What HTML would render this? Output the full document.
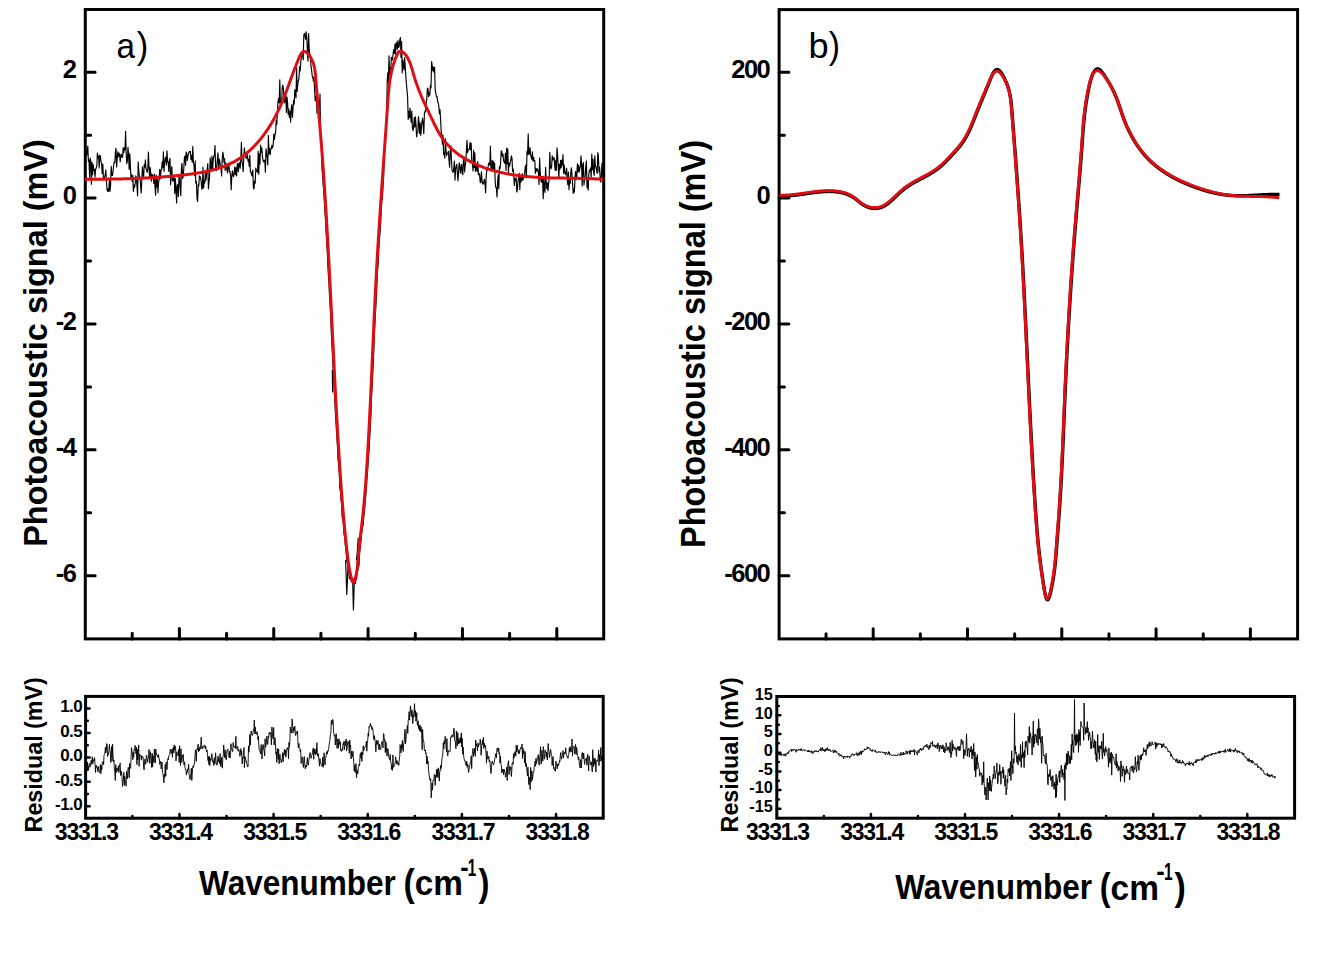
<!DOCTYPE html>
<html><head><meta charset="utf-8"><title>Photoacoustic spectra</title>
<style>html,body{margin:0;padding:0;background:#fff;width:1322px;height:953px;overflow:hidden}
svg text{font-family:"Liberation Sans", sans-serif}</style></head>
<body>
<svg width="1322" height="953" viewBox="0 0 1322 953" style="display:block">
<rect width="1322" height="953" fill="#fff"/>
<path d="M85.30 575.74L95.10 575.74M85.30 512.80L90.60 512.80M85.30 449.86L95.10 449.86M85.30 386.92L90.60 386.92M85.30 323.98L95.10 323.98M85.30 261.04L90.60 261.04M85.30 198.10L95.10 198.10M85.30 135.16L90.60 135.16M85.30 72.22L95.10 72.22M132.23 638.90L132.23 633.20M179.40 638.90L179.40 628.40M226.58 638.90L226.58 633.20M273.75 638.90L273.75 628.40M320.93 638.90L320.93 633.20M368.10 638.90L368.10 628.40M415.27 638.90L415.27 633.20M462.45 638.90L462.45 628.40M509.62 638.90L509.62 633.20M556.80 638.90L556.80 628.40" stroke="#000" stroke-width="3" fill="none" stroke-linecap="round"/><rect x="85.3" y="9.5" width="518.4000000000001" height="629.4" fill="none" stroke="#000" stroke-width="3"/><path d="M779.10 575.74L788.90 575.74M779.10 512.80L784.40 512.80M779.10 449.86L788.90 449.86M779.10 386.92L784.40 386.92M779.10 323.98L788.90 323.98M779.10 261.04L784.40 261.04M779.10 198.10L788.90 198.10M779.10 135.16L784.40 135.16M779.10 72.22L788.90 72.22M826.05 638.90L826.05 633.70M873.20 638.90L873.20 628.70M920.35 638.90L920.35 633.70M967.50 638.90L967.50 628.70M1014.65 638.90L1014.65 633.70M1061.80 638.90L1061.80 628.70M1108.95 638.90L1108.95 633.70M1156.10 638.90L1156.10 628.70M1203.25 638.90L1203.25 633.70M1250.40 638.90L1250.40 628.70" stroke="#000" stroke-width="3" fill="none" stroke-linecap="round"/><rect x="779.1" y="9.6" width="518.4999999999999" height="629.3" fill="none" stroke="#000" stroke-width="3"/><path d="M85.60 806.30L89.60 806.30M85.60 794.07L87.80 794.07M85.60 781.85L89.60 781.85M85.60 769.62L87.80 769.62M85.60 757.40L89.60 757.40M85.60 745.17L87.80 745.17M85.60 732.95L89.60 732.95M85.60 720.73L87.80 720.73M85.60 708.50L89.60 708.50M132.38 818.20L132.38 816.00M179.45 818.20L179.45 813.90M226.53 818.20L226.53 816.00M273.60 818.20L273.60 813.90M320.68 818.20L320.68 816.00M367.75 818.20L367.75 813.90M414.83 818.20L414.83 816.00M461.90 818.20L461.90 813.90M508.98 818.20L508.98 816.00M556.05 818.20L556.05 813.90" stroke="#000" stroke-width="2.5" fill="none" stroke-linecap="round"/><rect x="85.6" y="696.4" width="517.6" height="121.80000000000007" fill="none" stroke="#000" stroke-width="3"/><path d="M776.80 808.80L780.40 808.80M776.80 799.45L778.80 799.45M776.80 790.10L780.40 790.10M776.80 780.75L778.80 780.75M776.80 771.40L780.40 771.40M776.80 762.05L778.80 762.05M776.80 752.70L780.40 752.70M776.80 743.35L778.80 743.35M776.80 734.00L780.40 734.00M776.80 724.65L778.80 724.65M776.80 715.30L780.40 715.30M776.80 705.95L778.80 705.95M823.85 818.20L823.85 816.00M870.90 818.20L870.90 813.90M917.95 818.20L917.95 816.00M965.00 818.20L965.00 813.90M1012.05 818.20L1012.05 816.00M1059.10 818.20L1059.10 813.90M1106.15 818.20L1106.15 816.00M1153.20 818.20L1153.20 813.90M1200.25 818.20L1200.25 816.00M1247.30 818.20L1247.30 813.90" stroke="#000" stroke-width="2.5" fill="none" stroke-linecap="round"/><rect x="776.8" y="696.5" width="517.8" height="121.70000000000005" fill="none" stroke="#000" stroke-width="3"/><path d="M86.0 149.4L86.6 155.6L87.2 152.2L87.8 146.1L88.4 161.6L89.0 159.9L89.6 177.2L90.2 158.1L90.8 161.1L91.4 184.2L92.0 162.3L92.6 174.7L93.2 164.5L93.8 170.5L94.4 169.3L95.0 176.9L95.6 169.4L96.2 167.7L96.8 166.3L97.4 153.1L98.0 157.9L98.6 156.0L99.2 168.0L99.8 155.2L100.4 156.0L101.0 161.7L101.6 163.9L102.2 173.5L102.8 164.1L103.4 177.6L104.0 178.3L104.6 176.9L105.2 175.0L105.8 169.9L106.4 181.1L107.0 189.3L107.6 191.3L108.2 188.5L108.8 191.5L109.4 179.0L110.0 191.1L110.6 185.1L111.2 166.4L111.8 175.2L112.4 175.6L113.0 171.9L113.6 165.6L114.2 162.0L114.8 162.7L115.4 152.4L116.0 148.2L116.6 167.0L117.2 158.5L117.8 151.7L118.4 156.7L119.0 153.0L119.6 155.2L120.2 161.9L120.8 155.5L121.4 154.1L122.0 157.5L122.6 157.1L123.2 147.5L123.8 152.7L124.4 148.3L125.0 149.7L125.6 131.3L126.2 154.7L126.8 163.7L127.4 160.3L128.0 147.3L128.6 155.4L129.2 169.4L129.8 153.7L130.4 166.5L131.0 179.5L131.6 174.6L132.2 181.4L132.8 175.6L133.4 191.4L134.0 185.0L134.6 187.4L135.2 183.3L135.8 175.9L136.4 177.5L137.0 186.5L137.6 195.6L138.2 162.1L138.8 171.3L139.4 176.5L140.0 177.5L140.6 185.9L141.2 192.9L141.8 181.4L142.4 166.8L143.0 173.4L143.6 178.7L144.2 164.5L144.8 167.1L145.4 159.9L146.0 168.7L146.6 169.8L147.2 172.4L147.8 169.0L148.4 152.0L149.0 166.3L149.6 177.6L150.2 167.6L150.8 173.5L151.4 181.2L152.0 174.3L152.6 175.0L153.2 176.7L153.8 183.4L154.4 174.0L155.0 186.6L155.6 195.2L156.2 175.1L156.8 186.9L157.4 178.8L158.0 192.6L158.6 182.1L159.2 179.5L159.8 169.3L160.4 178.8L161.0 170.4L161.6 169.5L162.2 161.8L162.8 167.8L163.4 151.8L164.0 171.5L164.6 162.8L165.2 158.3L165.8 157.2L166.4 165.1L167.0 150.9L167.6 162.2L168.2 162.0L168.8 171.5L169.4 160.2L170.0 158.4L170.6 184.8L171.2 172.6L171.8 166.6L172.4 180.6L173.0 181.2L173.6 179.2L174.2 176.7L174.8 193.6L175.4 178.7L176.0 189.6L176.6 203.0L177.2 185.7L177.8 184.4L178.4 196.5L179.0 175.5L179.6 176.5L180.2 188.0L180.8 195.7L181.4 168.1L182.0 163.4L182.6 178.7L183.2 176.2L183.8 168.6L184.4 158.0L185.0 156.0L185.6 165.1L186.2 152.0L186.8 153.5L187.4 160.4L188.0 155.7L188.6 153.7L189.2 151.6L189.8 152.1L190.4 151.3L191.0 159.7L191.6 155.5L192.2 161.9L192.8 146.4L193.4 162.8L194.0 165.1L194.6 175.6L195.2 160.8L195.8 183.3L196.4 181.6L197.0 198.1L197.6 201.6L198.2 184.9L198.8 185.9L199.4 175.9L200.0 176.5L200.6 178.2L201.2 182.0L201.8 189.2L202.4 188.3L203.0 167.2L203.6 188.0L204.2 180.9L204.8 183.0L205.4 172.4L206.0 180.1L206.6 173.7L207.2 169.2L207.8 163.6L208.4 188.8L209.0 182.2L209.6 176.7L210.2 157.9L210.8 167.5L211.4 169.1L212.0 156.1L212.6 170.8L213.2 159.8L213.8 156.4L214.4 155.2L215.0 145.5L215.6 167.4L216.2 170.9L216.8 165.8L217.4 159.1L218.0 152.9L218.6 169.2L219.2 159.1L219.8 161.0L220.4 166.3L221.0 167.1L221.6 176.0L222.2 159.2L222.8 152.2L223.4 155.8L224.0 162.6L224.6 158.6L225.2 170.5L225.8 163.0L226.4 164.2L227.0 170.5L227.6 172.9L228.2 165.7L228.8 163.0L229.4 171.7L230.0 171.4L230.6 176.0L231.2 189.7L231.8 175.9L232.4 170.8L233.0 175.3L233.6 176.7L234.2 172.7L234.8 166.9L235.4 174.6L236.0 167.9L236.6 175.8L237.2 165.1L237.8 163.4L238.4 171.6L239.0 164.5L239.6 162.7L240.2 168.3L240.8 159.0L241.4 142.2L242.0 161.3L242.6 165.2L243.2 171.6L243.8 157.6L244.4 148.1L245.0 154.6L245.6 155.7L246.2 158.6L246.8 156.4L247.4 154.7L248.0 161.3L248.6 159.4L249.2 166.1L249.8 155.2L250.4 172.1L251.0 171.9L251.6 174.9L252.2 175.9L252.8 170.0L253.4 187.5L254.0 189.0L254.6 181.0L255.2 183.3L255.8 168.1L256.4 170.7L257.0 171.5L257.6 172.3L258.2 151.2L258.8 174.2L259.4 153.9L260.0 164.0L260.6 145.0L261.2 152.4L261.8 147.9L262.4 155.8L263.0 160.4L263.6 161.9L264.2 160.2L264.8 160.2L265.4 172.3L266.0 148.8L266.6 153.6L267.2 157.3L267.8 164.9L268.4 135.4L269.0 153.8L269.6 148.1L270.2 154.8L270.8 148.7L271.4 148.7L272.0 145.2L272.6 148.0L273.2 144.9L273.8 134.0L274.4 139.5L275.0 134.8L275.6 132.5L276.2 120.3L276.8 124.6L277.4 112.5L278.0 101.4L278.6 98.3L279.2 102.8L279.8 79.8L280.4 104.2L281.0 101.9L281.6 104.8L282.2 87.7L282.8 85.1L283.4 88.9L284.0 98.3L284.6 102.9L285.2 98.4L285.8 94.2L286.4 112.4L287.0 97.1L287.6 103.1L288.2 114.5L288.8 109.1L289.4 117.3L290.0 111.6L290.6 122.2L291.2 109.2L291.8 104.7L292.4 117.3L293.0 109.8L293.6 100.4L294.2 104.1L294.8 89.6L295.4 92.2L296.0 97.9L296.6 67.8L297.2 91.4L297.8 84.2L298.4 80.6L299.0 78.3L299.6 66.5L300.2 70.9L300.8 61.7L301.4 56.8L302.0 54.3L302.6 54.3L303.2 59.8L303.8 35.5L304.4 33.3L305.0 35.5L305.6 39.3L306.2 31.7L306.8 38.3L307.4 50.8L308.0 61.2L308.6 33.5L309.2 49.9L309.8 54.6L310.4 57.0L311.0 66.3L311.6 70.0L312.2 76.0L312.8 77.1L313.4 81.2L314.0 77.1L314.6 91.0L315.2 100.8L315.8 96.3L316.4 99.5L317.0 113.1L317.6 104.4L318.2 104.3L318.8 101.0L319.4 114.6L320.0 93.9L320.6 133.8L321.2 140.0L321.8 150.3L322.4 170.9L323.0 182.3L323.6 190.2L324.2 198.5L324.8 210.2L325.4 218.1L326.0 231.0L326.6 239.9L327.2 250.4L327.8 264.2L328.4 274.9L329.0 283.6L329.6 297.9L330.2 306.4L330.8 317.3L331.4 334.5L332.0 346.6L332.6 357.4L333.2 371.1L333.8 380.0L334.4 394.6L335.0 405.3L335.6 416.7L336.2 425.6L336.8 436.7L337.4 445.2L338.0 459.1L338.6 464.3L339.2 472.3L339.8 487.7L340.4 491.3L341.0 499.1L341.6 504.3L342.2 517.8L342.8 519.1L343.4 525.3L344.0 534.8L344.6 533.9L345.2 544.1L345.8 548.8L346.4 555.1L347.0 562.7L347.6 563.7L348.2 566.2L348.8 571.4L349.4 578.6L350.0 577.4L350.6 579.0L351.2 580.8L351.8 582.0L352.4 577.8L353.0 578.8L353.6 582.0L354.2 580.5L354.8 582.0L355.4 583.6L356.0 578.5L356.6 579.2L357.2 570.3L357.8 570.4L358.4 567.5L359.0 565.3L359.6 553.4L360.2 547.3L360.8 542.9L361.4 535.9L362.0 530.6L362.6 526.9L363.2 524.2L363.8 516.8L364.4 511.7L365.0 504.1L365.6 497.0L366.2 491.3L366.8 480.6L367.4 473.9L368.0 465.3L368.6 455.7L369.2 448.5L369.8 436.1L370.4 424.1L371.0 413.1L371.6 394.1L372.2 386.5L372.8 371.2L373.4 362.4L374.0 344.4L374.6 330.7L375.2 317.8L375.8 307.7L376.4 296.4L377.0 281.7L377.6 269.9L378.2 264.0L378.8 249.0L379.4 239.8L380.0 232.9L380.6 223.8L381.2 211.5L381.8 201.2L382.4 197.9L383.0 186.4L383.6 177.4L384.2 151.6L384.8 144.7L385.4 135.6L386.0 127.8L386.6 121.2L387.2 81.9L387.8 72.8L388.4 82.2L389.0 55.8L389.6 74.9L390.2 68.1L390.8 68.8L391.4 57.3L392.0 58.8L392.6 59.9L393.2 52.8L393.8 49.4L394.4 53.5L395.0 44.0L395.6 54.2L396.2 43.0L396.8 42.3L397.4 49.1L398.0 40.6L398.6 47.5L399.2 46.2L399.8 39.8L400.4 37.6L401.0 57.5L401.6 41.5L402.2 73.0L402.8 59.9L403.4 64.4L404.0 70.0L404.6 57.6L405.2 66.1L405.8 75.6L406.4 83.9L407.0 90.1L407.6 96.9L408.2 119.5L408.8 111.2L409.4 117.7L410.0 108.0L410.6 116.3L411.2 122.2L411.8 111.0L412.4 127.5L413.0 130.7L413.6 127.3L414.2 117.7L414.8 127.0L415.4 116.9L416.0 124.5L416.6 136.8L417.2 132.9L417.8 132.4L418.4 116.6L419.0 121.6L419.6 133.5L420.2 123.0L420.8 135.3L421.4 128.4L422.0 121.3L422.6 118.2L423.2 125.0L423.8 133.7L424.4 113.7L425.0 111.1L425.6 111.8L426.2 103.0L426.8 99.4L427.4 88.0L428.0 88.8L428.6 96.6L429.2 93.2L429.8 95.2L430.4 85.4L431.0 87.9L431.6 61.5L432.2 65.4L432.8 71.0L433.4 67.0L434.0 72.2L434.6 67.2L435.2 89.7L435.8 93.2L436.4 96.6L437.0 96.4L437.6 101.8L438.2 102.9L438.8 105.9L439.4 113.8L440.0 109.5L440.6 119.7L441.2 132.0L441.8 134.4L442.4 144.2L443.0 135.3L443.6 154.4L444.2 152.5L444.8 158.1L445.4 138.8L446.0 151.2L446.6 155.7L447.2 153.3L447.8 153.1L448.4 151.4L449.0 160.2L449.6 167.2L450.2 152.0L450.8 145.5L451.4 158.4L452.0 169.9L452.6 171.7L453.2 172.2L453.8 168.1L454.4 161.0L455.0 180.1L455.6 169.1L456.2 166.2L456.8 164.4L457.4 173.5L458.0 180.7L458.6 170.9L459.2 162.9L459.8 165.0L460.4 173.1L461.0 168.8L461.6 164.3L462.2 173.2L462.8 174.7L463.4 160.4L464.0 157.1L464.6 171.9L465.2 165.8L465.8 162.2L466.4 149.9L467.0 140.4L467.6 152.7L468.2 149.8L468.8 149.3L469.4 149.2L470.0 142.4L470.6 149.9L471.2 143.4L471.8 162.5L472.4 163.0L473.0 170.9L473.6 150.4L474.2 167.4L474.8 152.8L475.4 171.3L476.0 164.4L476.6 169.1L477.2 171.5L477.8 161.5L478.4 174.9L479.0 173.4L479.6 174.6L480.2 182.5L480.8 182.7L481.4 171.9L482.0 180.1L482.6 183.9L483.2 184.1L483.8 181.9L484.4 179.2L485.0 183.6L485.6 192.6L486.2 176.1L486.8 170.0L487.4 170.1L488.0 167.8L488.6 163.2L489.2 163.0L489.8 165.2L490.4 146.2L491.0 169.7L491.6 170.6L492.2 160.3L492.8 170.8L493.4 161.4L494.0 170.4L494.6 163.0L495.2 181.9L495.8 187.8L496.4 187.9L497.0 196.9L497.6 181.2L498.2 175.1L498.8 188.7L499.4 166.7L500.0 168.6L500.6 163.1L501.2 150.9L501.8 151.5L502.4 156.2L503.0 154.1L503.6 160.6L504.2 162.2L504.8 163.3L505.4 153.2L506.0 170.4L506.6 148.2L507.2 163.7L507.8 148.9L508.4 173.2L509.0 163.2L509.6 166.0L510.2 162.4L510.8 160.0L511.4 155.9L512.0 158.2L512.6 171.5L513.2 168.8L513.8 176.7L514.4 185.5L515.0 178.3L515.6 180.3L516.2 177.7L516.8 192.0L517.4 189.8L518.0 181.0L518.6 178.3L519.2 173.2L519.8 189.8L520.4 175.4L521.0 182.0L521.6 179.1L522.2 173.5L522.8 180.2L523.4 179.1L524.0 176.2L524.6 174.0L525.2 167.2L525.8 165.2L526.4 178.0L527.0 151.3L527.6 154.7L528.2 133.9L528.8 154.5L529.4 153.2L530.0 147.6L530.6 155.5L531.2 156.8L531.8 159.3L532.4 151.8L533.0 161.1L533.6 157.3L534.2 160.9L534.8 160.5L535.4 173.4L536.0 168.4L536.6 171.0L537.2 168.9L537.8 169.6L538.4 173.0L539.0 184.5L539.6 158.1L540.2 171.8L540.8 179.8L541.4 182.3L542.0 179.0L542.6 177.8L543.2 198.8L543.8 179.2L544.4 189.4L545.0 192.4L545.6 167.4L546.2 181.4L546.8 188.8L547.4 182.7L548.0 190.7L548.6 183.3L549.2 178.1L549.8 152.3L550.4 166.6L551.0 168.9L551.6 167.1L552.2 155.8L552.8 159.9L553.4 159.6L554.0 157.4L554.6 164.1L555.2 170.4L555.8 160.2L556.4 170.2L557.0 147.9L557.6 155.4L558.2 164.9L558.8 178.6L559.4 164.3L560.0 169.2L560.6 160.4L561.2 167.6L561.8 160.1L562.4 165.0L563.0 154.5L563.6 173.4L564.2 165.0L564.8 171.5L565.4 174.9L566.0 173.4L566.6 168.2L567.2 178.2L567.8 184.7L568.4 172.0L569.0 189.8L569.6 179.2L570.2 183.7L570.8 172.4L571.4 167.9L572.0 175.4L572.6 183.6L573.2 193.5L573.8 188.9L574.4 192.1L575.0 178.2L575.6 171.6L576.2 179.8L576.8 176.3L577.4 163.8L578.0 171.9L578.6 165.4L579.2 172.0L579.8 168.3L580.4 166.4L581.0 155.8L581.6 165.3L582.2 185.9L582.8 164.7L583.4 162.6L584.0 185.0L584.6 178.6L585.2 176.6L585.8 165.9L586.4 161.1L587.0 187.7L587.6 177.8L588.2 190.2L588.8 174.4L589.4 170.0L590.0 171.0L590.6 167.8L591.2 177.2L591.8 154.0L592.4 169.8L593.0 159.1L593.6 171.6L594.2 175.4L594.8 155.9L595.4 166.1L596.0 167.1L596.6 170.5L597.2 173.6L597.8 152.5L598.4 156.2L599.0 171.9L599.6 167.1L600.2 179.0L600.8 182.1L601.4 174.6L602.0 163.1L602.6 174.4L603.2 180.8" fill="none" stroke="#000" stroke-width="1.15" stroke-linejoin="round"/><path d="M345.6 560L346.8 594.5L348 566M352.6 578L353.4 610L354.4 580M356.3 560L357.2 553L358.2 538L357.4 556L356.6 575M332.3 370L332.6 392L333 378M322.2 148L321.6 160L322.6 175" fill="none" stroke="#000" stroke-width="1.15" stroke-linejoin="round"/><path d="M85.0 179.3L85.5 179.3L86.0 179.3L86.5 179.3L87.0 179.3L87.5 179.3L88.0 179.3L88.5 179.3L89.0 179.3L89.5 179.3L90.0 179.3L90.5 179.3L91.0 179.3L91.5 179.3L92.0 179.3L92.5 179.3L93.0 179.3L93.5 179.3L94.0 179.3L94.5 179.3L95.0 179.3L95.5 179.3L96.0 179.3L96.5 179.3L97.0 179.3L97.5 179.3L98.0 179.2L98.5 179.2L99.0 179.2L99.5 179.2L100.0 179.2L100.5 179.2L101.0 179.2L101.5 179.2L102.0 179.2L102.5 179.2L103.0 179.2L103.5 179.2L104.0 179.2L104.5 179.2L105.0 179.2L105.5 179.2L106.0 179.2L106.5 179.2L107.0 179.2L107.5 179.2L108.0 179.1L108.5 179.1L109.0 179.1L109.5 179.1L110.0 179.1L110.5 179.1L111.0 179.1L111.5 179.1L112.0 179.1L112.5 179.1L113.0 179.1L113.5 179.1L114.0 179.1L114.5 179.0L115.0 179.0L115.5 179.0L116.0 179.0L116.5 179.0L117.0 179.0L117.5 179.0L118.0 179.0L118.5 179.0L119.0 179.0L119.5 178.9L120.0 178.9L120.5 178.9L121.0 178.9L121.5 178.9L122.0 178.9L122.5 178.9L123.0 178.9L123.5 178.8L124.0 178.8L124.5 178.8L125.0 178.8L125.5 178.8L126.0 178.8L126.5 178.8L127.0 178.7L127.5 178.7L128.0 178.7L128.5 178.7L129.0 178.7L129.5 178.7L130.0 178.7L130.5 178.6L131.0 178.6L131.5 178.6L132.0 178.6L132.5 178.6L133.0 178.6L133.5 178.5L134.0 178.5L134.5 178.5L135.0 178.5L135.5 178.5L136.0 178.4L136.5 178.4L137.0 178.4L137.5 178.4L138.0 178.4L138.5 178.3L139.0 178.3L139.5 178.3L140.0 178.3L140.5 178.2L141.0 178.2L141.5 178.2L142.0 178.2L142.5 178.1L143.0 178.1L143.5 178.1L144.0 178.1L144.5 178.0L145.0 178.0L145.5 178.0L146.0 178.0L146.5 177.9L147.0 177.9L147.5 177.9L148.0 177.9L148.5 177.8L149.0 177.8L149.5 177.8L150.0 177.7L150.5 177.7L151.0 177.7L151.5 177.7L152.0 177.6L152.5 177.6L153.0 177.6L153.5 177.5L154.0 177.5L154.5 177.5L155.0 177.4L155.5 177.4L156.0 177.4L156.5 177.3L157.0 177.3L157.5 177.3L158.0 177.2L158.5 177.2L159.0 177.2L159.5 177.1L160.0 177.1L160.5 177.1L161.0 177.0L161.5 177.0L162.0 176.9L162.5 176.9L162.9 176.9L163.4 176.8L163.9 176.8L164.4 176.7L164.9 176.7L165.4 176.7L165.9 176.6L166.4 176.6L166.9 176.5L167.4 176.5L167.9 176.5L168.4 176.4L168.9 176.4L169.4 176.3L169.9 176.3L170.4 176.2L170.9 176.2L171.4 176.2L171.9 176.1L172.4 176.1L172.9 176.0L173.4 176.0L173.9 175.9L174.4 175.9L174.9 175.8L175.4 175.8L175.9 175.7L176.4 175.7L176.9 175.6L177.4 175.6L177.9 175.5L178.4 175.5L178.9 175.4L179.4 175.4L179.9 175.3L180.4 175.3L180.9 175.2L181.4 175.2L181.9 175.1L182.4 175.1L182.9 175.0L183.4 175.0L183.9 174.9L184.4 174.8L184.9 174.8L185.3 174.7L185.8 174.7L186.3 174.6L186.8 174.5L187.3 174.5L187.8 174.4L188.3 174.4L188.8 174.3L189.3 174.2L189.8 174.2L190.3 174.1L190.8 174.0L191.3 174.0L191.8 173.9L192.3 173.8L192.8 173.8L193.3 173.7L193.8 173.6L194.3 173.6L194.8 173.5L195.3 173.4L195.8 173.3L196.3 173.3L196.7 173.2L197.2 173.1L197.7 173.0L198.2 173.0L198.7 172.9L199.2 172.8L199.7 172.7L200.2 172.6L200.7 172.5L201.2 172.4L201.7 172.4L202.2 172.3L202.7 172.2L203.1 172.1L203.6 172.0L204.1 171.9L204.6 171.8L205.1 171.7L205.6 171.6L206.1 171.5L206.6 171.4L207.1 171.3L207.6 171.2L208.0 171.1L208.5 170.9L209.0 170.8L209.5 170.7L210.0 170.6L210.5 170.5L211.0 170.4L211.5 170.2L211.9 170.1L212.4 170.0L212.9 169.9L213.4 169.7L213.9 169.6L214.4 169.5L214.8 169.3L215.3 169.2L215.8 169.1L216.3 168.9L216.8 168.8L217.2 168.6L217.7 168.5L218.2 168.4L218.7 168.2L219.1 168.0L219.6 167.9L220.1 167.7L220.6 167.6L221.0 167.4L221.5 167.2L222.0 167.1L222.5 166.9L222.9 166.7L223.4 166.6L223.9 166.4L224.3 166.2L224.8 166.0L225.3 165.8L225.7 165.7L226.2 165.5L226.6 165.3L227.1 165.1L227.6 164.9L228.0 164.7L228.5 164.5L228.9 164.3L229.4 164.1L229.8 163.9L230.3 163.6L230.7 163.4L231.2 163.2L231.6 163.0L232.1 162.8L232.5 162.5L233.0 162.3L233.4 162.1L233.9 161.8L234.3 161.6L234.7 161.4L235.2 161.1L235.6 160.9L236.0 160.6L236.5 160.4L236.9 160.1L237.3 159.8L237.8 159.6L238.2 159.3L238.6 159.0L239.0 158.8L239.4 158.5L239.9 158.2L240.3 157.9L240.7 157.7L241.1 157.4L241.5 157.1L241.9 156.8L242.3 156.5L242.7 156.2L243.1 155.9L243.5 155.6L243.9 155.3L244.3 155.0L244.7 154.7L245.1 154.4L245.5 154.1L245.9 153.8L246.3 153.5L246.7 153.1L247.1 152.8L247.4 152.5L247.8 152.2L248.2 151.8L248.6 151.5L248.9 151.2L249.3 150.9L249.7 150.5L250.1 150.2L250.4 149.8L250.8 149.5L251.2 149.2L251.5 148.8L251.9 148.5L252.2 148.1L252.6 147.8L253.0 147.4L253.3 147.1L253.7 146.7L254.0 146.4L254.4 146.0L254.7 145.6L255.0 145.3L255.4 144.9L255.7 144.5L256.1 144.2L256.4 143.8L256.7 143.4L257.1 143.1L257.4 142.7L257.7 142.3L258.1 141.9L258.4 141.6L258.7 141.2L259.1 140.8L259.4 140.4L259.7 140.0L260.0 139.7L260.3 139.3L260.6 138.9L261.0 138.5L261.3 138.1L261.6 137.7L261.9 137.3L262.2 136.9L262.5 136.5L262.8 136.1L263.1 135.7L263.4 135.3L263.7 134.9L264.0 134.5L264.3 134.1L264.6 133.7L264.9 133.3L265.2 132.9L265.5 132.5L265.8 132.1L266.1 131.7L266.3 131.3L266.6 130.9L266.9 130.5L267.2 130.0L267.5 129.6L267.7 129.2L268.0 128.8L268.3 128.4L268.6 128.0L268.8 127.5L269.1 127.1L269.4 126.7L269.6 126.3L269.9 125.8L270.2 125.4L270.4 125.0L270.7 124.6L271.0 124.1L271.2 123.7L271.5 123.3L271.7 122.9L272.0 122.4L272.2 122.0L272.5 121.6L272.7 121.1L273.0 120.7L273.2 120.3L273.5 119.8L273.7 119.4L274.0 118.9L274.2 118.5L274.4 118.1L274.7 117.6L274.9 117.2L275.2 116.7L275.4 116.3L275.6 115.9L275.8 115.4L276.1 115.0L276.3 114.5L276.5 114.1L276.8 113.6L277.0 113.2L277.2 112.7L277.4 112.3L277.6 111.8L277.9 111.4L278.1 110.9L278.3 110.5L278.5 110.0L278.7 109.6L278.9 109.1L279.2 108.7L279.4 108.2L279.6 107.8L279.8 107.3L280.0 106.9L280.2 106.4L280.4 106.0L280.6 105.5L280.8 105.0L281.0 104.6L281.2 104.1L281.4 103.7L281.6 103.2L281.8 102.7L282.0 102.3L282.2 101.8L282.4 101.4L282.6 100.9L282.7 100.4L282.9 100.0L283.1 99.5L283.3 99.0L283.5 98.6L283.7 98.1L283.9 97.7L284.1 97.2L284.2 96.7L284.4 96.3L284.6 95.8L284.8 95.3L285.0 94.9L285.1 94.4L285.3 93.9L285.5 93.5L285.7 93.0L285.9 92.5L286.0 92.1L286.2 91.6L286.4 91.1L286.6 90.7L286.7 90.2L286.9 89.7L287.1 89.2L287.3 88.8L287.4 88.3L287.6 87.8L287.8 87.4L288.0 86.9L288.1 86.4L288.3 86.0L288.5 85.5L288.6 85.0L288.8 84.6L289.0 84.1L289.2 83.6L289.3 83.1L289.5 82.7L289.7 82.2L289.8 81.7L290.0 81.3L290.2 80.8L290.4 80.3L290.5 79.9L290.7 79.4L290.9 78.9L291.0 78.4L291.2 78.0L291.4 77.5L291.6 77.0L291.7 76.6L291.9 76.1L292.1 75.6L292.3 75.2L292.4 74.7L292.6 74.2L292.8 73.8L292.9 73.3L293.1 72.8L293.3 72.3L293.5 71.9L293.6 71.4L293.8 70.9L294.0 70.5L294.2 70.0L294.4 69.5L294.5 69.1L294.7 68.6L294.9 68.1L295.1 67.7L295.3 67.2L295.4 66.7L295.6 66.3L295.8 65.8L296.0 65.3L296.2 64.9L296.4 64.4L296.5 63.9L296.7 63.5L296.9 63.0L297.1 62.6L297.3 62.1L297.5 61.6L297.7 61.2L297.8 60.7L298.0 60.2L298.2 59.8L298.4 59.3L298.6 58.9L298.8 58.4L299.0 57.9L299.2 57.5L299.4 57.0L299.6 56.6L299.8 56.1L300.0 55.7L300.2 55.2L300.5 54.8L300.7 54.3L301.0 53.9L301.2 53.5L301.5 53.1L301.8 52.7L302.2 52.3L302.6 52.0L303.0 51.7L303.4 51.5L303.9 51.4L304.4 51.4L304.9 51.5L305.4 51.7L305.8 51.9L306.2 52.2L306.6 52.5L307.0 52.8L307.4 53.1L307.7 53.5L308.1 53.9L308.4 54.2L308.7 54.6L309.0 55.0L309.3 55.4L309.6 55.8L309.9 56.2L310.2 56.6L310.4 57.1L310.7 57.5L311.0 57.9L311.2 58.4L311.4 58.8L311.7 59.2L311.9 59.7L312.1 60.2L312.3 60.6L312.5 61.1L312.7 61.5L312.9 62.0L313.0 62.5L313.2 62.9L313.4 63.4L313.5 63.9L313.7 64.4L313.8 64.9L313.9 65.3L314.0 65.8L314.2 66.3L314.3 66.8L314.4 67.3L314.5 67.8L314.6 68.3L314.7 68.8L314.8 69.2L314.8 69.7L314.9 70.2L315.0 70.7L315.1 71.2L315.1 71.7L315.2 72.2L315.2 72.7L315.3 73.2L315.4 73.7L315.4 74.2L315.5 74.7L315.5 75.2L315.5 75.7L315.6 76.2L315.6 76.7L315.7 77.2L315.7 77.7L315.7 78.2L315.8 78.7L315.8 79.2L315.9 79.7L315.9 80.2L315.9 80.7L316.0 81.2L316.0 81.7L316.0 82.2L316.1 82.7L316.1 83.2L316.2 83.7L316.2 84.2L316.2 84.7L316.3 85.2L316.3 85.7L316.4 86.2L316.4 86.7L316.4 87.2L316.5 87.7L316.5 88.2L316.6 88.7L316.6 89.2L316.6 89.7L316.7 90.2L316.7 90.6L316.8 91.1L316.8 91.6L316.9 92.1L316.9 92.6L316.9 93.1L317.0 93.6L317.0 94.1L317.1 94.6L317.1 95.1L317.2 95.6L317.2 96.1L317.3 96.6L317.3 97.1L317.3 97.6L317.4 98.1L317.4 98.6L317.5 99.1L317.5 99.6L317.6 100.1L317.6 100.6L317.7 101.1L317.7 101.6L317.7 102.1L317.8 102.6L317.8 103.1L317.9 103.6L317.9 104.1L318.0 104.6L318.0 105.1L318.1 105.6L318.1 106.1L318.1 106.6L318.2 107.1L318.2 107.6L318.3 108.1L318.3 108.6L318.4 109.1L318.4 109.6L318.5 110.1L318.5 110.6L318.6 111.1L318.6 111.6L318.6 112.1L318.7 112.6L318.7 113.1L318.8 113.6L318.8 114.1L318.9 114.6L318.9 115.1L319.0 115.6L319.0 116.1L319.0 116.5L319.1 117.0L319.1 117.5L319.2 118.0L319.2 118.5L319.3 119.0L319.3 119.5L319.4 120.0L319.4 120.5L319.4 121.0L319.5 121.5L319.5 122.0L319.6 122.5L319.6 123.0L319.7 123.5L319.7 124.0L319.7 124.5L319.8 125.0L319.8 125.5L319.9 126.0L319.9 126.5L320.0 127.0L320.0 127.5L320.0 128.0L320.1 128.5L320.1 129.0L320.2 129.5L320.2 130.0L320.2 130.5L320.3 131.0L320.3 131.5L320.4 132.0L320.4 132.5L320.5 133.0L320.5 133.5L320.5 134.0L320.6 134.5L320.6 135.0L320.7 135.5L320.7 136.0L320.7 136.5L320.8 137.0L320.8 137.5L320.9 138.0L320.9 138.5L320.9 139.0L321.0 139.5L321.0 140.0L321.1 140.5L321.1 141.0L321.1 141.5L321.2 142.0L321.2 142.5L321.3 143.0L321.3 143.5L321.3 144.0L321.4 144.5L321.4 145.0L321.5 145.5L321.5 146.0L321.5 146.4L321.6 146.9L321.6 147.4L321.7 147.9L321.7 148.4L321.7 148.9L321.8 149.4L321.8 149.9L321.8 150.4L321.9 150.9L321.9 151.4L322.0 151.9L322.0 152.4L322.0 152.9L322.1 153.4L322.1 153.9L322.2 154.4L322.2 154.9L322.2 155.4L322.3 155.9L322.3 156.4L322.3 156.9L322.4 157.4L322.4 157.9L322.5 158.4L322.5 158.9L322.5 159.4L322.6 159.9L322.6 160.4L322.6 160.9L322.7 161.4L322.7 161.9L322.7 162.4L322.8 162.9L322.8 163.4L322.9 163.9L322.9 164.4L322.9 164.9L323.0 165.4L323.0 165.9L323.0 166.4L323.1 166.9L323.1 167.4L323.1 167.9L323.2 168.4L323.2 168.9L323.3 169.4L323.3 169.9L323.3 170.4L323.4 170.9L323.4 171.4L323.4 171.9L323.5 172.4L323.5 172.9L323.5 173.4L323.6 173.9L323.6 174.4L323.6 174.9L323.7 175.4L323.7 175.9L323.7 176.4L323.8 176.9L323.8 177.4L323.8 177.9L323.9 178.4L323.9 178.9L323.9 179.4L324.0 179.9L324.0 180.4L324.1 180.9L324.1 181.4L324.1 181.9L324.2 182.4L324.2 182.9L324.2 183.4L324.3 183.9L324.3 184.4L324.3 184.9L324.4 185.4L324.4 185.9L324.4 186.3L324.5 186.8L324.5 187.3L324.5 187.8L324.6 188.3L324.6 188.8L324.6 189.3L324.7 189.8L324.7 190.3L324.7 190.8L324.8 191.3L324.8 191.8L324.8 192.3L324.9 192.8L324.9 193.3L324.9 193.8L324.9 194.3L325.0 194.8L325.0 195.3L325.0 195.8L325.1 196.3L325.1 196.8L325.1 197.3L325.2 197.8L325.2 198.3L325.2 198.8L325.3 199.3L325.3 199.8L325.3 200.3L325.4 200.8L325.4 201.3L325.4 201.8L325.5 202.3L325.5 202.8L325.5 203.3L325.6 203.8L325.6 204.3L325.6 204.8L325.6 205.3L325.7 205.8L325.7 206.3L325.7 206.8L325.8 207.3L325.8 207.8L325.8 208.3L325.9 208.8L325.9 209.3L325.9 209.8L326.0 210.3L326.0 210.8L326.0 211.3L326.0 211.8L326.1 212.3L326.1 212.8L326.1 213.3L326.2 213.8L326.2 214.3L326.2 214.8L326.3 215.3L326.3 215.8L326.3 216.3L326.4 216.8L326.4 217.3L326.4 217.8L326.4 218.3L326.5 218.8L326.5 219.3L326.5 219.8L326.6 220.3L326.6 220.8L326.6 221.3L326.6 221.8L326.7 222.3L326.7 222.8L326.7 223.3L326.8 223.8L326.8 224.3L326.8 224.8L326.9 225.3L326.9 225.8L326.9 226.3L326.9 226.8L327.0 227.3L327.0 227.8L327.0 228.3L327.1 228.8L327.1 229.3L327.1 229.8L327.1 230.3L327.2 230.8L327.2 231.3L327.2 231.8L327.3 232.3L327.3 232.8L327.3 233.3L327.3 233.8L327.4 234.3L327.4 234.8L327.4 235.3L327.5 235.8L327.5 236.3L327.5 236.8L327.5 237.3L327.6 237.8L327.6 238.3L327.6 238.8L327.7 239.3L327.7 239.8L327.7 240.3L327.7 240.8L327.8 241.3L327.8 241.8L327.8 242.3L327.8 242.8L327.9 243.3L327.9 243.7L327.9 244.2L328.0 244.7L328.0 245.2L328.0 245.7L328.0 246.2L328.1 246.7L328.1 247.2L328.1 247.7L328.2 248.2L328.2 248.7L328.2 249.2L328.2 249.7L328.3 250.2L328.3 250.7L328.3 251.2L328.3 251.7L328.4 252.2L328.4 252.7L328.4 253.2L328.4 253.7L328.5 254.2L328.5 254.7L328.5 255.2L328.6 255.7L328.6 256.2L328.6 256.7L328.6 257.2L328.7 257.7L328.7 258.2L328.7 258.7L328.7 259.2L328.8 259.7L328.8 260.2L328.8 260.7L328.9 261.2L328.9 261.7L328.9 262.2L328.9 262.7L329.0 263.2L329.0 263.7L329.0 264.2L329.0 264.7L329.1 265.2L329.1 265.7L329.1 266.2L329.1 266.7L329.2 267.2L329.2 267.7L329.2 268.2L329.2 268.7L329.3 269.2L329.3 269.7L329.3 270.2L329.3 270.7L329.4 271.2L329.4 271.7L329.4 272.2L329.5 272.7L329.5 273.2L329.5 273.7L329.5 274.2L329.6 274.7L329.6 275.2L329.6 275.7L329.6 276.2L329.7 276.7L329.7 277.2L329.7 277.7L329.7 278.2L329.8 278.7L329.8 279.2L329.8 279.7L329.8 280.2L329.9 280.7L329.9 281.2L329.9 281.7L329.9 282.2L330.0 282.7L330.0 283.2L330.0 283.7L330.0 284.2L330.1 284.7L330.1 285.2L330.1 285.7L330.1 286.2L330.2 286.7L330.2 287.2L330.2 287.7L330.2 288.2L330.3 288.7L330.3 289.2L330.3 289.7L330.3 290.2L330.4 290.7L330.4 291.2L330.4 291.7L330.4 292.2L330.5 292.7L330.5 293.2L330.5 293.7L330.5 294.2L330.6 294.7L330.6 295.2L330.6 295.7L330.6 296.2L330.7 296.7L330.7 297.2L330.7 297.7L330.7 298.2L330.8 298.7L330.8 299.2L330.8 299.7L330.8 300.2L330.9 300.7L330.9 301.2L330.9 301.7L330.9 302.2L331.0 302.7L331.0 303.2L331.0 303.7L331.0 304.2L331.1 304.7L331.1 305.2L331.1 305.7L331.1 306.2L331.2 306.7L331.2 307.2L331.2 307.7L331.2 308.2L331.3 308.7L331.3 309.2L331.3 309.7L331.3 310.2L331.4 310.7L331.4 311.2L331.4 311.7L331.4 312.2L331.5 312.7L331.5 313.2L331.5 313.7L331.5 314.2L331.6 314.7L331.6 315.2L331.6 315.7L331.6 316.2L331.7 316.7L331.7 317.2L331.7 317.7L331.7 318.2L331.8 318.7L331.8 319.2L331.8 319.7L331.8 320.2L331.9 320.7L331.9 321.2L331.9 321.7L331.9 322.2L332.0 322.7L332.0 323.2L332.0 323.7L332.0 324.2L332.1 324.7L332.1 325.2L332.1 325.7L332.1 326.2L332.2 326.7L332.2 327.1L332.2 327.6L332.2 328.1L332.3 328.6L332.3 329.1L332.3 329.6L332.3 330.1L332.3 330.6L332.4 331.1L332.4 331.6L332.4 332.1L332.4 332.6L332.5 333.1L332.5 333.6L332.5 334.1L332.5 334.6L332.6 335.1L332.6 335.6L332.6 336.1L332.6 336.6L332.7 337.1L332.7 337.6L332.7 338.1L332.7 338.6L332.8 339.1L332.8 339.6L332.8 340.1L332.8 340.6L332.9 341.1L332.9 341.6L332.9 342.1L332.9 342.6L333.0 343.1L333.0 343.6L333.0 344.1L333.0 344.6L333.1 345.1L333.1 345.6L333.1 346.1L333.1 346.6L333.2 347.1L333.2 347.6L333.2 348.1L333.2 348.6L333.3 349.1L333.3 349.6L333.3 350.1L333.3 350.6L333.4 351.1L333.4 351.6L333.4 352.1L333.4 352.6L333.5 353.1L333.5 353.6L333.5 354.1L333.5 354.6L333.6 355.1L333.6 355.6L333.6 356.1L333.6 356.6L333.7 357.1L333.7 357.6L333.7 358.1L333.7 358.6L333.8 359.1L333.8 359.6L333.8 360.1L333.8 360.6L333.9 361.1L333.9 361.6L333.9 362.1L333.9 362.6L334.0 363.1L334.0 363.6L334.0 364.1L334.0 364.6L334.1 365.1L334.1 365.6L334.1 366.1L334.1 366.6L334.2 367.1L334.2 367.6L334.2 368.1L334.2 368.6L334.3 369.1L334.3 369.6L334.3 370.1L334.3 370.6L334.4 371.1L334.4 371.6L334.4 372.1L334.4 372.6L334.5 373.1L334.5 373.6L334.5 374.1L334.5 374.6L334.6 375.1L334.6 375.6L334.6 376.1L334.6 376.6L334.7 377.1L334.7 377.6L334.7 378.1L334.7 378.6L334.8 379.1L334.8 379.6L334.8 380.1L334.8 380.6L334.9 381.1L334.9 381.6L334.9 382.1L334.9 382.6L335.0 383.1L335.0 383.6L335.0 384.1L335.0 384.6L335.1 385.1L335.1 385.6L335.1 386.1L335.1 386.6L335.2 387.1L335.2 387.6L335.2 388.1L335.2 388.6L335.3 389.1L335.3 389.6L335.3 390.1L335.4 390.6L335.4 391.1L335.4 391.6L335.4 392.1L335.5 392.6L335.5 393.1L335.5 393.6L335.5 394.1L335.6 394.6L335.6 395.1L335.6 395.6L335.6 396.1L335.7 396.6L335.7 397.1L335.7 397.6L335.7 398.1L335.8 398.6L335.8 399.1L335.8 399.6L335.9 400.1L335.9 400.6L335.9 401.1L335.9 401.6L336.0 402.1L336.0 402.6L336.0 403.1L336.0 403.6L336.1 404.1L336.1 404.6L336.1 405.1L336.1 405.6L336.2 406.1L336.2 406.6L336.2 407.1L336.3 407.6L336.3 408.1L336.3 408.6L336.3 409.1L336.4 409.6L336.4 410.1L336.4 410.6L336.4 411.1L336.5 411.5L336.5 412.0L336.5 412.5L336.6 413.0L336.6 413.5L336.6 414.0L336.6 414.5L336.7 415.0L336.7 415.5L336.7 416.0L336.8 416.5L336.8 417.0L336.8 417.5L336.8 418.0L336.9 418.5L336.9 419.0L336.9 419.5L336.9 420.0L337.0 420.5L337.0 421.0L337.0 421.5L337.1 422.0L337.1 422.5L337.1 423.0L337.1 423.5L337.2 424.0L337.2 424.5L337.2 425.0L337.3 425.5L337.3 426.0L337.3 426.5L337.3 427.0L337.4 427.5L337.4 428.0L337.4 428.5L337.5 429.0L337.5 429.5L337.5 430.0L337.5 430.5L337.6 431.0L337.6 431.5L337.6 432.0L337.7 432.5L337.7 433.0L337.7 433.5L337.7 434.0L337.8 434.5L337.8 435.0L337.8 435.5L337.9 436.0L337.9 436.5L337.9 437.0L338.0 437.5L338.0 438.0L338.0 438.5L338.0 439.0L338.1 439.5L338.1 440.0L338.1 440.5L338.2 441.0L338.2 441.5L338.2 442.0L338.3 442.5L338.3 443.0L338.3 443.5L338.3 444.0L338.4 444.5L338.4 445.0L338.4 445.5L338.5 446.0L338.5 446.5L338.5 447.0L338.6 447.5L338.6 448.0L338.6 448.5L338.6 449.0L338.7 449.5L338.7 450.0L338.7 450.5L338.8 451.0L338.8 451.5L338.8 452.0L338.9 452.5L338.9 453.0L338.9 453.5L339.0 454.0L339.0 454.5L339.0 455.0L339.1 455.5L339.1 456.0L339.1 456.5L339.1 457.0L339.2 457.5L339.2 458.0L339.2 458.5L339.3 459.0L339.3 459.5L339.3 460.0L339.4 460.5L339.4 461.0L339.4 461.5L339.5 462.0L339.5 462.5L339.5 463.0L339.6 463.5L339.6 464.0L339.6 464.5L339.7 465.0L339.7 465.5L339.7 466.0L339.8 466.5L339.8 467.0L339.8 467.5L339.9 468.0L339.9 468.5L339.9 469.0L340.0 469.5L340.0 470.0L340.0 470.4L340.1 470.9L340.1 471.4L340.1 471.9L340.2 472.4L340.2 472.9L340.2 473.4L340.3 473.9L340.3 474.4L340.3 474.9L340.4 475.4L340.4 475.9L340.4 476.4L340.5 476.9L340.5 477.4L340.5 477.9L340.6 478.4L340.6 478.9L340.6 479.4L340.7 479.9L340.7 480.4L340.7 480.9L340.8 481.4L340.8 481.9L340.8 482.4L340.9 482.9L340.9 483.4L340.9 483.9L341.0 484.4L341.0 484.9L341.1 485.4L341.1 485.9L341.1 486.4L341.2 486.9L341.2 487.4L341.2 487.9L341.3 488.4L341.3 488.9L341.3 489.4L341.4 489.9L341.4 490.4L341.5 490.9L341.5 491.4L341.5 491.9L341.6 492.4L341.6 492.9L341.6 493.4L341.7 493.9L341.7 494.4L341.8 494.9L341.8 495.4L341.8 495.9L341.9 496.4L341.9 496.9L342.0 497.4L342.0 497.9L342.0 498.4L342.1 498.9L342.1 499.4L342.1 499.9L342.2 500.4L342.2 500.9L342.3 501.4L342.3 501.9L342.3 502.4L342.4 502.9L342.4 503.4L342.5 503.9L342.5 504.4L342.5 504.9L342.6 505.4L342.6 505.9L342.7 506.4L342.7 506.9L342.8 507.4L342.8 507.9L342.8 508.3L342.9 508.8L342.9 509.3L343.0 509.8L343.0 510.3L343.0 510.8L343.1 511.3L343.1 511.8L343.2 512.3L343.2 512.8L343.3 513.3L343.3 513.8L343.3 514.3L343.4 514.8L343.4 515.3L343.5 515.8L343.5 516.3L343.6 516.8L343.6 517.3L343.7 517.8L343.7 518.3L343.7 518.8L343.8 519.3L343.8 519.8L343.9 520.3L343.9 520.8L344.0 521.3L344.0 521.8L344.1 522.3L344.1 522.8L344.2 523.3L344.2 523.8L344.2 524.3L344.3 524.8L344.3 525.3L344.4 525.8L344.4 526.3L344.5 526.8L344.5 527.3L344.6 527.8L344.6 528.3L344.7 528.8L344.7 529.3L344.8 529.8L344.8 530.3L344.9 530.8L344.9 531.3L345.0 531.8L345.0 532.3L345.1 532.8L345.1 533.2L345.2 533.7L345.2 534.2L345.3 534.7L345.3 535.2L345.4 535.7L345.4 536.2L345.5 536.7L345.5 537.2L345.6 537.7L345.6 538.2L345.7 538.7L345.7 539.2L345.8 539.7L345.8 540.2L345.9 540.7L345.9 541.2L346.0 541.7L346.0 542.2L346.1 542.7L346.1 543.2L346.2 543.7L346.2 544.2L346.3 544.7L346.4 545.2L346.4 545.7L346.5 546.2L346.5 546.7L346.6 547.2L346.6 547.7L346.7 548.2L346.7 548.7L346.8 549.2L346.8 549.7L346.9 550.2L347.0 550.7L347.0 551.1L347.1 551.6L347.1 552.1L347.2 552.6L347.2 553.1L347.3 553.6L347.4 554.1L347.4 554.6L347.5 555.1L347.5 555.6L347.6 556.1L347.7 556.6L347.7 557.1L347.8 557.6L347.8 558.1L347.9 558.6L348.0 559.1L348.0 559.6L348.1 560.1L348.2 560.6L348.2 561.1L348.3 561.6L348.4 562.1L348.4 562.6L348.5 563.1L348.6 563.6L348.6 564.0L348.7 564.5L348.8 565.0L348.9 565.5L348.9 566.0L349.0 566.5L349.1 567.0L349.2 567.5L349.3 568.0L349.4 568.5L349.4 569.0L349.5 569.5L349.6 570.0L349.7 570.5L349.8 570.9L349.9 571.4L350.0 571.9L350.1 572.4L350.2 572.9L350.3 573.4L350.4 573.9L350.5 574.4L350.6 574.9L350.7 575.4L350.8 575.8L350.9 576.3L351.0 576.8L351.2 577.3L351.3 577.8L351.4 578.3L351.5 578.8L351.7 579.2L351.8 579.7L352.0 580.2L352.2 580.7L352.3 581.1L352.6 581.6L352.9 582.0L353.3 582.2L353.7 582.0L354.0 581.6L354.3 581.2L354.5 580.7L354.7 580.2L354.8 579.8L355.0 579.3L355.1 578.8L355.3 578.3L355.4 577.9L355.5 577.4L355.6 576.9L355.7 576.4L355.9 575.9L356.0 575.4L356.1 574.9L356.2 574.4L356.3 574.0L356.4 573.5L356.5 573.0L356.6 572.5L356.7 572.0L356.7 571.5L356.8 571.0L356.9 570.5L357.0 570.0L357.1 569.5L357.1 569.0L357.2 568.5L357.3 568.0L357.3 567.5L357.4 567.1L357.5 566.6L357.5 566.1L357.6 565.6L357.6 565.1L357.7 564.6L357.7 564.1L357.8 563.6L357.8 563.1L357.9 562.6L357.9 562.1L357.9 561.6L358.0 561.1L358.0 560.6L358.1 560.1L358.1 559.6L358.1 559.1L358.2 558.6L358.2 558.1L358.2 557.6L358.3 557.1L358.3 556.6L358.3 556.1L358.4 555.6L358.4 555.1L358.4 554.6L358.5 554.1L358.5 553.6L358.6 553.1L358.6 552.6L358.7 552.1L358.7 551.6L358.8 551.1L358.8 550.6L358.8 550.1L358.9 549.6L358.9 549.1L359.0 548.6L359.0 548.1L359.1 547.6L359.1 547.1L359.2 546.6L359.3 546.1L359.3 545.6L359.4 545.1L359.4 544.6L359.5 544.1L359.5 543.6L359.6 543.2L359.6 542.7L359.7 542.2L359.8 541.7L359.8 541.2L359.9 540.7L359.9 540.2L360.0 539.7L360.0 539.2L360.1 538.7L360.2 538.2L360.2 537.7L360.3 537.2L360.3 536.7L360.4 536.2L360.5 535.7L360.5 535.2L360.6 534.7L360.6 534.2L360.7 533.7L360.8 533.2L360.8 532.7L360.9 532.2L361.0 531.7L361.0 531.2L361.1 530.7L361.1 530.2L361.2 529.7L361.3 529.2L361.3 528.8L361.4 528.3L361.4 527.8L361.5 527.3L361.6 526.8L361.6 526.3L361.7 525.8L361.7 525.3L361.8 524.8L361.8 524.3L361.9 523.8L362.0 523.3L362.0 522.8L362.1 522.3L362.1 521.8L362.2 521.3L362.2 520.8L362.3 520.3L362.4 519.8L362.4 519.3L362.5 518.8L362.5 518.3L362.6 517.8L362.6 517.3L362.7 516.8L362.7 516.3L362.8 515.8L362.8 515.3L362.9 514.8L362.9 514.3L363.0 513.8L363.0 513.3L363.1 512.9L363.2 512.4L363.2 511.9L363.3 511.4L363.3 510.9L363.4 510.4L363.4 509.9L363.5 509.4L363.5 508.9L363.5 508.4L363.6 507.9L363.6 507.4L363.7 506.9L363.7 506.4L363.8 505.9L363.8 505.4L363.9 504.9L363.9 504.4L364.0 503.9L364.0 503.4L364.1 502.9L364.1 502.4L364.2 501.9L364.2 501.4L364.2 500.9L364.3 500.4L364.3 499.9L364.4 499.4L364.4 498.9L364.5 498.4L364.5 497.9L364.6 497.4L364.6 496.9L364.6 496.4L364.7 495.9L364.7 495.4L364.8 494.9L364.8 494.4L364.8 493.9L364.9 493.4L364.9 492.9L365.0 492.4L365.0 491.9L365.1 491.4L365.1 490.9L365.1 490.4L365.2 489.9L365.2 489.4L365.2 488.9L365.3 488.4L365.3 487.9L365.4 487.4L365.4 487.0L365.4 486.5L365.5 486.0L365.5 485.5L365.6 485.0L365.6 484.5L365.6 484.0L365.7 483.5L365.7 483.0L365.7 482.5L365.8 482.0L365.8 481.5L365.9 481.0L365.9 480.5L365.9 480.0L366.0 479.5L366.0 479.0L366.0 478.5L366.1 478.0L366.1 477.5L366.1 477.0L366.2 476.5L366.2 476.0L366.2 475.5L366.3 475.0L366.3 474.5L366.3 474.0L366.4 473.5L366.4 473.0L366.4 472.5L366.5 472.0L366.5 471.5L366.5 471.0L366.6 470.5L366.6 470.0L366.6 469.5L366.7 469.0L366.7 468.5L366.7 468.0L366.8 467.5L366.8 467.0L366.8 466.5L366.9 466.0L366.9 465.5L366.9 465.0L367.0 464.5L367.0 464.0L367.0 463.5L367.1 463.0L367.1 462.5L367.1 462.0L367.2 461.5L367.2 461.0L367.2 460.5L367.2 460.0L367.3 459.5L367.3 459.0L367.3 458.5L367.4 458.0L367.4 457.5L367.4 457.0L367.5 456.5L367.5 456.0L367.5 455.5L367.5 455.0L367.6 454.5L367.6 454.0L367.6 453.5L367.7 453.0L367.7 452.5L367.7 452.0L367.8 451.5L367.8 451.0L367.8 450.5L367.8 450.0L367.9 449.5L367.9 449.0L367.9 448.5L368.0 448.0L368.0 447.5L368.0 447.0L368.0 446.5L368.1 446.0L368.1 445.5L368.1 445.0L368.2 444.5L368.2 444.0L368.2 443.5L368.2 443.0L368.3 442.5L368.3 442.0L368.3 441.5L368.4 441.0L368.4 440.5L368.4 440.0L368.4 439.5L368.5 439.0L368.5 438.5L368.5 438.0L368.6 437.5L368.6 437.0L368.6 436.5L368.6 436.0L368.7 435.5L368.7 435.0L368.7 434.6L368.7 434.1L368.8 433.6L368.8 433.1L368.8 432.6L368.8 432.1L368.9 431.6L368.9 431.1L368.9 430.6L369.0 430.1L369.0 429.6L369.0 429.1L369.0 428.6L369.1 428.1L369.1 427.6L369.1 427.1L369.1 426.6L369.2 426.1L369.2 425.6L369.2 425.1L369.2 424.6L369.3 424.1L369.3 423.6L369.3 423.1L369.3 422.6L369.4 422.1L369.4 421.6L369.4 421.1L369.4 420.6L369.5 420.1L369.5 419.6L369.5 419.1L369.5 418.6L369.6 418.1L369.6 417.6L369.6 417.1L369.6 416.6L369.7 416.1L369.7 415.6L369.7 415.1L369.7 414.6L369.8 414.1L369.8 413.6L369.8 413.1L369.8 412.6L369.9 412.1L369.9 411.6L369.9 411.1L369.9 410.6L370.0 410.1L370.0 409.6L370.0 409.1L370.0 408.6L370.1 408.1L370.1 407.6L370.1 407.1L370.1 406.6L370.2 406.1L370.2 405.6L370.2 405.1L370.2 404.6L370.3 404.1L370.3 403.6L370.3 403.1L370.3 402.6L370.4 402.1L370.4 401.6L370.4 401.1L370.4 400.6L370.5 400.1L370.5 399.6L370.5 399.1L370.5 398.6L370.5 398.1L370.6 397.6L370.6 397.1L370.6 396.6L370.6 396.1L370.7 395.6L370.7 395.1L370.7 394.6L370.7 394.1L370.8 393.6L370.8 393.1L370.8 392.6L370.8 392.1L370.8 391.6L370.9 391.1L370.9 390.6L370.9 390.1L370.9 389.6L371.0 389.1L371.0 388.6L371.0 388.1L371.0 387.6L371.1 387.1L371.1 386.6L371.1 386.1L371.1 385.6L371.1 385.1L371.2 384.6L371.2 384.1L371.2 383.6L371.2 383.1L371.3 382.6L371.3 382.1L371.3 381.6L371.3 381.1L371.3 380.6L371.4 380.1L371.4 379.6L371.4 379.1L371.4 378.6L371.5 378.1L371.5 377.6L371.5 377.1L371.5 376.6L371.5 376.1L371.6 375.6L371.6 375.1L371.6 374.6L371.6 374.1L371.7 373.6L371.7 373.1L371.7 372.6L371.7 372.1L371.8 371.6L371.8 371.1L371.8 370.6L371.8 370.1L371.8 369.6L371.9 369.1L371.9 368.6L371.9 368.1L371.9 367.6L371.9 367.1L372.0 366.6L372.0 366.1L372.0 365.6L372.0 365.1L372.1 364.6L372.1 364.1L372.1 363.6L372.1 363.1L372.1 362.6L372.2 362.1L372.2 361.6L372.2 361.1L372.2 360.6L372.3 360.1L372.3 359.6L372.3 359.1L372.3 358.6L372.3 358.1L372.4 357.6L372.4 357.1L372.4 356.6L372.4 356.1L372.5 355.6L372.5 355.1L372.5 354.6L372.5 354.1L372.5 353.6L372.6 353.1L372.6 352.6L372.6 352.1L372.6 351.6L372.7 351.1L372.7 350.6L372.7 350.1L372.7 349.6L372.7 349.1L372.8 348.6L372.8 348.1L372.8 347.6L372.8 347.1L372.9 346.6L372.9 346.1L372.9 345.6L372.9 345.1L372.9 344.6L373.0 344.1L373.0 343.6L373.0 343.1L373.0 342.6L373.1 342.1L373.1 341.6L373.1 341.1L373.1 340.6L373.1 340.1L373.2 339.6L373.2 339.1L373.2 338.6L373.2 338.1L373.2 337.6L373.3 337.1L373.3 336.6L373.3 336.1L373.3 335.6L373.4 335.1L373.4 334.6L373.4 334.1L373.4 333.6L373.5 333.1L373.5 332.6L373.5 332.2L373.5 331.7L373.5 331.2L373.6 330.7L373.6 330.2L373.6 329.7L373.6 329.2L373.7 328.7L373.7 328.2L373.7 327.7L373.7 327.2L373.7 326.7L373.8 326.2L373.8 325.7L373.8 325.2L373.8 324.7L373.9 324.2L373.9 323.7L373.9 323.2L373.9 322.7L373.9 322.2L374.0 321.7L374.0 321.2L374.0 320.7L374.0 320.2L374.1 319.7L374.1 319.2L374.1 318.7L374.1 318.2L374.2 317.7L374.2 317.2L374.2 316.7L374.2 316.2L374.2 315.7L374.3 315.2L374.3 314.7L374.3 314.2L374.3 313.7L374.4 313.2L374.4 312.7L374.4 312.2L374.4 311.7L374.5 311.2L374.5 310.7L374.5 310.2L374.5 309.7L374.5 309.2L374.6 308.7L374.6 308.2L374.6 307.7L374.6 307.2L374.7 306.7L374.7 306.2L374.7 305.7L374.7 305.2L374.8 304.7L374.8 304.2L374.8 303.7L374.8 303.2L374.9 302.7L374.9 302.2L374.9 301.7L374.9 301.2L375.0 300.7L375.0 300.2L375.0 299.7L375.0 299.2L375.1 298.7L375.1 298.2L375.1 297.7L375.1 297.2L375.1 296.7L375.2 296.2L375.2 295.7L375.2 295.2L375.2 294.7L375.3 294.2L375.3 293.7L375.3 293.2L375.3 292.7L375.4 292.2L375.4 291.7L375.4 291.2L375.4 290.7L375.5 290.2L375.5 289.7L375.5 289.2L375.5 288.7L375.6 288.2L375.6 287.7L375.6 287.2L375.6 286.7L375.7 286.2L375.7 285.7L375.7 285.2L375.8 284.7L375.8 284.2L375.8 283.7L375.8 283.2L375.9 282.7L375.9 282.2L375.9 281.7L375.9 281.2L376.0 280.7L376.0 280.2L376.0 279.7L376.0 279.2L376.1 278.7L376.1 278.2L376.1 277.7L376.1 277.2L376.2 276.7L376.2 276.2L376.2 275.7L376.3 275.2L376.3 274.7L376.3 274.2L376.3 273.7L376.4 273.2L376.4 272.7L376.4 272.2L376.4 271.7L376.5 271.2L376.5 270.7L376.5 270.2L376.5 269.7L376.6 269.2L376.6 268.7L376.6 268.2L376.7 267.7L376.7 267.2L376.7 266.7L376.7 266.2L376.8 265.7L376.8 265.2L376.8 264.7L376.9 264.2L376.9 263.7L376.9 263.2L376.9 262.7L377.0 262.2L377.0 261.7L377.0 261.2L377.1 260.7L377.1 260.2L377.1 259.7L377.1 259.2L377.2 258.7L377.2 258.2L377.2 257.7L377.3 257.2L377.3 256.7L377.3 256.2L377.3 255.7L377.4 255.2L377.4 254.7L377.4 254.2L377.5 253.7L377.5 253.2L377.5 252.7L377.6 252.2L377.6 251.7L377.6 251.2L377.6 250.7L377.7 250.2L377.7 249.7L377.7 249.2L377.8 248.8L377.8 248.3L377.8 247.8L377.9 247.3L377.9 246.8L377.9 246.3L377.9 245.8L378.0 245.3L378.0 244.8L378.0 244.3L378.1 243.8L378.1 243.3L378.1 242.8L378.2 242.3L378.2 241.8L378.2 241.3L378.3 240.8L378.3 240.3L378.3 239.8L378.3 239.3L378.4 238.8L378.4 238.3L378.4 237.8L378.5 237.3L378.5 236.8L378.5 236.3L378.6 235.8L378.6 235.3L378.6 234.8L378.7 234.3L378.7 233.8L378.7 233.3L378.8 232.8L378.8 232.3L378.8 231.8L378.9 231.3L378.9 230.8L378.9 230.3L378.9 229.8L379.0 229.3L379.0 228.8L379.0 228.3L379.1 227.8L379.1 227.3L379.1 226.8L379.2 226.3L379.2 225.8L379.2 225.3L379.3 224.8L379.3 224.3L379.3 223.8L379.4 223.3L379.4 222.8L379.4 222.3L379.5 221.8L379.5 221.3L379.5 220.8L379.6 220.3L379.6 219.8L379.6 219.3L379.7 218.8L379.7 218.3L379.7 217.8L379.8 217.3L379.8 216.8L379.8 216.3L379.9 215.8L379.9 215.3L379.9 214.8L380.0 214.3L380.0 213.8L380.0 213.3L380.1 212.8L380.1 212.3L380.1 211.8L380.2 211.3L380.2 210.8L380.2 210.3L380.3 209.8L380.3 209.3L380.3 208.8L380.4 208.3L380.4 207.8L380.4 207.3L380.5 206.8L380.5 206.3L380.5 205.8L380.6 205.3L380.6 204.8L380.6 204.3L380.7 203.8L380.7 203.3L380.7 202.8L380.8 202.3L380.8 201.8L380.8 201.3L380.9 200.8L380.9 200.3L380.9 199.8L381.0 199.3L381.0 198.9L381.0 198.4L381.1 197.9L381.1 197.4L381.1 196.9L381.2 196.4L381.2 195.9L381.3 195.4L381.3 194.9L381.3 194.4L381.4 193.9L381.4 193.4L381.4 192.9L381.5 192.4L381.5 191.9L381.5 191.4L381.6 190.9L381.6 190.4L381.6 189.9L381.7 189.4L381.7 188.9L381.7 188.4L381.8 187.9L381.8 187.4L381.8 186.9L381.9 186.4L381.9 185.9L381.9 185.4L382.0 184.9L382.0 184.4L382.0 183.9L382.1 183.4L382.1 182.9L382.2 182.4L382.2 181.9L382.2 181.4L382.3 180.9L382.3 180.4L382.3 179.9L382.4 179.4L382.4 178.9L382.4 178.4L382.5 177.9L382.5 177.4L382.5 176.9L382.6 176.4L382.6 175.9L382.6 175.4L382.7 174.9L382.7 174.4L382.8 173.9L382.8 173.4L382.8 172.9L382.9 172.4L382.9 171.9L382.9 171.4L383.0 170.9L383.0 170.4L383.0 169.9L383.1 169.4L383.1 168.9L383.1 168.4L383.2 167.9L383.2 167.4L383.2 166.9L383.3 166.4L383.3 165.9L383.4 165.4L383.4 164.9L383.4 164.4L383.5 163.9L383.5 163.4L383.5 162.9L383.6 162.4L383.6 161.9L383.6 161.4L383.7 160.9L383.7 160.4L383.7 159.9L383.8 159.4L383.8 158.9L383.8 158.4L383.9 157.9L383.9 157.4L384.0 156.9L384.0 156.5L384.0 156.0L384.1 155.5L384.1 155.0L384.1 154.5L384.2 154.0L384.2 153.5L384.2 153.0L384.3 152.5L384.3 152.0L384.3 151.5L384.4 151.0L384.4 150.5L384.5 150.0L384.5 149.5L384.5 149.0L384.6 148.5L384.6 148.0L384.6 147.5L384.7 147.0L384.7 146.5L384.7 146.0L384.8 145.5L384.8 145.0L384.8 144.5L384.9 144.0L384.9 143.5L384.9 143.0L385.0 142.5L385.0 142.0L385.1 141.5L385.1 141.0L385.1 140.5L385.2 140.0L385.2 139.5L385.2 139.0L385.3 138.5L385.3 138.0L385.3 137.5L385.4 137.0L385.4 136.5L385.4 136.0L385.5 135.5L385.5 135.0L385.5 134.5L385.6 134.0L385.6 133.5L385.7 133.0L385.7 132.5L385.7 132.0L385.8 131.5L385.8 131.0L385.8 130.5L385.9 130.0L385.9 129.5L385.9 129.0L386.0 128.5L386.0 128.0L386.0 127.5L386.1 127.0L386.1 126.5L386.1 126.0L386.2 125.5L386.2 125.0L386.2 124.5L386.3 124.0L386.3 123.5L386.4 123.0L386.4 122.5L386.4 122.0L386.5 121.5L386.5 121.0L386.5 120.5L386.6 120.0L386.6 119.5L386.6 119.0L386.7 118.5L386.7 118.0L386.7 117.5L386.8 117.0L386.8 116.5L386.8 116.0L386.9 115.5L386.9 115.0L386.9 114.5L387.0 114.1L387.0 113.6L387.0 113.1L387.1 112.6L387.1 112.1L387.1 111.6L387.2 111.1L387.2 110.6L387.3 110.1L387.3 109.6L387.3 109.1L387.4 108.6L387.4 108.1L387.4 107.6L387.5 107.1L387.5 106.6L387.5 106.1L387.6 105.6L387.6 105.1L387.6 104.6L387.7 104.1L387.7 103.6L387.7 103.1L387.8 102.6L387.8 102.1L387.8 101.6L387.9 101.1L387.9 100.6L387.9 100.1L388.0 99.6L388.0 99.1L388.0 98.6L388.1 98.1L388.1 97.6L388.2 97.1L388.2 96.6L388.2 96.1L388.3 95.6L388.3 95.1L388.4 94.6L388.4 94.1L388.4 93.6L388.5 93.1L388.5 92.6L388.6 92.1L388.6 91.6L388.7 91.1L388.7 90.6L388.7 90.1L388.8 89.6L388.8 89.1L388.9 88.6L388.9 88.1L389.0 87.6L389.1 87.1L389.1 86.6L389.2 86.1L389.2 85.6L389.3 85.1L389.3 84.6L389.4 84.1L389.5 83.7L389.5 83.2L389.6 82.7L389.7 82.2L389.7 81.7L389.8 81.2L389.9 80.7L389.9 80.2L390.0 79.7L390.1 79.2L390.2 78.7L390.3 78.2L390.3 77.7L390.4 77.2L390.5 76.7L390.6 76.2L390.7 75.7L390.8 75.3L390.9 74.8L391.0 74.3L391.1 73.8L391.2 73.3L391.3 72.8L391.4 72.3L391.5 71.8L391.6 71.3L391.7 70.9L391.8 70.4L391.9 69.9L392.0 69.4L392.2 68.9L392.3 68.4L392.4 67.9L392.5 67.5L392.7 67.0L392.8 66.5L392.9 66.0L393.1 65.5L393.2 65.1L393.4 64.6L393.5 64.1L393.7 63.6L393.8 63.1L394.0 62.7L394.1 62.2L394.3 61.7L394.5 61.2L394.6 60.8L394.8 60.3L395.0 59.8L395.2 59.4L395.3 58.9L395.5 58.4L395.7 58.0L395.9 57.5L396.1 57.0L396.3 56.6L396.5 56.1L396.7 55.7L396.9 55.2L397.1 54.8L397.3 54.3L397.5 53.9L397.8 53.4L398.0 53.0L398.3 52.5L398.6 52.1L398.9 51.8L399.3 51.5L399.7 51.2L400.2 51.2L400.7 51.2L401.2 51.3L401.7 51.5L402.1 51.7L402.5 52.0L403.0 52.2L403.4 52.5L403.7 52.9L404.1 53.2L404.5 53.5L404.8 53.9L405.2 54.3L405.5 54.6L405.8 55.0L406.1 55.4L406.4 55.8L406.7 56.2L407.0 56.7L407.2 57.1L407.5 57.5L407.7 58.0L408.0 58.4L408.2 58.8L408.4 59.3L408.6 59.7L408.8 60.2L409.1 60.6L409.3 61.1L409.5 61.6L409.7 62.0L409.8 62.5L410.0 63.0L410.2 63.4L410.4 63.9L410.6 64.4L410.7 64.8L410.9 65.3L411.1 65.8L411.2 66.2L411.4 66.7L411.5 67.2L411.7 67.7L411.8 68.1L412.0 68.6L412.1 69.1L412.3 69.6L412.4 70.1L412.5 70.5L412.7 71.0L412.8 71.5L412.9 72.0L413.1 72.5L413.2 73.0L413.3 73.4L413.5 73.9L413.6 74.4L413.7 74.9L413.9 75.4L414.0 75.8L414.2 76.3L414.3 76.8L414.4 77.3L414.6 77.8L414.7 78.2L414.9 78.7L415.0 79.2L415.2 79.7L415.3 80.1L415.5 80.6L415.6 81.1L415.8 81.6L416.0 82.0L416.1 82.5L416.3 83.0L416.4 83.5L416.6 83.9L416.8 84.4L416.9 84.9L417.1 85.4L417.3 85.8L417.5 86.3L417.6 86.8L417.8 87.2L418.0 87.7L418.2 88.2L418.3 88.6L418.5 89.1L418.7 89.6L418.9 90.0L419.1 90.5L419.2 91.0L419.4 91.4L419.6 91.9L419.8 92.4L420.0 92.8L420.2 93.3L420.4 93.7L420.6 94.2L420.7 94.7L420.9 95.1L421.1 95.6L421.3 96.0L421.5 96.5L421.7 97.0L421.9 97.4L422.1 97.9L422.3 98.3L422.5 98.8L422.7 99.3L422.9 99.7L423.1 100.2L423.3 100.6L423.5 101.1L423.7 101.5L423.9 102.0L424.1 102.5L424.4 102.9L424.6 103.4L424.8 103.8L425.0 104.3L425.2 104.7L425.4 105.2L425.6 105.6L425.8 106.1L426.0 106.5L426.2 107.0L426.4 107.5L426.7 107.9L426.9 108.4L427.1 108.8L427.3 109.3L427.5 109.7L427.7 110.2L427.9 110.6L428.1 111.1L428.4 111.5L428.6 112.0L428.8 112.4L429.0 112.9L429.2 113.3L429.4 113.8L429.7 114.2L429.9 114.7L430.1 115.1L430.3 115.6L430.5 116.0L430.7 116.5L430.9 116.9L431.2 117.4L431.4 117.8L431.6 118.3L431.8 118.7L432.0 119.2L432.2 119.6L432.5 120.1L432.7 120.5L432.9 121.0L433.1 121.4L433.3 121.9L433.5 122.4L433.8 122.8L434.0 123.3L434.2 123.7L434.4 124.2L434.6 124.6L434.9 125.0L435.1 125.5L435.3 125.9L435.5 126.4L435.7 126.8L436.0 127.3L436.2 127.7L436.4 128.2L436.7 128.6L436.9 129.1L437.1 129.5L437.4 129.9L437.6 130.4L437.8 130.8L438.1 131.3L438.3 131.7L438.6 132.1L438.8 132.6L439.1 133.0L439.3 133.4L439.6 133.9L439.8 134.3L440.1 134.7L440.3 135.2L440.6 135.6L440.9 136.0L441.1 136.4L441.4 136.8L441.7 137.3L442.0 137.7L442.3 138.1L442.6 138.5L442.8 138.9L443.1 139.3L443.4 139.7L443.7 140.1L444.0 140.5L444.4 140.9L444.7 141.3L445.0 141.7L445.3 142.1L445.6 142.4L445.9 142.8L446.3 143.2L446.6 143.6L446.9 144.0L447.3 144.3L447.6 144.7L447.9 145.1L448.3 145.4L448.6 145.8L449.0 146.1L449.3 146.5L449.7 146.9L450.0 147.2L450.4 147.6L450.7 147.9L451.1 148.3L451.5 148.6L451.8 148.9L452.2 149.3L452.6 149.6L453.0 149.9L453.3 150.3L453.7 150.6L454.1 150.9L454.5 151.2L454.9 151.5L455.3 151.9L455.6 152.2L456.0 152.5L456.4 152.8L456.8 153.1L457.2 153.4L457.6 153.7L458.0 154.0L458.4 154.3L458.8 154.6L459.2 154.9L459.6 155.2L460.1 155.5L460.5 155.7L460.9 156.0L461.3 156.3L461.7 156.6L462.1 156.9L462.5 157.1L463.0 157.4L463.4 157.7L463.8 157.9L464.2 158.2L464.7 158.5L465.1 158.7L465.5 159.0L466.0 159.2L466.4 159.5L466.8 159.7L467.3 160.0L467.7 160.2L468.1 160.4L468.6 160.7L469.0 160.9L469.5 161.2L469.9 161.4L470.3 161.6L470.8 161.9L471.2 162.1L471.7 162.3L472.1 162.5L472.6 162.7L473.0 163.0L473.5 163.2L473.9 163.4L474.4 163.6L474.8 163.8L475.3 164.0L475.7 164.2L476.2 164.4L476.7 164.6L477.1 164.8L477.6 165.0L478.0 165.2L478.5 165.4L479.0 165.6L479.4 165.8L479.9 166.0L480.4 166.2L480.8 166.4L481.3 166.5L481.8 166.7L482.2 166.9L482.7 167.1L483.2 167.2L483.6 167.4L484.1 167.6L484.6 167.8L485.0 167.9L485.5 168.1L486.0 168.3L486.5 168.4L486.9 168.6L487.4 168.7L487.9 168.9L488.4 169.0L488.8 169.2L489.3 169.4L489.8 169.5L490.3 169.6L490.7 169.8L491.2 169.9L491.7 170.1L492.2 170.2L492.7 170.4L493.1 170.5L493.6 170.6L494.1 170.8L494.6 170.9L495.1 171.0L495.5 171.2L496.0 171.3L496.5 171.4L497.0 171.5L497.5 171.7L498.0 171.8L498.5 171.9L498.9 172.0L499.4 172.1L499.9 172.3L500.4 172.4L500.9 172.5L501.4 172.6L501.9 172.7L502.3 172.8L502.8 172.9L503.3 173.0L503.8 173.1L504.3 173.2L504.8 173.3L505.3 173.4L505.8 173.5L506.3 173.6L506.8 173.7L507.2 173.8L507.7 173.9L508.2 174.0L508.7 174.1L509.2 174.2L509.7 174.3L510.2 174.4L510.7 174.4L511.2 174.5L511.7 174.6L512.2 174.7L512.7 174.8L513.2 174.8L513.7 174.9L514.1 175.0L514.6 175.1L515.1 175.1L515.6 175.2L516.1 175.3L516.6 175.3L517.1 175.4L517.6 175.5L518.1 175.5L518.6 175.6L519.1 175.7L519.6 175.7L520.1 175.8L520.6 175.9L521.1 175.9L521.6 176.0L522.1 176.0L522.6 176.1L523.1 176.1L523.6 176.2L524.1 176.2L524.6 176.3L525.1 176.3L525.6 176.4L526.1 176.4L526.6 176.5L527.1 176.5L527.6 176.6L528.1 176.6L528.6 176.7L529.0 176.7L529.5 176.8L530.0 176.8L530.5 176.8L531.0 176.9L531.5 176.9L532.0 177.0L532.5 177.0L533.0 177.0L533.5 177.1L534.0 177.1L534.5 177.1L535.0 177.2L535.5 177.2L536.0 177.2L536.5 177.3L537.0 177.3L537.5 177.3L538.0 177.3L538.5 177.4L539.0 177.4L539.5 177.4L540.0 177.4L540.5 177.5L541.0 177.5L541.5 177.5L542.0 177.5L542.5 177.6L543.0 177.6L543.5 177.6L544.0 177.6L544.5 177.7L545.0 177.7L545.5 177.7L546.0 177.7L546.5 177.7L547.0 177.7L547.5 177.8L548.0 177.8L548.5 177.8L549.0 177.8L549.5 177.8L550.0 177.8L550.5 177.9L551.0 177.9L551.5 177.9L552.0 177.9L552.5 177.9L553.0 177.9L553.5 177.9L554.0 177.9L554.5 178.0L555.0 178.0L555.5 178.0L556.0 178.0L556.5 178.0L557.0 178.0L557.5 178.0L558.0 178.0L558.5 178.0L559.0 178.0L559.5 178.1L560.0 178.1L560.5 178.1L561.0 178.1L561.5 178.1L562.0 178.1L562.5 178.1L563.0 178.1L563.5 178.1L564.0 178.1L564.5 178.1L565.0 178.1L565.5 178.1L566.0 178.2L566.5 178.2L567.0 178.2L567.5 178.2L568.0 178.2L568.5 178.2L569.0 178.2L569.5 178.2L570.0 178.2L570.5 178.2L571.0 178.2L571.5 178.2L572.0 178.2L572.5 178.2L573.0 178.3L573.5 178.3L574.0 178.3L574.5 178.3L575.0 178.3L575.5 178.3L576.0 178.3L576.5 178.3L577.0 178.3L577.5 178.3L578.0 178.3L578.5 178.3L579.0 178.4L579.5 178.4L580.0 178.4L580.5 178.4L581.0 178.4L581.5 178.4L582.0 178.4L582.5 178.4L583.0 178.4L583.5 178.5L584.0 178.5L584.5 178.5L585.0 178.5L585.5 178.5L586.0 178.5L586.5 178.5L587.0 178.5L587.5 178.6L588.0 178.6L588.5 178.6L589.0 178.6L589.5 178.6L590.0 178.6L590.5 178.7L591.0 178.7L591.5 178.7L592.0 178.7L592.5 178.7L593.0 178.8L593.5 178.8L594.0 178.8L594.5 178.8L595.0 178.8L595.5 178.9L596.0 178.9L596.5 178.9L597.0 178.9L597.5 179.0L598.0 179.0L598.5 179.0L599.0 179.1L599.5 179.1L600.0 179.1L600.5 179.1L601.0 179.2L601.5 179.2L602.0 179.2L602.5 179.3L603.0 179.3L603.5 179.3" fill="none" stroke="#de0f14" stroke-width="3" stroke-linejoin="round"/><path d="M779.8 196.0L780.3 196.0L780.8 196.0L781.3 196.0L781.8 196.0L782.3 196.0L782.8 196.0L783.3 196.0L783.8 196.0L784.3 196.0L784.8 196.0L785.3 196.0L785.8 196.0L786.3 195.9L786.8 195.9L787.3 195.9L787.8 195.9L788.3 195.8L788.8 195.8L789.3 195.8L789.8 195.7L790.3 195.7L790.8 195.6L791.3 195.6L791.8 195.5L792.3 195.5L792.8 195.4L793.3 195.4L793.8 195.3L794.3 195.3L794.8 195.2L795.3 195.2L795.8 195.1L796.3 195.0L796.8 195.0L797.3 194.9L797.8 194.9L798.3 194.8L798.8 194.7L799.3 194.7L799.7 194.6L800.2 194.5L800.7 194.4L801.2 194.4L801.7 194.3L802.2 194.2L802.7 194.2L803.2 194.1L803.7 194.0L804.2 194.0L804.7 193.9L805.2 193.8L805.7 193.7L806.2 193.7L806.7 193.6L807.2 193.5L807.7 193.4L808.2 193.4L808.7 193.3L809.2 193.2L809.6 193.2L810.1 193.1L810.6 193.0L811.1 193.0L811.6 192.9L812.1 192.8L812.6 192.7L813.1 192.7L813.6 192.6L814.1 192.6L814.6 192.5L815.1 192.4L815.6 192.4L816.1 192.3L816.6 192.3L817.1 192.2L817.6 192.1L818.1 192.1L818.6 192.0L819.1 192.0L819.6 191.9L820.1 191.9L820.6 191.8L821.1 191.8L821.6 191.8L822.1 191.7L822.6 191.7L823.1 191.7L823.6 191.6L824.1 191.6L824.6 191.6L825.1 191.5L825.6 191.5L826.1 191.5L826.6 191.5L827.1 191.5L827.6 191.5L828.1 191.4L828.6 191.4L829.1 191.4L829.6 191.4L830.1 191.4L830.6 191.5L831.1 191.5L831.6 191.5L832.1 191.5L832.6 191.5L833.1 191.5L833.6 191.6L834.1 191.6L834.6 191.6L835.1 191.7L835.6 191.7L836.0 191.8L836.5 191.8L837.0 191.9L837.5 192.0L838.0 192.0L838.5 192.1L839.0 192.2L839.5 192.3L840.0 192.3L840.5 192.4L841.0 192.5L841.5 192.6L842.0 192.7L842.5 192.9L842.9 193.0L843.4 193.1L843.9 193.2L844.4 193.4L844.9 193.5L845.3 193.7L845.8 193.8L846.3 194.0L846.8 194.2L847.2 194.3L847.7 194.5L848.2 194.7L848.6 194.9L849.1 195.1L849.5 195.3L850.0 195.5L850.4 195.8L850.9 196.0L851.3 196.2L851.7 196.5L852.2 196.7L852.6 197.0L853.0 197.2L853.5 197.5L853.9 197.8L854.3 198.1L854.7 198.3L855.1 198.6L855.5 198.9L855.9 199.2L856.3 199.5L856.7 199.9L857.1 200.2L857.5 200.5L857.9 200.8L858.3 201.1L858.6 201.4L859.0 201.7L859.4 202.0L859.8 202.4L860.2 202.7L860.6 203.0L861.0 203.3L861.4 203.6L861.8 203.9L862.2 204.2L862.6 204.4L863.0 204.7L863.5 205.0L863.9 205.2L864.3 205.5L864.8 205.7L865.2 206.0L865.7 206.2L866.1 206.4L866.6 206.6L867.0 206.8L867.5 207.0L868.0 207.2L868.4 207.3L868.9 207.5L869.4 207.6L869.9 207.8L870.3 207.9L870.8 208.0L871.3 208.1L871.8 208.2L872.3 208.2L872.8 208.3L873.3 208.3L873.8 208.4L874.3 208.4L874.8 208.4L875.3 208.4L875.8 208.4L876.3 208.4L876.8 208.3L877.3 208.3L877.8 208.2L878.3 208.1L878.8 208.0L879.3 207.9L879.8 207.8L880.2 207.7L880.7 207.5L881.2 207.4L881.7 207.2L882.1 207.0L882.6 206.9L883.1 206.6L883.5 206.4L883.9 206.2L884.4 206.0L884.8 205.7L885.3 205.5L885.7 205.2L886.1 204.9L886.5 204.6L886.9 204.4L887.3 204.1L887.7 203.8L888.1 203.5L888.5 203.2L888.9 202.8L889.3 202.5L889.7 202.2L890.1 201.9L890.4 201.5L890.8 201.2L891.2 200.9L891.6 200.5L891.9 200.2L892.3 199.9L892.7 199.5L893.0 199.2L893.4 198.8L893.7 198.5L894.1 198.2L894.5 197.8L894.8 197.5L895.2 197.1L895.6 196.8L895.9 196.4L896.3 196.1L896.6 195.8L897.0 195.4L897.4 195.1L897.7 194.7L898.1 194.4L898.5 194.0L898.8 193.7L899.2 193.4L899.6 193.0L899.9 192.7L900.3 192.4L900.7 192.0L901.1 191.7L901.4 191.4L901.8 191.0L902.2 190.7L902.6 190.4L903.0 190.1L903.4 189.8L903.7 189.4L904.1 189.1L904.5 188.8L904.9 188.5L905.3 188.2L905.7 187.9L906.1 187.6L906.5 187.3L906.9 187.0L907.4 186.7L907.8 186.5L908.2 186.2L908.6 185.9L909.0 185.6L909.4 185.4L909.9 185.1L910.3 184.8L910.7 184.6L911.1 184.3L911.6 184.0L912.0 183.8L912.4 183.5L912.8 183.3L913.3 183.0L913.7 182.8L914.1 182.5L914.6 182.3L915.0 182.0L915.5 181.8L915.9 181.6L916.3 181.3L916.8 181.1L917.2 180.8L917.7 180.6L918.1 180.4L918.5 180.1L919.0 179.9L919.4 179.7L919.9 179.4L920.3 179.2L920.7 179.0L921.2 178.7L921.6 178.5L922.1 178.3L922.5 178.0L923.0 177.8L923.4 177.5L923.8 177.3L924.3 177.1L924.7 176.8L925.2 176.6L925.6 176.4L926.0 176.1L926.5 175.9L926.9 175.6L927.4 175.4L927.8 175.2L928.2 174.9L928.7 174.7L929.1 174.4L929.5 174.2L930.0 173.9L930.4 173.7L930.8 173.4L931.3 173.2L931.7 172.9L932.1 172.6L932.5 172.4L933.0 172.1L933.4 171.8L933.8 171.6L934.2 171.3L934.6 171.0L935.0 170.7L935.5 170.5L935.9 170.2L936.3 169.9L936.7 169.6L937.1 169.3L937.5 169.0L937.9 168.7L938.3 168.4L938.7 168.1L939.1 167.8L939.5 167.5L939.8 167.1L940.2 166.8L940.6 166.5L941.0 166.2L941.4 165.8L941.7 165.5L942.1 165.2L942.5 164.8L942.9 164.5L943.2 164.2L943.6 163.8L943.9 163.5L944.3 163.1L944.7 162.8L945.0 162.4L945.4 162.1L945.7 161.7L946.1 161.4L946.4 161.0L946.8 160.7L947.1 160.3L947.5 159.9L947.8 159.6L948.2 159.2L948.5 158.9L948.9 158.5L949.2 158.1L949.5 157.8L949.9 157.4L950.2 157.0L950.6 156.7L950.9 156.3L951.3 155.9L951.6 155.6L951.9 155.2L952.3 154.8L952.6 154.5L953.0 154.1L953.3 153.7L953.6 153.4L954.0 153.0L954.3 152.6L954.7 152.3L955.0 151.9L955.3 151.5L955.7 151.2L956.0 150.8L956.3 150.4L956.6 150.0L957.0 149.7L957.3 149.3L957.6 148.9L958.0 148.5L958.3 148.1L958.6 147.8L958.9 147.4L959.2 147.0L959.5 146.6L959.9 146.2L960.2 145.8L960.5 145.4L960.8 145.0L961.1 144.6L961.4 144.2L961.7 143.8L962.0 143.4L962.3 143.0L962.6 142.6L962.8 142.2L963.1 141.8L963.4 141.4L963.7 140.9L963.9 140.5L964.2 140.1L964.5 139.7L964.7 139.3L965.0 138.8L965.3 138.4L965.5 138.0L965.8 137.5L966.0 137.1L966.3 136.7L966.5 136.2L966.7 135.8L967.0 135.3L967.2 134.9L967.4 134.5L967.7 134.0L967.9 133.6L968.1 133.1L968.4 132.7L968.6 132.2L968.8 131.8L969.0 131.3L969.2 130.9L969.4 130.4L969.6 130.0L969.9 129.5L970.1 129.1L970.3 128.6L970.5 128.1L970.7 127.7L970.9 127.2L971.1 126.8L971.3 126.3L971.5 125.8L971.7 125.4L971.8 124.9L972.0 124.5L972.2 124.0L972.4 123.5L972.6 123.1L972.8 122.6L973.0 122.1L973.2 121.7L973.4 121.2L973.5 120.8L973.7 120.3L973.9 119.8L974.1 119.4L974.3 118.9L974.5 118.4L974.6 118.0L974.8 117.5L975.0 117.0L975.2 116.6L975.4 116.1L975.5 115.6L975.7 115.2L975.9 114.7L976.1 114.2L976.3 113.8L976.5 113.3L976.6 112.8L976.8 112.4L977.0 111.9L977.2 111.5L977.4 111.0L977.6 110.5L977.8 110.1L977.9 109.6L978.1 109.1L978.3 108.7L978.5 108.2L978.7 107.7L978.9 107.3L979.1 106.8L979.3 106.3L979.5 105.9L979.6 105.4L979.8 105.0L980.0 104.5L980.2 104.0L980.4 103.6L980.6 103.1L980.8 102.6L981.0 102.2L981.2 101.7L981.4 101.3L981.6 100.8L981.8 100.3L982.0 99.9L982.1 99.4L982.3 98.9L982.5 98.5L982.7 98.0L982.9 97.5L983.1 97.1L983.3 96.6L983.5 96.1L983.7 95.7L983.9 95.2L984.1 94.7L984.3 94.3L984.5 93.8L984.7 93.3L984.9 92.8L985.1 92.4L985.3 91.9L985.5 91.4L985.7 90.9L985.8 90.5L986.0 90.0L986.2 89.5L986.4 89.0L986.6 88.5L986.8 88.0L987.0 87.6L987.2 87.1L987.4 86.6L987.6 86.1L987.8 85.6L988.0 85.1L988.2 84.6L988.4 84.1L988.6 83.6L988.8 83.1L989.0 82.6L989.2 82.1L989.4 81.6L989.6 81.1L989.8 80.6L990.0 80.1L990.2 79.6L990.4 79.0L990.6 78.5L990.8 78.0L991.0 77.5L991.3 77.0L991.5 76.5L991.7 76.0L992.0 75.4L992.2 74.9L992.5 74.4L992.7 73.9L993.0 73.4L993.3 72.9L993.6 72.4L993.9 72.0L994.2 71.5L994.5 71.1L994.9 70.7L995.3 70.3L995.7 70.0L996.2 69.7L996.7 69.6L997.2 69.5L997.7 69.6L998.1 69.8L998.6 70.0L999.0 70.3L999.5 70.7L999.8 71.1L1000.2 71.5L1000.6 72.0L1000.9 72.4L1001.3 72.9L1001.6 73.4L1001.9 73.9L1002.2 74.4L1002.5 74.9L1002.8 75.3L1003.1 75.8L1003.3 76.3L1003.6 76.8L1003.9 77.3L1004.1 77.8L1004.4 78.3L1004.6 78.8L1004.8 79.3L1005.1 79.8L1005.3 80.3L1005.5 80.8L1005.8 81.3L1006.0 81.8L1006.2 82.3L1006.4 82.7L1006.6 83.2L1006.8 83.7L1007.0 84.2L1007.2 84.7L1007.3 85.2L1007.5 85.7L1007.7 86.2L1007.9 86.7L1008.0 87.1L1008.2 87.6L1008.3 88.1L1008.5 88.6L1008.6 89.1L1008.8 89.6L1008.9 90.1L1009.0 90.6L1009.2 91.1L1009.3 91.6L1009.4 92.0L1009.5 92.5L1009.6 93.0L1009.7 93.5L1009.8 94.0L1009.9 94.5L1010.0 95.0L1010.1 95.5L1010.2 96.0L1010.3 96.5L1010.4 97.0L1010.5 97.5L1010.6 98.0L1010.6 98.5L1010.7 99.0L1010.8 99.5L1010.8 100.0L1010.9 100.5L1011.0 101.0L1011.0 101.5L1011.1 102.0L1011.1 102.5L1011.2 103.0L1011.2 103.5L1011.3 104.0L1011.3 104.5L1011.4 105.0L1011.4 105.5L1011.5 106.0L1011.5 106.5L1011.6 107.0L1011.6 107.5L1011.6 108.0L1011.7 108.5L1011.7 109.0L1011.8 109.5L1011.8 109.9L1011.8 110.4L1011.9 110.9L1011.9 111.4L1012.0 111.9L1012.0 112.4L1012.0 112.9L1012.1 113.4L1012.1 113.9L1012.2 114.4L1012.2 114.9L1012.2 115.4L1012.3 115.9L1012.3 116.4L1012.4 116.9L1012.4 117.4L1012.4 117.9L1012.5 118.4L1012.5 118.9L1012.6 119.4L1012.6 119.9L1012.6 120.4L1012.7 120.9L1012.7 121.4L1012.8 121.9L1012.8 122.4L1012.8 122.9L1012.9 123.4L1012.9 123.9L1012.9 124.4L1013.0 124.9L1013.0 125.4L1013.1 125.9L1013.1 126.4L1013.1 126.9L1013.2 127.4L1013.2 127.9L1013.3 128.4L1013.3 128.9L1013.3 129.4L1013.4 129.9L1013.4 130.4L1013.5 130.9L1013.5 131.4L1013.5 131.9L1013.6 132.4L1013.6 132.9L1013.7 133.4L1013.7 133.9L1013.7 134.4L1013.8 134.9L1013.8 135.4L1013.8 135.9L1013.9 136.4L1013.9 136.9L1014.0 137.4L1014.0 137.9L1014.0 138.4L1014.1 138.9L1014.1 139.4L1014.2 139.9L1014.2 140.4L1014.2 140.9L1014.3 141.4L1014.3 141.9L1014.4 142.4L1014.4 142.9L1014.4 143.4L1014.5 143.9L1014.5 144.4L1014.5 144.9L1014.6 145.4L1014.6 145.9L1014.7 146.4L1014.7 146.9L1014.7 147.4L1014.8 147.9L1014.8 148.4L1014.9 148.9L1014.9 149.4L1014.9 149.9L1015.0 150.4L1015.0 150.9L1015.0 151.4L1015.1 151.9L1015.1 152.4L1015.2 152.9L1015.2 153.3L1015.2 153.8L1015.3 154.3L1015.3 154.8L1015.3 155.3L1015.4 155.8L1015.4 156.3L1015.5 156.8L1015.5 157.3L1015.5 157.8L1015.6 158.3L1015.6 158.8L1015.6 159.3L1015.7 159.8L1015.7 160.3L1015.8 160.8L1015.8 161.3L1015.8 161.8L1015.9 162.3L1015.9 162.8L1015.9 163.3L1016.0 163.8L1016.0 164.3L1016.1 164.8L1016.1 165.3L1016.1 165.8L1016.2 166.3L1016.2 166.8L1016.2 167.3L1016.3 167.8L1016.3 168.3L1016.4 168.8L1016.4 169.3L1016.4 169.8L1016.5 170.3L1016.5 170.8L1016.5 171.3L1016.6 171.8L1016.6 172.3L1016.6 172.8L1016.7 173.3L1016.7 173.8L1016.8 174.3L1016.8 174.8L1016.8 175.3L1016.9 175.8L1016.9 176.3L1016.9 176.8L1017.0 177.3L1017.0 177.8L1017.0 178.3L1017.1 178.8L1017.1 179.3L1017.2 179.8L1017.2 180.3L1017.2 180.8L1017.3 181.3L1017.3 181.8L1017.3 182.3L1017.4 182.8L1017.4 183.3L1017.4 183.8L1017.5 184.3L1017.5 184.8L1017.6 185.3L1017.6 185.8L1017.6 186.3L1017.7 186.8L1017.7 187.3L1017.7 187.8L1017.8 188.3L1017.8 188.8L1017.8 189.3L1017.9 189.8L1017.9 190.3L1017.9 190.8L1018.0 191.3L1018.0 191.8L1018.0 192.3L1018.1 192.8L1018.1 193.3L1018.2 193.7L1018.2 194.2L1018.2 194.7L1018.3 195.2L1018.3 195.7L1018.3 196.2L1018.4 196.7L1018.4 197.2L1018.4 197.7L1018.5 198.2L1018.5 198.7L1018.5 199.2L1018.6 199.7L1018.6 200.2L1018.6 200.7L1018.7 201.2L1018.7 201.7L1018.7 202.2L1018.8 202.7L1018.8 203.2L1018.8 203.7L1018.9 204.2L1018.9 204.7L1018.9 205.2L1019.0 205.7L1019.0 206.2L1019.0 206.7L1019.1 207.2L1019.1 207.7L1019.2 208.2L1019.2 208.7L1019.2 209.2L1019.3 209.7L1019.3 210.2L1019.3 210.7L1019.4 211.2L1019.4 211.7L1019.4 212.2L1019.5 212.7L1019.5 213.2L1019.5 213.7L1019.6 214.2L1019.6 214.7L1019.6 215.2L1019.7 215.7L1019.7 216.2L1019.7 216.7L1019.8 217.2L1019.8 217.7L1019.8 218.2L1019.8 218.7L1019.9 219.2L1019.9 219.7L1019.9 220.2L1020.0 220.7L1020.0 221.2L1020.0 221.7L1020.1 222.2L1020.1 222.7L1020.1 223.2L1020.2 223.7L1020.2 224.2L1020.2 224.7L1020.3 225.2L1020.3 225.7L1020.3 226.2L1020.4 226.7L1020.4 227.2L1020.4 227.7L1020.5 228.2L1020.5 228.7L1020.5 229.2L1020.6 229.7L1020.6 230.2L1020.6 230.7L1020.7 231.2L1020.7 231.7L1020.7 232.2L1020.7 232.7L1020.8 233.2L1020.8 233.7L1020.8 234.2L1020.9 234.7L1020.9 235.2L1020.9 235.7L1021.0 236.2L1021.0 236.7L1021.0 237.2L1021.1 237.7L1021.1 238.2L1021.1 238.7L1021.1 239.2L1021.2 239.7L1021.2 240.2L1021.2 240.7L1021.3 241.2L1021.3 241.7L1021.3 242.2L1021.4 242.7L1021.4 243.2L1021.4 243.6L1021.4 244.1L1021.5 244.6L1021.5 245.1L1021.5 245.6L1021.6 246.1L1021.6 246.6L1021.6 247.1L1021.7 247.6L1021.7 248.1L1021.7 248.6L1021.7 249.1L1021.8 249.6L1021.8 250.1L1021.8 250.6L1021.9 251.1L1021.9 251.6L1021.9 252.1L1022.0 252.6L1022.0 253.1L1022.0 253.6L1022.0 254.1L1022.1 254.6L1022.1 255.1L1022.1 255.6L1022.2 256.1L1022.2 256.6L1022.2 257.1L1022.2 257.6L1022.3 258.1L1022.3 258.6L1022.3 259.1L1022.4 259.6L1022.4 260.1L1022.4 260.6L1022.4 261.1L1022.5 261.6L1022.5 262.1L1022.5 262.6L1022.6 263.1L1022.6 263.6L1022.6 264.1L1022.6 264.6L1022.7 265.1L1022.7 265.6L1022.7 266.1L1022.7 266.6L1022.8 267.1L1022.8 267.6L1022.8 268.1L1022.9 268.6L1022.9 269.1L1022.9 269.6L1022.9 270.1L1023.0 270.6L1023.0 271.1L1023.0 271.6L1023.1 272.1L1023.1 272.6L1023.1 273.1L1023.1 273.6L1023.2 274.1L1023.2 274.6L1023.2 275.1L1023.2 275.6L1023.3 276.1L1023.3 276.6L1023.3 277.1L1023.3 277.6L1023.4 278.1L1023.4 278.6L1023.4 279.1L1023.5 279.6L1023.5 280.1L1023.5 280.6L1023.5 281.1L1023.6 281.6L1023.6 282.1L1023.6 282.6L1023.6 283.1L1023.7 283.6L1023.7 284.1L1023.7 284.6L1023.7 285.1L1023.8 285.6L1023.8 286.1L1023.8 286.6L1023.9 287.1L1023.9 287.6L1023.9 288.1L1023.9 288.6L1024.0 289.1L1024.0 289.6L1024.0 290.1L1024.0 290.6L1024.1 291.1L1024.1 291.6L1024.1 292.1L1024.1 292.6L1024.2 293.1L1024.2 293.6L1024.2 294.1L1024.2 294.6L1024.3 295.1L1024.3 295.6L1024.3 296.1L1024.3 296.6L1024.4 297.1L1024.4 297.6L1024.4 298.1L1024.4 298.6L1024.5 299.1L1024.5 299.6L1024.5 300.1L1024.5 300.6L1024.6 301.1L1024.6 301.6L1024.6 302.1L1024.6 302.6L1024.7 303.1L1024.7 303.6L1024.7 304.1L1024.7 304.6L1024.8 305.1L1024.8 305.6L1024.8 306.1L1024.8 306.6L1024.9 307.1L1024.9 307.6L1024.9 308.1L1024.9 308.6L1025.0 309.1L1025.0 309.6L1025.0 310.1L1025.0 310.6L1025.1 311.1L1025.1 311.6L1025.1 312.1L1025.1 312.6L1025.2 313.1L1025.2 313.6L1025.2 314.1L1025.2 314.6L1025.3 315.1L1025.3 315.6L1025.3 316.1L1025.3 316.6L1025.4 317.1L1025.4 317.6L1025.4 318.1L1025.4 318.6L1025.5 319.1L1025.5 319.6L1025.5 320.1L1025.5 320.5L1025.6 321.0L1025.6 321.5L1025.6 322.0L1025.6 322.5L1025.7 323.0L1025.7 323.5L1025.7 324.0L1025.7 324.5L1025.8 325.0L1025.8 325.5L1025.8 326.0L1025.8 326.5L1025.9 327.0L1025.9 327.5L1025.9 328.0L1025.9 328.5L1025.9 329.0L1026.0 329.5L1026.0 330.0L1026.0 330.5L1026.0 331.0L1026.1 331.5L1026.1 332.0L1026.1 332.5L1026.1 333.0L1026.2 333.5L1026.2 334.0L1026.2 334.5L1026.2 335.0L1026.3 335.5L1026.3 336.0L1026.3 336.5L1026.3 337.0L1026.4 337.5L1026.4 338.0L1026.4 338.5L1026.4 339.0L1026.4 339.5L1026.5 340.0L1026.5 340.5L1026.5 341.0L1026.5 341.5L1026.6 342.0L1026.6 342.5L1026.6 343.0L1026.6 343.5L1026.7 344.0L1026.7 344.5L1026.7 345.0L1026.7 345.5L1026.8 346.0L1026.8 346.5L1026.8 347.0L1026.8 347.5L1026.9 348.0L1026.9 348.5L1026.9 349.0L1026.9 349.5L1026.9 350.0L1027.0 350.5L1027.0 351.0L1027.0 351.5L1027.0 352.0L1027.1 352.5L1027.1 353.0L1027.1 353.5L1027.1 354.0L1027.2 354.5L1027.2 355.0L1027.2 355.5L1027.2 356.0L1027.3 356.5L1027.3 357.0L1027.3 357.5L1027.3 358.0L1027.3 358.5L1027.4 359.0L1027.4 359.5L1027.4 360.0L1027.4 360.5L1027.5 361.0L1027.5 361.5L1027.5 362.0L1027.5 362.5L1027.6 363.0L1027.6 363.5L1027.6 364.0L1027.6 364.5L1027.7 365.0L1027.7 365.5L1027.7 366.0L1027.7 366.5L1027.7 367.0L1027.8 367.5L1027.8 368.0L1027.8 368.5L1027.8 369.0L1027.9 369.5L1027.9 370.0L1027.9 370.5L1027.9 371.0L1028.0 371.5L1028.0 372.0L1028.0 372.5L1028.0 373.0L1028.1 373.5L1028.1 374.0L1028.1 374.5L1028.1 375.0L1028.1 375.5L1028.2 376.0L1028.2 376.5L1028.2 377.0L1028.2 377.5L1028.3 378.0L1028.3 378.5L1028.3 379.0L1028.3 379.5L1028.4 380.0L1028.4 380.5L1028.4 381.0L1028.4 381.5L1028.5 382.0L1028.5 382.5L1028.5 383.0L1028.5 383.5L1028.6 384.0L1028.6 384.5L1028.6 385.0L1028.6 385.5L1028.6 386.0L1028.7 386.5L1028.7 387.0L1028.7 387.5L1028.7 388.0L1028.8 388.5L1028.8 389.0L1028.8 389.5L1028.8 390.0L1028.9 390.5L1028.9 391.0L1028.9 391.5L1028.9 392.0L1029.0 392.5L1029.0 393.0L1029.0 393.5L1029.0 394.0L1029.1 394.5L1029.1 395.0L1029.1 395.5L1029.1 396.0L1029.1 396.5L1029.2 397.0L1029.2 397.5L1029.2 398.0L1029.2 398.5L1029.3 399.0L1029.3 399.5L1029.3 400.0L1029.3 400.5L1029.4 401.0L1029.4 401.5L1029.4 402.0L1029.4 402.5L1029.5 403.0L1029.5 403.5L1029.5 404.0L1029.5 404.5L1029.6 405.0L1029.6 405.5L1029.6 406.0L1029.6 406.5L1029.7 407.0L1029.7 407.5L1029.7 408.0L1029.7 408.5L1029.8 409.0L1029.8 409.5L1029.8 410.0L1029.8 410.5L1029.9 411.0L1029.9 411.5L1029.9 412.0L1029.9 412.5L1030.0 413.0L1030.0 413.5L1030.0 414.0L1030.0 414.5L1030.1 415.0L1030.1 415.5L1030.1 416.0L1030.1 416.5L1030.2 417.0L1030.2 417.5L1030.2 418.0L1030.2 418.5L1030.3 419.0L1030.3 419.4L1030.3 419.9L1030.3 420.4L1030.4 420.9L1030.4 421.4L1030.4 421.9L1030.4 422.4L1030.5 422.9L1030.5 423.4L1030.5 423.9L1030.5 424.4L1030.6 424.9L1030.6 425.4L1030.6 425.9L1030.6 426.4L1030.7 426.9L1030.7 427.4L1030.7 427.9L1030.7 428.4L1030.8 428.9L1030.8 429.4L1030.8 429.9L1030.8 430.4L1030.9 430.9L1030.9 431.4L1030.9 431.9L1030.9 432.4L1031.0 432.9L1031.0 433.4L1031.0 433.9L1031.1 434.4L1031.1 434.9L1031.1 435.4L1031.1 435.9L1031.2 436.4L1031.2 436.9L1031.2 437.4L1031.2 437.9L1031.3 438.4L1031.3 438.9L1031.3 439.4L1031.3 439.9L1031.4 440.4L1031.4 440.9L1031.4 441.4L1031.4 441.9L1031.5 442.4L1031.5 442.9L1031.5 443.4L1031.6 443.9L1031.6 444.4L1031.6 444.9L1031.6 445.4L1031.7 445.9L1031.7 446.4L1031.7 446.9L1031.7 447.4L1031.8 447.9L1031.8 448.4L1031.8 448.9L1031.9 449.4L1031.9 449.9L1031.9 450.4L1031.9 450.9L1032.0 451.4L1032.0 451.9L1032.0 452.4L1032.0 452.9L1032.1 453.4L1032.1 453.9L1032.1 454.4L1032.2 454.9L1032.2 455.4L1032.2 455.9L1032.2 456.4L1032.3 456.9L1032.3 457.4L1032.3 457.9L1032.3 458.4L1032.4 458.9L1032.4 459.4L1032.4 459.9L1032.5 460.4L1032.5 460.9L1032.5 461.4L1032.5 461.9L1032.6 462.4L1032.6 462.9L1032.6 463.4L1032.7 463.9L1032.7 464.4L1032.7 464.9L1032.7 465.4L1032.8 465.9L1032.8 466.4L1032.8 466.9L1032.9 467.4L1032.9 467.9L1032.9 468.4L1032.9 468.9L1033.0 469.4L1033.0 469.9L1033.0 470.4L1033.1 470.9L1033.1 471.4L1033.1 471.9L1033.1 472.4L1033.2 472.9L1033.2 473.4L1033.2 473.9L1033.3 474.4L1033.3 474.9L1033.3 475.4L1033.4 475.9L1033.4 476.4L1033.4 476.9L1033.4 477.4L1033.5 477.9L1033.5 478.4L1033.5 478.9L1033.6 479.4L1033.6 479.9L1033.6 480.4L1033.7 480.9L1033.7 481.4L1033.7 481.9L1033.7 482.4L1033.8 482.9L1033.8 483.4L1033.8 483.9L1033.9 484.4L1033.9 484.9L1033.9 485.4L1034.0 485.9L1034.0 486.4L1034.0 486.9L1034.1 487.4L1034.1 487.9L1034.1 488.4L1034.1 488.9L1034.2 489.4L1034.2 489.8L1034.2 490.3L1034.3 490.8L1034.3 491.3L1034.3 491.8L1034.4 492.3L1034.4 492.8L1034.4 493.3L1034.5 493.8L1034.5 494.3L1034.5 494.8L1034.6 495.3L1034.6 495.8L1034.6 496.3L1034.7 496.8L1034.7 497.3L1034.7 497.8L1034.8 498.3L1034.8 498.8L1034.8 499.3L1034.8 499.8L1034.9 500.3L1034.9 500.8L1034.9 501.3L1035.0 501.8L1035.0 502.3L1035.0 502.8L1035.1 503.3L1035.1 503.8L1035.1 504.3L1035.2 504.8L1035.2 505.3L1035.2 505.8L1035.3 506.3L1035.3 506.8L1035.3 507.3L1035.4 507.8L1035.4 508.3L1035.4 508.8L1035.5 509.3L1035.5 509.8L1035.5 510.3L1035.6 510.8L1035.6 511.3L1035.6 511.8L1035.7 512.3L1035.7 512.8L1035.8 513.3L1035.8 513.8L1035.8 514.3L1035.9 514.8L1035.9 515.3L1035.9 515.8L1036.0 516.3L1036.0 516.8L1036.0 517.3L1036.1 517.8L1036.1 518.3L1036.1 518.8L1036.2 519.3L1036.2 519.8L1036.3 520.3L1036.3 520.8L1036.3 521.3L1036.4 521.8L1036.4 522.3L1036.4 522.8L1036.5 523.3L1036.5 523.8L1036.6 524.3L1036.6 524.8L1036.6 525.3L1036.7 525.8L1036.7 526.3L1036.8 526.8L1036.8 527.3L1036.8 527.8L1036.9 528.3L1036.9 528.8L1037.0 529.3L1037.0 529.8L1037.0 530.3L1037.1 530.8L1037.1 531.3L1037.2 531.8L1037.2 532.2L1037.2 532.7L1037.3 533.2L1037.3 533.7L1037.4 534.2L1037.4 534.7L1037.5 535.2L1037.5 535.7L1037.5 536.2L1037.6 536.7L1037.6 537.2L1037.7 537.7L1037.7 538.2L1037.8 538.7L1037.8 539.2L1037.9 539.7L1037.9 540.2L1038.0 540.7L1038.0 541.2L1038.0 541.7L1038.1 542.2L1038.1 542.7L1038.2 543.2L1038.2 543.7L1038.3 544.2L1038.3 544.7L1038.4 545.2L1038.4 545.7L1038.5 546.2L1038.5 546.7L1038.6 547.2L1038.6 547.7L1038.7 548.2L1038.7 548.7L1038.8 549.2L1038.8 549.7L1038.9 550.2L1039.0 550.7L1039.0 551.2L1039.1 551.7L1039.1 552.2L1039.2 552.7L1039.2 553.2L1039.3 553.6L1039.3 554.1L1039.4 554.6L1039.5 555.1L1039.5 555.6L1039.6 556.1L1039.6 556.6L1039.7 557.1L1039.8 557.6L1039.8 558.1L1039.9 558.6L1039.9 559.1L1040.0 559.6L1040.1 560.1L1040.1 560.6L1040.2 561.1L1040.3 561.6L1040.3 562.1L1040.4 562.6L1040.4 563.1L1040.5 563.6L1040.6 564.1L1040.6 564.6L1040.7 565.1L1040.8 565.6L1040.8 566.1L1040.9 566.5L1041.0 567.0L1041.0 567.5L1041.1 568.0L1041.2 568.5L1041.2 569.0L1041.3 569.5L1041.4 570.0L1041.5 570.5L1041.5 571.0L1041.6 571.5L1041.7 572.0L1041.7 572.5L1041.8 573.0L1041.9 573.5L1042.0 574.0L1042.0 574.5L1042.1 575.0L1042.2 575.5L1042.2 576.0L1042.3 576.5L1042.4 576.9L1042.5 577.4L1042.5 577.9L1042.6 578.4L1042.7 578.9L1042.7 579.4L1042.8 579.9L1042.9 580.4L1043.0 580.9L1043.0 581.4L1043.1 581.9L1043.2 582.4L1043.3 582.9L1043.3 583.4L1043.4 583.9L1043.5 584.4L1043.6 584.9L1043.6 585.4L1043.7 585.8L1043.8 586.3L1043.9 586.8L1044.0 587.3L1044.0 587.8L1044.1 588.3L1044.2 588.8L1044.3 589.3L1044.4 589.8L1044.4 590.3L1044.5 590.8L1044.6 591.3L1044.7 591.8L1044.8 592.3L1044.9 592.7L1045.0 593.2L1045.1 593.7L1045.2 594.2L1045.3 594.7L1045.4 595.2L1045.5 595.7L1045.7 596.2L1045.8 596.6L1045.9 597.1L1046.1 597.6L1046.3 598.1L1046.4 598.5L1046.7 599.0L1046.9 599.4L1047.3 599.7L1047.8 599.7L1048.1 599.4L1048.4 599.0L1048.7 598.5L1048.9 598.1L1049.1 597.6L1049.2 597.2L1049.4 596.7L1049.6 596.2L1049.7 595.7L1049.8 595.2L1050.0 594.8L1050.1 594.3L1050.2 593.8L1050.4 593.3L1050.5 592.8L1050.6 592.3L1050.7 591.9L1050.8 591.4L1050.9 590.9L1051.0 590.4L1051.1 589.9L1051.3 589.4L1051.4 588.9L1051.5 588.4L1051.6 587.9L1051.7 587.5L1051.7 587.0L1051.8 586.5L1051.9 586.0L1052.0 585.5L1052.1 585.0L1052.2 584.5L1052.3 584.0L1052.4 583.5L1052.5 583.0L1052.6 582.5L1052.7 582.0L1052.7 581.6L1052.8 581.1L1052.9 580.6L1053.0 580.1L1053.1 579.6L1053.2 579.1L1053.2 578.6L1053.3 578.1L1053.4 577.6L1053.5 577.1L1053.6 576.6L1053.6 576.1L1053.7 575.6L1053.8 575.1L1053.9 574.6L1053.9 574.1L1054.0 573.7L1054.1 573.2L1054.1 572.7L1054.2 572.2L1054.3 571.7L1054.3 571.2L1054.4 570.7L1054.5 570.2L1054.5 569.7L1054.6 569.2L1054.7 568.7L1054.7 568.2L1054.8 567.7L1054.8 567.2L1054.9 566.7L1054.9 566.2L1055.0 565.7L1055.1 565.2L1055.1 564.7L1055.2 564.2L1055.2 563.7L1055.3 563.2L1055.3 562.7L1055.4 562.2L1055.4 561.7L1055.5 561.2L1055.5 560.7L1055.6 560.2L1055.6 559.7L1055.6 559.2L1055.7 558.7L1055.7 558.2L1055.8 557.8L1055.8 557.3L1055.9 556.8L1055.9 556.3L1055.9 555.8L1056.0 555.3L1056.0 554.8L1056.1 554.3L1056.1 553.8L1056.1 553.3L1056.2 552.8L1056.2 552.3L1056.3 551.8L1056.3 551.3L1056.3 550.8L1056.4 550.3L1056.4 549.8L1056.4 549.3L1056.5 548.8L1056.5 548.3L1056.6 547.8L1056.6 547.3L1056.6 546.8L1056.7 546.3L1056.7 545.8L1056.8 545.3L1056.8 544.8L1056.8 544.3L1056.9 543.8L1056.9 543.3L1057.0 542.8L1057.0 542.3L1057.0 541.8L1057.1 541.3L1057.1 540.8L1057.1 540.3L1057.2 539.8L1057.2 539.3L1057.3 538.8L1057.3 538.3L1057.3 537.8L1057.4 537.3L1057.4 536.8L1057.5 536.3L1057.5 535.8L1057.5 535.3L1057.6 534.8L1057.6 534.3L1057.6 533.8L1057.7 533.3L1057.7 532.8L1057.8 532.3L1057.8 531.8L1057.8 531.3L1057.9 530.8L1057.9 530.3L1057.9 529.8L1058.0 529.3L1058.0 528.8L1058.1 528.3L1058.1 527.8L1058.1 527.3L1058.2 526.8L1058.2 526.3L1058.2 525.8L1058.3 525.3L1058.3 524.8L1058.4 524.3L1058.4 523.8L1058.4 523.3L1058.5 522.8L1058.5 522.4L1058.5 521.9L1058.6 521.4L1058.6 520.9L1058.6 520.4L1058.7 519.9L1058.7 519.4L1058.8 518.9L1058.8 518.4L1058.8 517.9L1058.9 517.4L1058.9 516.9L1058.9 516.4L1059.0 515.9L1059.0 515.4L1059.0 514.9L1059.1 514.4L1059.1 513.9L1059.1 513.4L1059.2 512.9L1059.2 512.4L1059.3 511.9L1059.3 511.4L1059.3 510.9L1059.4 510.4L1059.4 509.9L1059.4 509.4L1059.5 508.9L1059.5 508.4L1059.5 507.9L1059.6 507.4L1059.6 506.9L1059.6 506.4L1059.7 505.9L1059.7 505.4L1059.7 504.9L1059.8 504.4L1059.8 503.9L1059.8 503.4L1059.9 502.9L1059.9 502.4L1059.9 501.9L1060.0 501.4L1060.0 500.9L1060.0 500.4L1060.1 499.9L1060.1 499.4L1060.1 498.9L1060.2 498.4L1060.2 497.9L1060.2 497.4L1060.2 496.9L1060.3 496.4L1060.3 495.9L1060.3 495.4L1060.4 494.9L1060.4 494.4L1060.4 493.9L1060.5 493.4L1060.5 492.9L1060.5 492.4L1060.6 491.9L1060.6 491.4L1060.6 490.9L1060.6 490.4L1060.7 489.9L1060.7 489.4L1060.7 488.9L1060.8 488.4L1060.8 487.9L1060.8 487.4L1060.8 486.9L1060.9 486.4L1060.9 485.9L1060.9 485.4L1061.0 484.9L1061.0 484.4L1061.0 483.9L1061.0 483.4L1061.1 482.9L1061.1 482.4L1061.1 481.9L1061.2 481.4L1061.2 480.9L1061.2 480.4L1061.2 479.9L1061.3 479.4L1061.3 478.9L1061.3 478.4L1061.3 477.9L1061.4 477.4L1061.4 476.9L1061.4 476.4L1061.5 475.9L1061.5 475.4L1061.5 474.9L1061.5 474.4L1061.6 473.9L1061.6 473.4L1061.6 472.9L1061.6 472.4L1061.7 471.9L1061.7 471.4L1061.7 470.9L1061.7 470.4L1061.8 469.9L1061.8 469.4L1061.8 468.9L1061.8 468.4L1061.9 467.9L1061.9 467.4L1061.9 467.0L1061.9 466.5L1062.0 466.0L1062.0 465.5L1062.0 465.0L1062.0 464.5L1062.1 464.0L1062.1 463.5L1062.1 463.0L1062.1 462.5L1062.2 462.0L1062.2 461.5L1062.2 461.0L1062.2 460.5L1062.3 460.0L1062.3 459.5L1062.3 459.0L1062.3 458.5L1062.4 458.0L1062.4 457.5L1062.4 457.0L1062.4 456.5L1062.4 456.0L1062.5 455.5L1062.5 455.0L1062.5 454.5L1062.5 454.0L1062.6 453.5L1062.6 453.0L1062.6 452.5L1062.6 452.0L1062.7 451.5L1062.7 451.0L1062.7 450.5L1062.7 450.0L1062.7 449.5L1062.8 449.0L1062.8 448.5L1062.8 448.0L1062.8 447.5L1062.9 447.0L1062.9 446.5L1062.9 446.0L1062.9 445.5L1062.9 445.0L1063.0 444.5L1063.0 444.0L1063.0 443.5L1063.0 443.0L1063.1 442.5L1063.1 442.0L1063.1 441.5L1063.1 441.0L1063.1 440.5L1063.2 440.0L1063.2 439.5L1063.2 439.0L1063.2 438.5L1063.2 438.0L1063.3 437.5L1063.3 437.0L1063.3 436.5L1063.3 436.0L1063.3 435.5L1063.4 435.0L1063.4 434.5L1063.4 434.0L1063.4 433.5L1063.5 433.0L1063.5 432.5L1063.5 432.0L1063.5 431.5L1063.5 431.0L1063.6 430.5L1063.6 430.0L1063.6 429.5L1063.6 429.0L1063.6 428.5L1063.7 428.0L1063.7 427.5L1063.7 427.0L1063.7 426.5L1063.7 426.0L1063.8 425.5L1063.8 425.0L1063.8 424.5L1063.8 424.0L1063.8 423.5L1063.9 423.0L1063.9 422.5L1063.9 422.0L1063.9 421.5L1064.0 421.0L1064.0 420.5L1064.0 420.0L1064.0 419.5L1064.0 419.0L1064.1 418.5L1064.1 418.0L1064.1 417.5L1064.1 417.0L1064.1 416.5L1064.2 416.0L1064.2 415.5L1064.2 415.0L1064.2 414.5L1064.2 414.0L1064.3 413.5L1064.3 413.0L1064.3 412.5L1064.3 412.0L1064.3 411.5L1064.4 411.0L1064.4 410.5L1064.4 410.0L1064.4 409.5L1064.4 409.0L1064.5 408.5L1064.5 408.0L1064.5 407.5L1064.5 407.0L1064.5 406.5L1064.6 406.0L1064.6 405.5L1064.6 405.0L1064.6 404.5L1064.7 404.0L1064.7 403.5L1064.7 403.0L1064.7 402.5L1064.7 402.0L1064.8 401.5L1064.8 401.0L1064.8 400.5L1064.8 400.0L1064.8 399.5L1064.9 399.0L1064.9 398.5L1064.9 398.0L1064.9 397.5L1064.9 397.0L1065.0 396.5L1065.0 396.0L1065.0 395.5L1065.0 395.0L1065.0 394.5L1065.1 394.0L1065.1 393.5L1065.1 393.0L1065.1 392.5L1065.2 392.0L1065.2 391.5L1065.2 391.0L1065.2 390.5L1065.2 390.0L1065.3 389.5L1065.3 389.0L1065.3 388.5L1065.3 388.0L1065.4 387.5L1065.4 387.0L1065.4 386.5L1065.4 386.0L1065.4 385.5L1065.5 385.0L1065.5 384.5L1065.5 384.0L1065.5 383.5L1065.6 383.0L1065.6 382.5L1065.6 382.0L1065.6 381.5L1065.6 381.0L1065.7 380.5L1065.7 380.0L1065.7 379.5L1065.7 379.0L1065.8 378.5L1065.8 378.0L1065.8 377.5L1065.8 377.0L1065.8 376.5L1065.9 376.0L1065.9 375.5L1065.9 375.0L1065.9 374.5L1066.0 374.0L1066.0 373.5L1066.0 373.0L1066.0 372.5L1066.1 372.0L1066.1 371.5L1066.1 371.0L1066.1 370.5L1066.2 370.0L1066.2 369.5L1066.2 369.0L1066.2 368.5L1066.2 368.0L1066.3 367.5L1066.3 367.0L1066.3 366.5L1066.3 366.0L1066.4 365.5L1066.4 365.0L1066.4 364.5L1066.4 364.0L1066.5 363.5L1066.5 363.0L1066.5 362.5L1066.5 362.0L1066.6 361.5L1066.6 361.0L1066.6 360.5L1066.6 360.0L1066.7 359.5L1066.7 359.0L1066.7 358.5L1066.7 358.0L1066.8 357.5L1066.8 357.0L1066.8 356.5L1066.8 356.0L1066.9 355.5L1066.9 355.0L1066.9 354.5L1066.9 354.0L1067.0 353.5L1067.0 353.0L1067.0 352.5L1067.0 352.0L1067.1 351.5L1067.1 351.1L1067.1 350.6L1067.1 350.1L1067.2 349.6L1067.2 349.1L1067.2 348.6L1067.2 348.1L1067.3 347.6L1067.3 347.1L1067.3 346.6L1067.4 346.1L1067.4 345.6L1067.4 345.1L1067.4 344.6L1067.5 344.1L1067.5 343.6L1067.5 343.1L1067.5 342.6L1067.6 342.1L1067.6 341.6L1067.6 341.1L1067.6 340.6L1067.7 340.1L1067.7 339.6L1067.7 339.1L1067.8 338.6L1067.8 338.1L1067.8 337.6L1067.8 337.1L1067.9 336.6L1067.9 336.1L1067.9 335.6L1067.9 335.1L1068.0 334.6L1068.0 334.1L1068.0 333.6L1068.1 333.1L1068.1 332.6L1068.1 332.1L1068.1 331.6L1068.2 331.1L1068.2 330.6L1068.2 330.1L1068.3 329.6L1068.3 329.1L1068.3 328.6L1068.3 328.1L1068.4 327.6L1068.4 327.1L1068.4 326.6L1068.4 326.1L1068.5 325.6L1068.5 325.1L1068.5 324.6L1068.6 324.1L1068.6 323.6L1068.6 323.1L1068.7 322.6L1068.7 322.1L1068.7 321.6L1068.7 321.1L1068.8 320.6L1068.8 320.1L1068.8 319.6L1068.9 319.1L1068.9 318.6L1068.9 318.1L1068.9 317.6L1069.0 317.1L1069.0 316.6L1069.0 316.1L1069.1 315.6L1069.1 315.1L1069.1 314.6L1069.2 314.1L1069.2 313.6L1069.2 313.1L1069.2 312.6L1069.3 312.1L1069.3 311.6L1069.3 311.1L1069.4 310.6L1069.4 310.1L1069.4 309.6L1069.5 309.1L1069.5 308.6L1069.5 308.1L1069.5 307.6L1069.6 307.1L1069.6 306.6L1069.6 306.1L1069.7 305.6L1069.7 305.1L1069.7 304.6L1069.8 304.1L1069.8 303.6L1069.8 303.1L1069.9 302.6L1069.9 302.1L1069.9 301.6L1070.0 301.1L1070.0 300.6L1070.0 300.1L1070.0 299.6L1070.1 299.1L1070.1 298.6L1070.1 298.1L1070.2 297.6L1070.2 297.1L1070.2 296.6L1070.3 296.1L1070.3 295.6L1070.3 295.1L1070.4 294.6L1070.4 294.1L1070.4 293.6L1070.5 293.1L1070.5 292.6L1070.5 292.1L1070.6 291.6L1070.6 291.1L1070.6 290.6L1070.7 290.1L1070.7 289.6L1070.7 289.1L1070.8 288.6L1070.8 288.2L1070.8 287.7L1070.9 287.2L1070.9 286.7L1070.9 286.2L1071.0 285.7L1071.0 285.2L1071.0 284.7L1071.1 284.2L1071.1 283.7L1071.1 283.2L1071.2 282.7L1071.2 282.2L1071.2 281.7L1071.3 281.2L1071.3 280.7L1071.3 280.2L1071.4 279.7L1071.4 279.2L1071.4 278.7L1071.5 278.2L1071.5 277.7L1071.5 277.2L1071.6 276.7L1071.6 276.2L1071.6 275.7L1071.7 275.2L1071.7 274.7L1071.7 274.2L1071.8 273.7L1071.8 273.2L1071.8 272.7L1071.9 272.2L1071.9 271.7L1071.9 271.2L1072.0 270.7L1072.0 270.2L1072.1 269.7L1072.1 269.2L1072.1 268.7L1072.2 268.2L1072.2 267.7L1072.2 267.2L1072.3 266.7L1072.3 266.2L1072.3 265.7L1072.4 265.2L1072.4 264.7L1072.4 264.2L1072.5 263.7L1072.5 263.2L1072.6 262.7L1072.6 262.2L1072.6 261.7L1072.7 261.2L1072.7 260.7L1072.7 260.2L1072.8 259.7L1072.8 259.2L1072.8 258.7L1072.9 258.2L1072.9 257.7L1073.0 257.2L1073.0 256.7L1073.0 256.2L1073.1 255.7L1073.1 255.2L1073.1 254.7L1073.2 254.2L1073.2 253.7L1073.2 253.2L1073.3 252.7L1073.3 252.2L1073.4 251.7L1073.4 251.2L1073.4 250.7L1073.5 250.2L1073.5 249.7L1073.5 249.2L1073.6 248.7L1073.6 248.2L1073.7 247.7L1073.7 247.2L1073.7 246.8L1073.8 246.3L1073.8 245.8L1073.9 245.3L1073.9 244.8L1073.9 244.3L1074.0 243.8L1074.0 243.3L1074.0 242.8L1074.1 242.3L1074.1 241.8L1074.2 241.3L1074.2 240.8L1074.2 240.3L1074.3 239.8L1074.3 239.3L1074.4 238.8L1074.4 238.3L1074.4 237.8L1074.5 237.3L1074.5 236.8L1074.5 236.3L1074.6 235.8L1074.6 235.3L1074.7 234.8L1074.7 234.3L1074.7 233.8L1074.8 233.3L1074.8 232.8L1074.9 232.3L1074.9 231.8L1074.9 231.3L1075.0 230.8L1075.0 230.3L1075.1 229.8L1075.1 229.3L1075.1 228.8L1075.2 228.3L1075.2 227.8L1075.3 227.3L1075.3 226.8L1075.3 226.3L1075.4 225.8L1075.4 225.3L1075.5 224.8L1075.5 224.3L1075.6 223.8L1075.6 223.3L1075.6 222.8L1075.7 222.3L1075.7 221.8L1075.8 221.3L1075.8 220.8L1075.8 220.3L1075.9 219.8L1075.9 219.3L1076.0 218.8L1076.0 218.3L1076.0 217.8L1076.1 217.3L1076.1 216.8L1076.2 216.3L1076.2 215.8L1076.3 215.3L1076.3 214.8L1076.3 214.3L1076.4 213.9L1076.4 213.4L1076.5 212.9L1076.5 212.4L1076.5 211.9L1076.6 211.4L1076.6 210.9L1076.7 210.4L1076.7 209.9L1076.8 209.4L1076.8 208.9L1076.8 208.4L1076.9 207.9L1076.9 207.4L1077.0 206.9L1077.0 206.4L1077.1 205.9L1077.1 205.4L1077.1 204.9L1077.2 204.4L1077.2 203.9L1077.3 203.4L1077.3 202.9L1077.4 202.4L1077.4 201.9L1077.4 201.4L1077.5 200.9L1077.5 200.4L1077.6 199.9L1077.6 199.4L1077.7 198.9L1077.7 198.4L1077.7 197.9L1077.8 197.4L1077.8 196.9L1077.9 196.4L1077.9 195.9L1078.0 195.4L1078.0 194.9L1078.0 194.4L1078.1 193.9L1078.1 193.4L1078.2 192.9L1078.2 192.4L1078.3 191.9L1078.3 191.4L1078.3 190.9L1078.4 190.4L1078.4 189.9L1078.5 189.4L1078.5 188.9L1078.5 188.4L1078.6 187.9L1078.6 187.4L1078.7 186.9L1078.7 186.4L1078.8 185.9L1078.8 185.4L1078.8 185.0L1078.9 184.5L1078.9 184.0L1079.0 183.5L1079.0 183.0L1079.1 182.5L1079.1 182.0L1079.1 181.5L1079.2 181.0L1079.2 180.5L1079.3 180.0L1079.3 179.5L1079.4 179.0L1079.4 178.5L1079.4 178.0L1079.5 177.5L1079.5 177.0L1079.6 176.5L1079.6 176.0L1079.7 175.5L1079.7 175.0L1079.7 174.5L1079.8 174.0L1079.8 173.5L1079.9 173.0L1079.9 172.5L1079.9 172.0L1080.0 171.5L1080.0 171.0L1080.1 170.5L1080.1 170.0L1080.1 169.5L1080.2 169.0L1080.2 168.5L1080.3 168.0L1080.3 167.5L1080.4 167.0L1080.4 166.5L1080.4 166.0L1080.5 165.5L1080.5 165.0L1080.6 164.5L1080.6 164.0L1080.6 163.5L1080.7 163.0L1080.7 162.5L1080.8 162.0L1080.8 161.5L1080.8 161.0L1080.9 160.5L1080.9 160.0L1081.0 159.5L1081.0 159.0L1081.0 158.5L1081.1 158.0L1081.1 157.5L1081.2 157.0L1081.2 156.5L1081.2 156.0L1081.3 155.5L1081.3 155.0L1081.3 154.5L1081.4 154.0L1081.4 153.5L1081.5 153.0L1081.5 152.5L1081.5 152.0L1081.6 151.5L1081.6 151.0L1081.7 150.6L1081.7 150.1L1081.7 149.6L1081.8 149.1L1081.8 148.6L1081.8 148.1L1081.9 147.6L1081.9 147.1L1081.9 146.6L1082.0 146.1L1082.0 145.6L1082.1 145.1L1082.1 144.6L1082.1 144.1L1082.2 143.6L1082.2 143.1L1082.2 142.6L1082.3 142.1L1082.3 141.6L1082.3 141.1L1082.4 140.6L1082.4 140.1L1082.4 139.6L1082.5 139.1L1082.5 138.6L1082.5 138.1L1082.6 137.6L1082.6 137.1L1082.6 136.6L1082.7 136.1L1082.7 135.6L1082.7 135.1L1082.8 134.6L1082.8 134.1L1082.8 133.6L1082.9 133.1L1082.9 132.6L1083.0 132.1L1083.0 131.6L1083.0 131.1L1083.1 130.6L1083.1 130.1L1083.1 129.6L1083.2 129.1L1083.2 128.6L1083.2 128.1L1083.3 127.6L1083.3 127.1L1083.4 126.6L1083.4 126.1L1083.5 125.6L1083.5 125.1L1083.5 124.6L1083.6 124.1L1083.6 123.6L1083.7 123.1L1083.7 122.6L1083.8 122.1L1083.8 121.6L1083.9 121.1L1083.9 120.6L1084.0 120.1L1084.0 119.6L1084.1 119.1L1084.1 118.6L1084.2 118.1L1084.2 117.6L1084.3 117.1L1084.3 116.6L1084.4 116.1L1084.4 115.6L1084.5 115.1L1084.6 114.6L1084.6 114.1L1084.7 113.6L1084.7 113.1L1084.8 112.6L1084.9 112.1L1084.9 111.6L1085.0 111.1L1085.1 110.6L1085.1 110.1L1085.2 109.6L1085.3 109.1L1085.3 108.6L1085.4 108.1L1085.5 107.6L1085.5 107.1L1085.6 106.6L1085.7 106.1L1085.7 105.6L1085.8 105.1L1085.9 104.6L1086.0 104.1L1086.0 103.6L1086.1 103.1L1086.2 102.6L1086.3 102.1L1086.4 101.6L1086.4 101.1L1086.5 100.6L1086.6 100.1L1086.7 99.6L1086.8 99.1L1086.9 98.6L1086.9 98.1L1087.0 97.6L1087.1 97.1L1087.2 96.6L1087.3 96.1L1087.4 95.6L1087.5 95.1L1087.5 94.6L1087.6 94.1L1087.7 93.6L1087.8 93.1L1087.9 92.6L1088.0 92.1L1088.1 91.6L1088.2 91.1L1088.3 90.6L1088.4 90.1L1088.5 89.6L1088.6 89.1L1088.7 88.6L1088.8 88.1L1088.9 87.6L1089.0 87.1L1089.1 86.5L1089.2 86.0L1089.3 85.5L1089.5 85.0L1089.6 84.5L1089.7 84.0L1089.8 83.5L1089.9 83.0L1090.1 82.5L1090.2 82.0L1090.3 81.4L1090.5 80.9L1090.6 80.4L1090.8 79.9L1090.9 79.4L1091.1 78.9L1091.2 78.3L1091.4 77.8L1091.6 77.3L1091.8 76.8L1091.9 76.3L1092.1 75.8L1092.3 75.2L1092.5 74.7L1092.8 74.2L1093.0 73.7L1093.2 73.2L1093.5 72.7L1093.8 72.2L1094.1 71.7L1094.4 71.2L1094.7 70.7L1095.1 70.3L1095.5 69.9L1095.9 69.5L1096.3 69.3L1096.8 69.0L1097.3 68.9L1097.8 68.9L1098.3 69.0L1098.8 69.2L1099.2 69.4L1099.7 69.7L1100.1 70.0L1100.5 70.4L1100.9 70.8L1101.3 71.2L1101.7 71.7L1102.0 72.1L1102.4 72.6L1102.8 73.0L1103.1 73.5L1103.4 74.0L1103.8 74.4L1104.1 74.9L1104.4 75.4L1104.7 75.9L1105.0 76.3L1105.3 76.8L1105.6 77.3L1105.9 77.7L1106.2 78.2L1106.5 78.7L1106.8 79.1L1107.1 79.6L1107.4 80.1L1107.7 80.5L1107.9 81.0L1108.2 81.4L1108.5 81.9L1108.8 82.3L1109.0 82.8L1109.3 83.2L1109.6 83.7L1109.8 84.1L1110.1 84.6L1110.3 85.0L1110.6 85.5L1110.8 85.9L1111.1 86.4L1111.3 86.8L1111.5 87.3L1111.8 87.7L1112.0 88.2L1112.3 88.6L1112.5 89.1L1112.7 89.5L1112.9 90.0L1113.2 90.4L1113.4 90.9L1113.6 91.3L1113.8 91.8L1114.0 92.2L1114.2 92.7L1114.4 93.1L1114.6 93.6L1114.8 94.1L1115.0 94.5L1115.2 95.0L1115.4 95.4L1115.6 95.9L1115.8 96.4L1116.0 96.8L1116.2 97.3L1116.4 97.8L1116.6 98.2L1116.7 98.7L1116.9 99.2L1117.1 99.6L1117.3 100.1L1117.5 100.6L1117.6 101.0L1117.8 101.5L1118.0 102.0L1118.1 102.4L1118.3 102.9L1118.5 103.4L1118.6 103.9L1118.8 104.3L1119.0 104.8L1119.1 105.3L1119.3 105.7L1119.4 106.2L1119.6 106.7L1119.8 107.2L1119.9 107.6L1120.1 108.1L1120.2 108.6L1120.4 109.1L1120.6 109.5L1120.7 110.0L1120.9 110.5L1121.0 111.0L1121.2 111.4L1121.4 111.9L1121.5 112.4L1121.7 112.9L1121.8 113.3L1122.0 113.8L1122.2 114.3L1122.3 114.7L1122.5 115.2L1122.7 115.7L1122.8 116.2L1123.0 116.6L1123.2 117.1L1123.3 117.6L1123.5 118.0L1123.7 118.5L1123.8 119.0L1124.0 119.5L1124.2 119.9L1124.4 120.4L1124.5 120.9L1124.7 121.3L1124.9 121.8L1125.1 122.2L1125.3 122.7L1125.5 123.2L1125.7 123.6L1125.9 124.1L1126.1 124.6L1126.2 125.0L1126.4 125.5L1126.6 125.9L1126.8 126.4L1127.0 126.9L1127.2 127.3L1127.5 127.8L1127.7 128.2L1127.9 128.7L1128.1 129.1L1128.3 129.6L1128.5 130.0L1128.7 130.5L1128.9 130.9L1129.2 131.4L1129.4 131.8L1129.6 132.3L1129.8 132.7L1130.1 133.2L1130.3 133.6L1130.5 134.1L1130.8 134.5L1131.0 134.9L1131.2 135.4L1131.5 135.8L1131.7 136.3L1131.9 136.7L1132.2 137.1L1132.4 137.6L1132.7 138.0L1132.9 138.4L1133.2 138.9L1133.4 139.3L1133.7 139.7L1133.9 140.2L1134.2 140.6L1134.4 141.0L1134.7 141.5L1135.0 141.9L1135.2 142.3L1135.5 142.7L1135.8 143.2L1136.0 143.6L1136.3 144.0L1136.6 144.4L1136.9 144.8L1137.1 145.2L1137.4 145.7L1137.7 146.1L1138.0 146.5L1138.3 146.9L1138.6 147.3L1138.8 147.7L1139.1 148.1L1139.4 148.5L1139.7 148.9L1140.0 149.3L1140.3 149.7L1140.6 150.1L1140.9 150.5L1141.2 150.9L1141.5 151.3L1141.8 151.7L1142.2 152.1L1142.5 152.5L1142.8 152.9L1143.1 153.3L1143.4 153.7L1143.7 154.0L1144.1 154.4L1144.4 154.8L1144.7 155.2L1145.0 155.6L1145.4 155.9L1145.7 156.3L1146.1 156.7L1146.4 157.0L1146.7 157.4L1147.1 157.8L1147.4 158.1L1147.8 158.5L1148.1 158.8L1148.5 159.2L1148.8 159.6L1149.2 159.9L1149.5 160.3L1149.9 160.6L1150.2 161.0L1150.6 161.3L1151.0 161.6L1151.3 162.0L1151.7 162.3L1152.1 162.7L1152.4 163.0L1152.8 163.3L1153.2 163.7L1153.6 164.0L1153.9 164.3L1154.3 164.6L1154.7 165.0L1155.1 165.3L1155.5 165.6L1155.9 165.9L1156.3 166.2L1156.6 166.6L1157.0 166.9L1157.4 167.2L1157.8 167.5L1158.2 167.8L1158.6 168.1L1159.0 168.4L1159.4 168.7L1159.8 169.0L1160.2 169.3L1160.6 169.6L1161.0 169.9L1161.4 170.2L1161.8 170.4L1162.3 170.7L1162.7 171.0L1163.1 171.3L1163.5 171.6L1163.9 171.9L1164.3 172.1L1164.7 172.4L1165.2 172.7L1165.6 173.0L1166.0 173.2L1166.4 173.5L1166.8 173.8L1167.3 174.0L1167.7 174.3L1168.1 174.5L1168.6 174.8L1169.0 175.1L1169.4 175.3L1169.8 175.6L1170.3 175.8L1170.7 176.1L1171.1 176.3L1171.6 176.6L1172.0 176.8L1172.4 177.1L1172.9 177.3L1173.3 177.5L1173.8 177.8L1174.2 178.0L1174.6 178.2L1175.1 178.5L1175.5 178.7L1176.0 178.9L1176.4 179.2L1176.9 179.4L1177.3 179.6L1177.8 179.8L1178.2 180.1L1178.7 180.3L1179.1 180.5L1179.6 180.7L1180.0 180.9L1180.5 181.2L1180.9 181.4L1181.4 181.6L1181.8 181.8L1182.3 182.0L1182.7 182.2L1183.2 182.4L1183.6 182.6L1184.1 182.8L1184.6 183.0L1185.0 183.2L1185.5 183.4L1185.9 183.6L1186.4 183.8L1186.9 184.0L1187.3 184.2L1187.8 184.4L1188.2 184.6L1188.7 184.8L1189.2 185.0L1189.6 185.1L1190.1 185.3L1190.6 185.5L1191.0 185.7L1191.5 185.9L1192.0 186.1L1192.4 186.2L1192.9 186.4L1193.4 186.6L1193.8 186.8L1194.3 186.9L1194.8 187.1L1195.2 187.3L1195.7 187.4L1196.2 187.6L1196.7 187.8L1197.1 188.0L1197.6 188.1L1198.1 188.3L1198.5 188.4L1199.0 188.6L1199.5 188.8L1200.0 188.9L1200.4 189.1L1200.9 189.2L1201.4 189.4L1201.9 189.6L1202.3 189.7L1202.8 189.9L1203.3 190.0L1203.8 190.2L1204.2 190.3L1204.7 190.5L1205.2 190.6L1205.7 190.7L1206.2 190.9L1206.6 191.0L1207.1 191.2L1207.6 191.3L1208.1 191.4L1208.6 191.6L1209.0 191.7L1209.5 191.8L1210.0 191.9L1210.5 192.1L1211.0 192.2L1211.4 192.3L1211.9 192.4L1212.4 192.6L1212.9 192.7L1213.4 192.8L1213.9 192.9L1214.4 193.0L1214.8 193.1L1215.3 193.2L1215.8 193.3L1216.3 193.4L1216.8 193.5L1217.3 193.6L1217.8 193.7L1218.3 193.8L1218.7 193.9L1219.2 194.0L1219.7 194.1L1220.2 194.2L1220.7 194.3L1221.2 194.3L1221.7 194.4L1222.2 194.5L1222.7 194.6L1223.2 194.6L1223.7 194.7L1224.1 194.8L1224.6 194.8L1225.1 194.9L1225.6 195.0L1226.1 195.0L1226.6 195.1L1227.1 195.1L1227.6 195.2L1228.1 195.2L1228.6 195.3L1229.1 195.3L1229.6 195.4L1230.1 195.4L1230.6 195.5L1231.1 195.5L1231.6 195.5L1232.1 195.6L1232.6 195.6L1233.1 195.6L1233.6 195.6L1234.1 195.7L1234.6 195.7L1235.1 195.7L1235.6 195.7L1236.1 195.7L1236.6 195.7L1237.1 195.7L1237.6 195.8L1238.1 195.8L1238.6 195.8L1239.1 195.8L1239.6 195.8L1240.1 195.8L1240.6 195.8L1241.1 195.8L1241.6 195.8L1242.1 195.8L1242.6 195.7L1243.1 195.7L1243.6 195.7L1244.0 195.7L1244.5 195.7L1245.0 195.7L1245.5 195.7L1246.0 195.7L1246.5 195.6L1247.0 195.6L1247.5 195.6L1248.0 195.6L1248.5 195.6L1249.0 195.5L1249.5 195.5L1250.0 195.5L1250.5 195.5L1251.0 195.5L1251.5 195.4L1252.0 195.4L1252.5 195.4L1253.0 195.3L1253.5 195.3L1254.0 195.3L1254.5 195.3L1255.0 195.2L1255.5 195.2L1256.0 195.2L1256.5 195.2L1257.0 195.1L1257.5 195.1L1258.0 195.1L1258.5 195.0L1259.0 195.0L1259.5 195.0L1260.0 195.0L1260.5 194.9L1261.0 194.9L1261.5 194.9L1262.0 194.8L1262.5 194.8L1263.0 194.8L1263.5 194.8L1264.0 194.7L1264.5 194.7L1265.0 194.7L1265.5 194.7L1266.0 194.6L1266.5 194.6L1267.0 194.6L1267.5 194.6L1268.0 194.6L1268.5 194.5L1269.0 194.5L1269.5 194.5L1270.0 194.5L1270.5 194.5L1271.0 194.4L1271.5 194.4L1272.0 194.4L1272.5 194.4L1273.0 194.4L1273.5 194.4L1274.0 194.4L1274.5 194.4L1275.0 194.4L1275.5 194.4L1276.0 194.4L1276.5 194.4L1277.0 194.4L1277.5 194.4L1278.0 194.4L1278.5 194.4L1279.0 194.4L1279.5 194.4" fill="none" stroke="#000" stroke-width="3.4" stroke-linejoin="round"/><path d="M779.5 195.2L780.0 195.2L780.5 195.2L781.0 195.2L781.5 195.2L782.0 195.2L782.5 195.2L783.0 195.2L783.5 195.2L784.0 195.2L784.5 195.2L785.0 195.2L785.5 195.2L786.0 195.1L786.5 195.1L787.0 195.1L787.5 195.1L788.0 195.0L788.5 195.0L789.0 195.0L789.5 194.9L790.0 194.9L790.5 194.8L791.0 194.8L791.5 194.7L792.0 194.7L792.5 194.6L793.0 194.6L793.5 194.5L794.0 194.5L794.5 194.4L795.0 194.4L795.5 194.3L796.0 194.2L796.5 194.2L797.0 194.1L797.5 194.1L798.0 194.0L798.5 193.9L799.0 193.9L799.4 193.8L799.9 193.7L800.4 193.6L800.9 193.6L801.4 193.5L801.9 193.4L802.4 193.4L802.9 193.3L803.4 193.2L803.9 193.2L804.4 193.1L804.9 193.0L805.4 192.9L805.9 192.9L806.4 192.8L806.9 192.7L807.4 192.6L807.9 192.6L808.4 192.5L808.9 192.4L809.3 192.4L809.8 192.3L810.3 192.2L810.8 192.2L811.3 192.1L811.8 192.0L812.3 191.9L812.8 191.9L813.3 191.8L813.8 191.8L814.3 191.7L814.8 191.6L815.3 191.6L815.8 191.5L816.3 191.5L816.8 191.4L817.3 191.3L817.8 191.3L818.3 191.2L818.8 191.2L819.3 191.1L819.8 191.1L820.3 191.0L820.8 191.0L821.3 191.0L821.8 190.9L822.3 190.9L822.8 190.9L823.3 190.8L823.8 190.8L824.3 190.8L824.8 190.7L825.3 190.7L825.8 190.7L826.3 190.7L826.8 190.7L827.3 190.7L827.8 190.6L828.3 190.6L828.8 190.6L829.3 190.6L829.8 190.6L830.3 190.7L830.8 190.7L831.3 190.7L831.8 190.7L832.3 190.7L832.8 190.7L833.3 190.8L833.8 190.8L834.3 190.8L834.8 190.9L835.3 190.9L835.7 191.0L836.2 191.0L836.7 191.1L837.2 191.2L837.7 191.2L838.2 191.3L838.7 191.4L839.2 191.5L839.7 191.5L840.2 191.6L840.7 191.7L841.2 191.8L841.7 191.9L842.2 192.1L842.6 192.2L843.1 192.3L843.6 192.4L844.1 192.6L844.6 192.7L845.0 192.9L845.5 193.0L846.0 193.2L846.5 193.4L846.9 193.5L847.4 193.7L847.9 193.9L848.3 194.1L848.8 194.3L849.2 194.5L849.7 194.7L850.1 195.0L850.6 195.2L851.0 195.4L851.4 195.7L851.9 195.9L852.3 196.2L852.7 196.4L853.2 196.7L853.6 197.0L854.0 197.3L854.4 197.5L854.8 197.8L855.2 198.1L855.6 198.4L856.0 198.7L856.4 199.1L856.8 199.4L857.2 199.7L857.6 200.0L858.0 200.3L858.3 200.6L858.7 200.9L859.1 201.2L859.5 201.6L859.9 201.9L860.3 202.2L860.7 202.5L861.1 202.8L861.5 203.1L861.9 203.4L862.3 203.6L862.7 203.9L863.2 204.2L863.6 204.4L864.0 204.7L864.5 204.9L864.9 205.2L865.4 205.4L865.8 205.6L866.3 205.8L866.7 206.0L867.2 206.2L867.7 206.4L868.1 206.5L868.6 206.7L869.1 206.8L869.6 207.0L870.0 207.1L870.5 207.2L871.0 207.3L871.5 207.4L872.0 207.4L872.5 207.5L873.0 207.5L873.5 207.6L874.0 207.6L874.5 207.6L875.0 207.6L875.5 207.6L876.0 207.6L876.5 207.5L877.0 207.5L877.5 207.4L878.0 207.3L878.5 207.2L879.0 207.1L879.5 207.0L879.9 206.9L880.4 206.7L880.9 206.6L881.4 206.4L881.8 206.2L882.3 206.1L882.8 205.8L883.2 205.6L883.6 205.4L884.1 205.2L884.5 204.9L885.0 204.7L885.4 204.4L885.8 204.1L886.2 203.8L886.6 203.6L887.0 203.3L887.4 203.0L887.8 202.7L888.2 202.4L888.6 202.0L889.0 201.7L889.4 201.4L889.8 201.1L890.1 200.7L890.5 200.4L890.9 200.1L891.3 199.7L891.6 199.4L892.0 199.1L892.4 198.7L892.7 198.4L893.1 198.0L893.4 197.7L893.8 197.4L894.2 197.0L894.5 196.7L894.9 196.3L895.3 196.0L895.6 195.6L896.0 195.3L896.3 195.0L896.7 194.6L897.1 194.3L897.4 193.9L897.8 193.6L898.2 193.2L898.5 192.9L898.9 192.6L899.3 192.2L899.6 191.9L900.0 191.6L900.4 191.2L900.8 190.9L901.1 190.6L901.5 190.2L901.9 189.9L902.3 189.6L902.7 189.3L903.1 189.0L903.4 188.6L903.8 188.3L904.2 188.0L904.6 187.7L905.0 187.4L905.4 187.1L905.8 186.8L906.2 186.5L906.6 186.2L907.1 185.9L907.5 185.7L907.9 185.4L908.3 185.1L908.7 184.8L909.1 184.6L909.6 184.3L910.0 184.0L910.4 183.8L910.8 183.5L911.3 183.2L911.7 183.0L912.1 182.7L912.5 182.5L913.0 182.2L913.4 182.0L913.8 181.7L914.3 181.5L914.7 181.2L915.2 181.0L915.6 180.8L916.0 180.5L916.5 180.3L916.9 180.0L917.4 179.8L917.8 179.6L918.2 179.3L918.7 179.1L919.1 178.9L919.6 178.6L920.0 178.4L920.4 178.2L920.9 177.9L921.3 177.7L921.8 177.5L922.2 177.2L922.7 177.0L923.1 176.7L923.5 176.5L924.0 176.3L924.4 176.0L924.9 175.8L925.3 175.6L925.7 175.3L926.2 175.1L926.6 174.8L927.1 174.6L927.5 174.4L927.9 174.1L928.4 173.9L928.8 173.6L929.2 173.4L929.7 173.1L930.1 172.9L930.5 172.6L931.0 172.4L931.4 172.1L931.8 171.8L932.2 171.6L932.7 171.3L933.1 171.0L933.5 170.8L933.9 170.5L934.3 170.2L934.7 169.9L935.2 169.7L935.6 169.4L936.0 169.1L936.4 168.8L936.8 168.5L937.2 168.2L937.6 167.9L938.0 167.6L938.4 167.3L938.8 167.0L939.2 166.7L939.5 166.3L939.9 166.0L940.3 165.7L940.7 165.4L941.1 165.0L941.4 164.7L941.8 164.4L942.2 164.0L942.6 163.7L942.9 163.4L943.3 163.0L943.6 162.7L944.0 162.3L944.4 162.0L944.7 161.6L945.1 161.3L945.4 160.9L945.8 160.6L946.1 160.2L946.5 159.9L946.8 159.5L947.2 159.1L947.5 158.8L947.9 158.4L948.2 158.1L948.6 157.7L948.9 157.3L949.2 157.0L949.6 156.6L949.9 156.2L950.3 155.9L950.6 155.5L951.0 155.1L951.3 154.8L951.6 154.4L952.0 154.0L952.3 153.7L952.7 153.3L953.0 152.9L953.3 152.6L953.7 152.2L954.0 151.8L954.4 151.5L954.7 151.1L955.0 150.7L955.4 150.4L955.7 150.0L956.0 149.6L956.3 149.2L956.7 148.9L957.0 148.5L957.3 148.1L957.7 147.7L958.0 147.3L958.3 147.0L958.6 146.6L958.9 146.2L959.2 145.8L959.6 145.4L959.9 145.0L960.2 144.6L960.5 144.2L960.8 143.8L961.1 143.4L961.4 143.0L961.7 142.6L962.0 142.2L962.3 141.8L962.5 141.4L962.8 141.0L963.1 140.6L963.4 140.1L963.6 139.7L963.9 139.3L964.2 138.9L964.4 138.5L964.7 138.0L965.0 137.6L965.2 137.2L965.5 136.7L965.7 136.3L966.0 135.9L966.2 135.4L966.4 135.0L966.7 134.5L966.9 134.1L967.1 133.7L967.4 133.2L967.6 132.8L967.8 132.3L968.1 131.9L968.3 131.4L968.5 131.0L968.7 130.5L968.9 130.1L969.1 129.6L969.3 129.2L969.6 128.7L969.8 128.3L970.0 127.8L970.2 127.3L970.4 126.9L970.6 126.4L970.8 126.0L971.0 125.5L971.2 125.0L971.4 124.6L971.5 124.1L971.7 123.7L971.9 123.2L972.1 122.7L972.3 122.3L972.5 121.8L972.7 121.3L972.9 120.9L973.1 120.4L973.2 120.0L973.4 119.5L973.6 119.0L973.8 118.6L974.0 118.1L974.2 117.6L974.3 117.2L974.5 116.7L974.7 116.2L974.9 115.8L975.1 115.3L975.2 114.8L975.4 114.4L975.6 113.9L975.8 113.4L976.0 113.0L976.2 112.5L976.3 112.0L976.5 111.6L976.7 111.1L976.9 110.7L977.1 110.2L977.3 109.7L977.5 109.3L977.6 108.8L977.8 108.3L978.0 107.9L978.2 107.4L978.4 106.9L978.6 106.5L978.8 106.0L979.0 105.6L979.2 105.1L979.3 104.6L979.5 104.2L979.7 103.7L979.9 103.2L980.1 102.8L980.3 102.3L980.5 101.9L980.7 101.4L980.9 100.9L981.1 100.5L981.3 100.0L981.5 99.5L981.7 99.1L981.8 98.6L982.0 98.2L982.2 97.7L982.4 97.2L982.6 96.8L982.8 96.3L983.0 95.9L983.2 95.4L983.4 94.9L983.6 94.5L983.8 94.0L984.0 93.6L984.2 93.1L984.4 92.6L984.6 92.2L984.8 91.7L985.0 91.3L985.2 90.8L985.4 90.3L985.5 89.9L985.7 89.4L985.9 89.0L986.1 88.5L986.3 88.0L986.5 87.6L986.7 87.1L986.9 86.7L987.1 86.2L987.3 85.7L987.5 85.3L987.7 84.8L987.9 84.4L988.1 83.9L988.3 83.4L988.5 83.0L988.7 82.5L988.9 82.1L989.1 81.6L989.3 81.1L989.5 80.7L989.7 80.2L989.9 79.8L990.1 79.3L990.3 78.9L990.5 78.4L990.7 78.0L991.0 77.5L991.2 77.1L991.4 76.6L991.7 76.2L991.9 75.7L992.2 75.3L992.4 74.9L992.7 74.5L993.0 74.1L993.3 73.7L993.6 73.3L993.9 72.9L994.2 72.5L994.6 72.2L995.0 71.9L995.4 71.6L995.9 71.4L996.4 71.3L996.9 71.2L997.4 71.2L997.8 71.4L998.3 71.6L998.7 71.8L999.2 72.1L999.5 72.4L999.9 72.7L1000.3 73.1L1000.6 73.4L1001.0 73.8L1001.3 74.2L1001.6 74.6L1001.9 75.0L1002.2 75.4L1002.5 75.8L1002.8 76.2L1003.0 76.6L1003.3 77.1L1003.6 77.5L1003.8 77.9L1004.1 78.3L1004.3 78.8L1004.5 79.2L1004.8 79.7L1005.0 80.1L1005.2 80.6L1005.5 81.0L1005.7 81.5L1005.9 81.9L1006.1 82.4L1006.3 82.8L1006.5 83.3L1006.7 83.7L1006.9 84.2L1007.0 84.7L1007.2 85.1L1007.4 85.6L1007.6 86.1L1007.7 86.6L1007.9 87.0L1008.0 87.5L1008.2 88.0L1008.3 88.5L1008.5 88.9L1008.6 89.4L1008.7 89.9L1008.9 90.4L1009.0 90.9L1009.1 91.4L1009.2 91.8L1009.3 92.3L1009.4 92.8L1009.5 93.3L1009.6 93.8L1009.7 94.3L1009.8 94.8L1009.9 95.3L1010.0 95.8L1010.1 96.3L1010.2 96.8L1010.3 97.2L1010.3 97.7L1010.4 98.2L1010.5 98.7L1010.5 99.2L1010.6 99.7L1010.7 100.2L1010.7 100.7L1010.8 101.2L1010.8 101.7L1010.9 102.2L1010.9 102.7L1011.0 103.2L1011.0 103.7L1011.1 104.2L1011.1 104.7L1011.2 105.2L1011.2 105.7L1011.3 106.2L1011.3 106.7L1011.3 107.2L1011.4 107.7L1011.4 108.2L1011.5 108.7L1011.5 109.2L1011.5 109.7L1011.6 110.2L1011.6 110.7L1011.7 111.2L1011.7 111.7L1011.7 112.2L1011.8 112.7L1011.8 113.2L1011.9 113.7L1011.9 114.2L1011.9 114.7L1012.0 115.2L1012.0 115.7L1012.1 116.2L1012.1 116.7L1012.1 117.2L1012.2 117.7L1012.2 118.2L1012.3 118.7L1012.3 119.1L1012.3 119.6L1012.4 120.1L1012.4 120.6L1012.5 121.1L1012.5 121.6L1012.5 122.1L1012.6 122.6L1012.6 123.1L1012.6 123.6L1012.7 124.1L1012.7 124.6L1012.8 125.1L1012.8 125.6L1012.8 126.1L1012.9 126.6L1012.9 127.1L1013.0 127.6L1013.0 128.1L1013.0 128.6L1013.1 129.1L1013.1 129.6L1013.2 130.1L1013.2 130.6L1013.2 131.1L1013.3 131.6L1013.3 132.1L1013.4 132.6L1013.4 133.1L1013.4 133.6L1013.5 134.1L1013.5 134.6L1013.5 135.1L1013.6 135.6L1013.6 136.1L1013.7 136.6L1013.7 137.1L1013.7 137.6L1013.8 138.1L1013.8 138.6L1013.9 139.1L1013.9 139.6L1013.9 140.1L1014.0 140.6L1014.0 141.1L1014.1 141.6L1014.1 142.1L1014.1 142.6L1014.2 143.1L1014.2 143.6L1014.2 144.1L1014.3 144.6L1014.3 145.1L1014.4 145.6L1014.4 146.1L1014.4 146.6L1014.5 147.1L1014.5 147.6L1014.6 148.1L1014.6 148.6L1014.6 149.1L1014.7 149.6L1014.7 150.1L1014.7 150.6L1014.8 151.1L1014.8 151.6L1014.9 152.1L1014.9 152.6L1014.9 153.1L1015.0 153.5L1015.0 154.0L1015.0 154.5L1015.1 155.0L1015.1 155.5L1015.2 156.0L1015.2 156.5L1015.2 157.0L1015.3 157.5L1015.3 158.0L1015.3 158.5L1015.4 159.0L1015.4 159.5L1015.5 160.0L1015.5 160.5L1015.5 161.0L1015.6 161.5L1015.6 162.0L1015.6 162.5L1015.7 163.0L1015.7 163.5L1015.8 164.0L1015.8 164.5L1015.8 165.0L1015.9 165.5L1015.9 166.0L1015.9 166.5L1016.0 167.0L1016.0 167.5L1016.1 168.0L1016.1 168.5L1016.1 169.0L1016.2 169.5L1016.2 170.0L1016.2 170.5L1016.3 171.0L1016.3 171.5L1016.3 172.0L1016.4 172.5L1016.4 173.0L1016.5 173.5L1016.5 174.0L1016.5 174.5L1016.6 175.0L1016.6 175.5L1016.6 176.0L1016.7 176.5L1016.7 177.0L1016.7 177.5L1016.8 178.0L1016.8 178.5L1016.9 179.0L1016.9 179.5L1016.9 180.0L1017.0 180.5L1017.0 181.0L1017.0 181.5L1017.1 182.0L1017.1 182.5L1017.1 183.0L1017.2 183.5L1017.2 184.0L1017.3 184.5L1017.3 185.0L1017.3 185.5L1017.4 186.0L1017.4 186.5L1017.4 187.0L1017.5 187.5L1017.5 188.0L1017.5 188.5L1017.6 189.0L1017.6 189.5L1017.6 190.0L1017.7 190.5L1017.7 191.0L1017.7 191.5L1017.8 192.0L1017.8 192.5L1017.9 192.9L1017.9 193.4L1017.9 193.9L1018.0 194.4L1018.0 194.9L1018.0 195.4L1018.1 195.9L1018.1 196.4L1018.1 196.9L1018.2 197.4L1018.2 197.9L1018.2 198.4L1018.3 198.9L1018.3 199.4L1018.3 199.9L1018.4 200.4L1018.4 200.9L1018.4 201.4L1018.5 201.9L1018.5 202.4L1018.5 202.9L1018.6 203.4L1018.6 203.9L1018.6 204.4L1018.7 204.9L1018.7 205.4L1018.7 205.9L1018.8 206.4L1018.8 206.9L1018.9 207.4L1018.9 207.9L1018.9 208.4L1019.0 208.9L1019.0 209.4L1019.0 209.9L1019.1 210.4L1019.1 210.9L1019.1 211.4L1019.2 211.9L1019.2 212.4L1019.2 212.9L1019.3 213.4L1019.3 213.9L1019.3 214.4L1019.4 214.9L1019.4 215.4L1019.4 215.9L1019.5 216.4L1019.5 216.9L1019.5 217.4L1019.5 217.9L1019.6 218.4L1019.6 218.9L1019.6 219.4L1019.7 219.9L1019.7 220.4L1019.7 220.9L1019.8 221.4L1019.8 221.9L1019.8 222.4L1019.9 222.9L1019.9 223.4L1019.9 223.9L1020.0 224.4L1020.0 224.9L1020.0 225.4L1020.1 225.9L1020.1 226.4L1020.1 226.9L1020.2 227.4L1020.2 227.9L1020.2 228.4L1020.3 228.9L1020.3 229.4L1020.3 229.9L1020.4 230.4L1020.4 230.9L1020.4 231.4L1020.4 231.9L1020.5 232.4L1020.5 232.9L1020.5 233.4L1020.6 233.9L1020.6 234.4L1020.6 234.9L1020.7 235.4L1020.7 235.9L1020.7 236.4L1020.8 236.9L1020.8 237.4L1020.8 237.9L1020.8 238.4L1020.9 238.9L1020.9 239.4L1020.9 239.9L1021.0 240.4L1021.0 240.9L1021.0 241.4L1021.1 241.9L1021.1 242.4L1021.1 242.8L1021.1 243.3L1021.2 243.8L1021.2 244.3L1021.2 244.8L1021.3 245.3L1021.3 245.8L1021.3 246.3L1021.4 246.8L1021.4 247.3L1021.4 247.8L1021.4 248.3L1021.5 248.8L1021.5 249.3L1021.5 249.8L1021.6 250.3L1021.6 250.8L1021.6 251.3L1021.7 251.8L1021.7 252.3L1021.7 252.8L1021.7 253.3L1021.8 253.8L1021.8 254.3L1021.8 254.8L1021.9 255.3L1021.9 255.8L1021.9 256.3L1021.9 256.8L1022.0 257.3L1022.0 257.8L1022.0 258.3L1022.1 258.8L1022.1 259.3L1022.1 259.8L1022.1 260.3L1022.2 260.8L1022.2 261.3L1022.2 261.8L1022.3 262.3L1022.3 262.8L1022.3 263.3L1022.3 263.8L1022.4 264.3L1022.4 264.8L1022.4 265.3L1022.4 265.8L1022.5 266.3L1022.5 266.8L1022.5 267.3L1022.6 267.8L1022.6 268.3L1022.6 268.8L1022.6 269.3L1022.7 269.8L1022.7 270.3L1022.7 270.8L1022.8 271.3L1022.8 271.8L1022.8 272.3L1022.8 272.8L1022.9 273.3L1022.9 273.8L1022.9 274.3L1022.9 274.8L1023.0 275.3L1023.0 275.8L1023.0 276.3L1023.0 276.8L1023.1 277.3L1023.1 277.8L1023.1 278.3L1023.2 278.8L1023.2 279.3L1023.2 279.8L1023.2 280.3L1023.3 280.8L1023.3 281.3L1023.3 281.8L1023.3 282.3L1023.4 282.8L1023.4 283.3L1023.4 283.8L1023.4 284.3L1023.5 284.8L1023.5 285.3L1023.5 285.8L1023.6 286.3L1023.6 286.8L1023.6 287.3L1023.6 287.8L1023.7 288.3L1023.7 288.8L1023.7 289.3L1023.7 289.8L1023.8 290.3L1023.8 290.8L1023.8 291.3L1023.8 291.8L1023.9 292.3L1023.9 292.8L1023.9 293.3L1023.9 293.8L1024.0 294.3L1024.0 294.8L1024.0 295.3L1024.0 295.8L1024.1 296.3L1024.1 296.8L1024.1 297.3L1024.1 297.8L1024.2 298.3L1024.2 298.8L1024.2 299.3L1024.2 299.8L1024.3 300.3L1024.3 300.8L1024.3 301.3L1024.3 301.8L1024.4 302.3L1024.4 302.8L1024.4 303.3L1024.4 303.8L1024.5 304.3L1024.5 304.8L1024.5 305.3L1024.5 305.8L1024.6 306.3L1024.6 306.8L1024.6 307.3L1024.6 307.8L1024.7 308.3L1024.7 308.8L1024.7 309.3L1024.7 309.8L1024.8 310.3L1024.8 310.8L1024.8 311.3L1024.8 311.8L1024.9 312.3L1024.9 312.8L1024.9 313.3L1024.9 313.8L1025.0 314.3L1025.0 314.8L1025.0 315.3L1025.0 315.8L1025.1 316.3L1025.1 316.8L1025.1 317.3L1025.1 317.8L1025.2 318.3L1025.2 318.8L1025.2 319.3L1025.2 319.7L1025.3 320.2L1025.3 320.7L1025.3 321.2L1025.3 321.7L1025.4 322.2L1025.4 322.7L1025.4 323.2L1025.4 323.7L1025.5 324.2L1025.5 324.7L1025.5 325.2L1025.5 325.7L1025.6 326.2L1025.6 326.7L1025.6 327.2L1025.6 327.7L1025.6 328.2L1025.7 328.7L1025.7 329.2L1025.7 329.7L1025.7 330.2L1025.8 330.7L1025.8 331.2L1025.8 331.7L1025.8 332.2L1025.9 332.7L1025.9 333.2L1025.9 333.7L1025.9 334.2L1026.0 334.7L1026.0 335.2L1026.0 335.7L1026.0 336.2L1026.1 336.7L1026.1 337.2L1026.1 337.7L1026.1 338.2L1026.1 338.7L1026.2 339.2L1026.2 339.7L1026.2 340.2L1026.2 340.7L1026.3 341.2L1026.3 341.7L1026.3 342.2L1026.3 342.7L1026.4 343.2L1026.4 343.7L1026.4 344.2L1026.4 344.7L1026.5 345.2L1026.5 345.7L1026.5 346.2L1026.5 346.7L1026.6 347.2L1026.6 347.7L1026.6 348.2L1026.6 348.7L1026.6 349.2L1026.7 349.7L1026.7 350.2L1026.7 350.7L1026.7 351.2L1026.8 351.7L1026.8 352.2L1026.8 352.7L1026.8 353.2L1026.9 353.7L1026.9 354.2L1026.9 354.7L1026.9 355.2L1027.0 355.7L1027.0 356.2L1027.0 356.7L1027.0 357.2L1027.0 357.7L1027.1 358.2L1027.1 358.7L1027.1 359.2L1027.1 359.7L1027.2 360.2L1027.2 360.7L1027.2 361.2L1027.2 361.7L1027.3 362.2L1027.3 362.7L1027.3 363.2L1027.3 363.7L1027.4 364.2L1027.4 364.7L1027.4 365.2L1027.4 365.7L1027.4 366.2L1027.5 366.7L1027.5 367.2L1027.5 367.7L1027.5 368.2L1027.6 368.7L1027.6 369.2L1027.6 369.7L1027.6 370.2L1027.7 370.7L1027.7 371.2L1027.7 371.7L1027.7 372.2L1027.8 372.7L1027.8 373.2L1027.8 373.7L1027.8 374.2L1027.8 374.7L1027.9 375.2L1027.9 375.7L1027.9 376.2L1027.9 376.7L1028.0 377.2L1028.0 377.7L1028.0 378.2L1028.0 378.7L1028.1 379.2L1028.1 379.7L1028.1 380.2L1028.1 380.7L1028.2 381.2L1028.2 381.7L1028.2 382.2L1028.2 382.7L1028.3 383.2L1028.3 383.7L1028.3 384.2L1028.3 384.7L1028.3 385.2L1028.4 385.7L1028.4 386.2L1028.4 386.7L1028.4 387.2L1028.5 387.7L1028.5 388.2L1028.5 388.7L1028.5 389.2L1028.6 389.7L1028.6 390.2L1028.6 390.7L1028.6 391.2L1028.7 391.7L1028.7 392.2L1028.7 392.7L1028.7 393.2L1028.8 393.7L1028.8 394.2L1028.8 394.7L1028.8 395.2L1028.8 395.7L1028.9 396.2L1028.9 396.7L1028.9 397.2L1028.9 397.7L1029.0 398.2L1029.0 398.7L1029.0 399.2L1029.0 399.7L1029.1 400.2L1029.1 400.7L1029.1 401.2L1029.1 401.7L1029.2 402.2L1029.2 402.7L1029.2 403.2L1029.2 403.7L1029.3 404.2L1029.3 404.7L1029.3 405.2L1029.3 405.7L1029.4 406.2L1029.4 406.7L1029.4 407.2L1029.4 407.7L1029.5 408.2L1029.5 408.7L1029.5 409.2L1029.5 409.7L1029.6 410.2L1029.6 410.7L1029.6 411.2L1029.6 411.7L1029.7 412.2L1029.7 412.7L1029.7 413.2L1029.7 413.7L1029.8 414.2L1029.8 414.7L1029.8 415.2L1029.8 415.7L1029.9 416.2L1029.9 416.7L1029.9 417.2L1029.9 417.7L1030.0 418.2L1030.0 418.6L1030.0 419.1L1030.0 419.6L1030.1 420.1L1030.1 420.6L1030.1 421.1L1030.1 421.6L1030.2 422.1L1030.2 422.6L1030.2 423.1L1030.2 423.6L1030.3 424.1L1030.3 424.6L1030.3 425.1L1030.3 425.6L1030.4 426.1L1030.4 426.6L1030.4 427.1L1030.4 427.6L1030.5 428.1L1030.5 428.6L1030.5 429.1L1030.5 429.6L1030.6 430.1L1030.6 430.6L1030.6 431.1L1030.6 431.6L1030.7 432.1L1030.7 432.6L1030.7 433.1L1030.8 433.6L1030.8 434.1L1030.8 434.6L1030.8 435.1L1030.9 435.6L1030.9 436.1L1030.9 436.6L1030.9 437.1L1031.0 437.6L1031.0 438.1L1031.0 438.6L1031.0 439.1L1031.1 439.6L1031.1 440.1L1031.1 440.6L1031.1 441.1L1031.2 441.6L1031.2 442.1L1031.2 442.6L1031.3 443.1L1031.3 443.6L1031.3 444.1L1031.3 444.6L1031.4 445.1L1031.4 445.6L1031.4 446.1L1031.4 446.6L1031.5 447.1L1031.5 447.6L1031.5 448.1L1031.6 448.6L1031.6 449.1L1031.6 449.6L1031.6 450.1L1031.7 450.6L1031.7 451.1L1031.7 451.6L1031.7 452.1L1031.8 452.6L1031.8 453.1L1031.8 453.6L1031.9 454.1L1031.9 454.6L1031.9 455.1L1031.9 455.6L1032.0 456.1L1032.0 456.6L1032.0 457.1L1032.0 457.6L1032.1 458.1L1032.1 458.6L1032.1 459.1L1032.2 459.6L1032.2 460.1L1032.2 460.6L1032.2 461.1L1032.3 461.6L1032.3 462.1L1032.3 462.6L1032.4 463.1L1032.4 463.6L1032.4 464.1L1032.4 464.6L1032.5 465.1L1032.5 465.6L1032.5 466.1L1032.6 466.6L1032.6 467.1L1032.6 467.6L1032.6 468.1L1032.7 468.6L1032.7 469.1L1032.7 469.6L1032.8 470.1L1032.8 470.6L1032.8 471.1L1032.8 471.6L1032.9 472.1L1032.9 472.6L1032.9 473.1L1033.0 473.6L1033.0 474.1L1033.0 474.6L1033.1 475.1L1033.1 475.6L1033.1 476.1L1033.1 476.6L1033.2 477.1L1033.2 477.6L1033.2 478.1L1033.3 478.6L1033.3 479.1L1033.3 479.6L1033.4 480.1L1033.4 480.6L1033.4 481.1L1033.4 481.6L1033.5 482.1L1033.5 482.6L1033.5 483.1L1033.6 483.6L1033.6 484.1L1033.6 484.6L1033.7 485.1L1033.7 485.6L1033.7 486.1L1033.8 486.6L1033.8 487.1L1033.8 487.6L1033.8 488.1L1033.9 488.6L1033.9 489.0L1033.9 489.5L1034.0 490.0L1034.0 490.5L1034.0 491.0L1034.1 491.5L1034.1 492.0L1034.1 492.5L1034.2 493.0L1034.2 493.5L1034.2 494.0L1034.3 494.5L1034.3 495.0L1034.3 495.5L1034.4 496.0L1034.4 496.5L1034.4 497.0L1034.5 497.5L1034.5 498.0L1034.5 498.5L1034.5 499.0L1034.6 499.5L1034.6 500.0L1034.6 500.5L1034.7 501.0L1034.7 501.5L1034.7 502.0L1034.8 502.5L1034.8 503.0L1034.8 503.5L1034.9 504.0L1034.9 504.5L1034.9 505.0L1035.0 505.5L1035.0 506.0L1035.0 506.5L1035.1 507.0L1035.1 507.5L1035.1 508.0L1035.2 508.5L1035.2 509.0L1035.2 509.5L1035.3 510.0L1035.3 510.5L1035.3 511.0L1035.4 511.5L1035.4 512.0L1035.5 512.5L1035.5 513.0L1035.5 513.5L1035.6 514.0L1035.6 514.5L1035.6 515.0L1035.7 515.5L1035.7 516.0L1035.7 516.5L1035.8 517.0L1035.8 517.5L1035.8 518.0L1035.9 518.5L1035.9 519.0L1036.0 519.5L1036.0 520.0L1036.0 520.5L1036.1 521.0L1036.1 521.5L1036.1 522.0L1036.2 522.5L1036.2 523.0L1036.3 523.5L1036.3 524.0L1036.3 524.5L1036.4 525.0L1036.4 525.5L1036.5 526.0L1036.5 526.5L1036.5 527.0L1036.6 527.5L1036.6 528.0L1036.7 528.5L1036.7 529.0L1036.7 529.5L1036.8 530.0L1036.8 530.5L1036.9 531.0L1036.9 531.4L1036.9 531.9L1037.0 532.4L1037.0 532.9L1037.1 533.4L1037.1 533.9L1037.2 534.4L1037.2 534.9L1037.2 535.4L1037.3 535.9L1037.3 536.4L1037.4 536.9L1037.4 537.4L1037.5 537.9L1037.5 538.4L1037.6 538.9L1037.6 539.4L1037.7 539.9L1037.7 540.4L1037.7 540.9L1037.8 541.4L1037.8 541.9L1037.9 542.4L1037.9 542.9L1038.0 543.4L1038.0 543.9L1038.1 544.4L1038.1 544.9L1038.2 545.4L1038.2 545.9L1038.3 546.4L1038.3 546.9L1038.4 547.4L1038.4 547.9L1038.5 548.4L1038.5 548.9L1038.6 549.4L1038.7 549.9L1038.7 550.4L1038.8 550.9L1038.8 551.4L1038.9 551.9L1038.9 552.4L1039.0 552.8L1039.0 553.3L1039.1 553.8L1039.2 554.3L1039.2 554.8L1039.3 555.3L1039.3 555.8L1039.4 556.3L1039.5 556.8L1039.5 557.3L1039.6 557.8L1039.6 558.3L1039.7 558.8L1039.8 559.3L1039.8 559.8L1039.9 560.3L1040.0 560.8L1040.0 561.3L1040.1 561.8L1040.1 562.3L1040.2 562.8L1040.3 563.3L1040.3 563.8L1040.4 564.3L1040.5 564.8L1040.5 565.3L1040.6 565.7L1040.7 566.2L1040.7 566.7L1040.8 567.2L1040.9 567.7L1040.9 568.2L1041.0 568.7L1041.1 569.2L1041.2 569.7L1041.2 570.2L1041.3 570.7L1041.4 571.2L1041.4 571.7L1041.5 572.2L1041.6 572.7L1041.7 573.2L1041.7 573.7L1041.8 574.2L1041.9 574.7L1041.9 575.2L1042.0 575.7L1042.1 576.1L1042.2 576.6L1042.2 577.1L1042.3 577.6L1042.4 578.1L1042.4 578.6L1042.5 579.1L1042.6 579.6L1042.7 580.1L1042.7 580.6L1042.8 581.1L1042.9 581.6L1043.0 582.1L1043.0 582.6L1043.1 583.1L1043.2 583.6L1043.3 584.1L1043.3 584.6L1043.4 585.0L1043.5 585.5L1043.6 586.0L1043.7 586.5L1043.7 587.0L1043.8 587.5L1043.9 588.0L1044.0 588.5L1044.1 589.0L1044.1 589.5L1044.2 590.0L1044.3 590.5L1044.4 591.0L1044.5 591.5L1044.6 591.9L1044.7 592.4L1044.8 592.9L1044.9 593.4L1045.0 593.9L1045.1 594.4L1045.2 594.9L1045.4 595.4L1045.5 595.8L1045.6 596.3L1045.8 596.8L1046.0 597.3L1046.1 597.7L1046.4 598.2L1046.6 598.6L1047.0 598.9L1047.5 598.9L1047.8 598.6L1048.1 598.2L1048.4 597.7L1048.6 597.3L1048.8 596.8L1048.9 596.4L1049.1 595.9L1049.3 595.4L1049.4 594.9L1049.5 594.4L1049.7 594.0L1049.8 593.5L1049.9 593.0L1050.1 592.5L1050.2 592.0L1050.3 591.5L1050.4 591.1L1050.5 590.6L1050.6 590.1L1050.7 589.6L1050.8 589.1L1051.0 588.6L1051.1 588.1L1051.2 587.6L1051.3 587.1L1051.4 586.7L1051.4 586.2L1051.5 585.7L1051.6 585.2L1051.7 584.7L1051.8 584.2L1051.9 583.7L1052.0 583.2L1052.1 582.7L1052.2 582.2L1052.3 581.7L1052.4 581.2L1052.4 580.8L1052.5 580.3L1052.6 579.8L1052.7 579.3L1052.8 578.8L1052.9 578.3L1052.9 577.8L1053.0 577.3L1053.1 576.8L1053.2 576.3L1053.3 575.8L1053.3 575.3L1053.4 574.8L1053.5 574.3L1053.6 573.8L1053.6 573.3L1053.7 572.9L1053.8 572.4L1053.8 571.9L1053.9 571.4L1054.0 570.9L1054.0 570.4L1054.1 569.9L1054.2 569.4L1054.2 568.9L1054.3 568.4L1054.4 567.9L1054.4 567.4L1054.5 566.9L1054.5 566.4L1054.6 565.9L1054.6 565.4L1054.7 564.9L1054.8 564.4L1054.8 563.9L1054.9 563.4L1054.9 562.9L1055.0 562.4L1055.0 561.9L1055.1 561.4L1055.1 560.9L1055.2 560.4L1055.2 559.9L1055.3 559.4L1055.3 558.9L1055.3 558.4L1055.4 557.9L1055.4 557.4L1055.5 557.0L1055.5 556.5L1055.6 556.0L1055.6 555.5L1055.6 555.0L1055.7 554.5L1055.7 554.0L1055.8 553.5L1055.8 553.0L1055.8 552.5L1055.9 552.0L1055.9 551.5L1056.0 551.0L1056.0 550.5L1056.0 550.0L1056.1 549.5L1056.1 549.0L1056.1 548.5L1056.2 548.0L1056.2 547.5L1056.3 547.0L1056.3 546.5L1056.3 546.0L1056.4 545.5L1056.4 545.0L1056.5 544.5L1056.5 544.0L1056.5 543.5L1056.6 543.0L1056.6 542.5L1056.7 542.0L1056.7 541.5L1056.7 541.0L1056.8 540.5L1056.8 540.0L1056.8 539.5L1056.9 539.0L1056.9 538.5L1057.0 538.0L1057.0 537.5L1057.0 537.0L1057.1 536.5L1057.1 536.0L1057.2 535.5L1057.2 535.0L1057.2 534.5L1057.3 534.0L1057.3 533.5L1057.3 533.0L1057.4 532.5L1057.4 532.0L1057.5 531.5L1057.5 531.0L1057.5 530.5L1057.6 530.0L1057.6 529.5L1057.6 529.0L1057.7 528.5L1057.7 528.0L1057.8 527.5L1057.8 527.0L1057.8 526.5L1057.9 526.0L1057.9 525.5L1057.9 525.0L1058.0 524.5L1058.0 524.0L1058.1 523.5L1058.1 523.0L1058.1 522.5L1058.2 522.0L1058.2 521.6L1058.2 521.1L1058.3 520.6L1058.3 520.1L1058.3 519.6L1058.4 519.1L1058.4 518.6L1058.5 518.1L1058.5 517.6L1058.5 517.1L1058.6 516.6L1058.6 516.1L1058.6 515.6L1058.7 515.1L1058.7 514.6L1058.7 514.1L1058.8 513.6L1058.8 513.1L1058.8 512.6L1058.9 512.1L1058.9 511.6L1059.0 511.1L1059.0 510.6L1059.0 510.1L1059.1 509.6L1059.1 509.1L1059.1 508.6L1059.2 508.1L1059.2 507.6L1059.2 507.1L1059.3 506.6L1059.3 506.1L1059.3 505.6L1059.4 505.1L1059.4 504.6L1059.4 504.1L1059.5 503.6L1059.5 503.1L1059.5 502.6L1059.6 502.1L1059.6 501.6L1059.6 501.1L1059.7 500.6L1059.7 500.1L1059.7 499.6L1059.8 499.1L1059.8 498.6L1059.8 498.1L1059.9 497.6L1059.9 497.1L1059.9 496.6L1059.9 496.1L1060.0 495.6L1060.0 495.1L1060.0 494.6L1060.1 494.1L1060.1 493.6L1060.1 493.1L1060.2 492.6L1060.2 492.1L1060.2 491.6L1060.3 491.1L1060.3 490.6L1060.3 490.1L1060.3 489.6L1060.4 489.1L1060.4 488.6L1060.4 488.1L1060.5 487.6L1060.5 487.1L1060.5 486.6L1060.5 486.1L1060.6 485.6L1060.6 485.1L1060.6 484.6L1060.7 484.1L1060.7 483.6L1060.7 483.1L1060.7 482.6L1060.8 482.1L1060.8 481.6L1060.8 481.1L1060.9 480.6L1060.9 480.1L1060.9 479.6L1060.9 479.1L1061.0 478.6L1061.0 478.1L1061.0 477.6L1061.0 477.1L1061.1 476.6L1061.1 476.1L1061.1 475.6L1061.2 475.1L1061.2 474.6L1061.2 474.1L1061.2 473.6L1061.3 473.1L1061.3 472.6L1061.3 472.1L1061.3 471.6L1061.4 471.1L1061.4 470.6L1061.4 470.1L1061.4 469.6L1061.5 469.1L1061.5 468.6L1061.5 468.1L1061.5 467.6L1061.6 467.1L1061.6 466.6L1061.6 466.2L1061.6 465.7L1061.7 465.2L1061.7 464.7L1061.7 464.2L1061.7 463.7L1061.8 463.2L1061.8 462.7L1061.8 462.2L1061.8 461.7L1061.9 461.2L1061.9 460.7L1061.9 460.2L1061.9 459.7L1062.0 459.2L1062.0 458.7L1062.0 458.2L1062.0 457.7L1062.1 457.2L1062.1 456.7L1062.1 456.2L1062.1 455.7L1062.1 455.2L1062.2 454.7L1062.2 454.2L1062.2 453.7L1062.2 453.2L1062.3 452.7L1062.3 452.2L1062.3 451.7L1062.3 451.2L1062.4 450.7L1062.4 450.2L1062.4 449.7L1062.4 449.2L1062.4 448.7L1062.5 448.2L1062.5 447.7L1062.5 447.2L1062.5 446.7L1062.6 446.2L1062.6 445.7L1062.6 445.2L1062.6 444.7L1062.6 444.2L1062.7 443.7L1062.7 443.2L1062.7 442.7L1062.7 442.2L1062.8 441.7L1062.8 441.2L1062.8 440.7L1062.8 440.2L1062.8 439.7L1062.9 439.2L1062.9 438.7L1062.9 438.2L1062.9 437.7L1062.9 437.2L1063.0 436.7L1063.0 436.2L1063.0 435.7L1063.0 435.2L1063.0 434.7L1063.1 434.2L1063.1 433.7L1063.1 433.2L1063.1 432.7L1063.2 432.2L1063.2 431.7L1063.2 431.2L1063.2 430.7L1063.2 430.2L1063.3 429.7L1063.3 429.2L1063.3 428.7L1063.3 428.2L1063.3 427.7L1063.4 427.2L1063.4 426.7L1063.4 426.2L1063.4 425.7L1063.4 425.2L1063.5 424.7L1063.5 424.2L1063.5 423.7L1063.5 423.2L1063.5 422.7L1063.6 422.2L1063.6 421.7L1063.6 421.2L1063.6 420.7L1063.7 420.2L1063.7 419.7L1063.7 419.2L1063.7 418.7L1063.7 418.2L1063.8 417.7L1063.8 417.2L1063.8 416.7L1063.8 416.2L1063.8 415.7L1063.9 415.2L1063.9 414.7L1063.9 414.2L1063.9 413.7L1063.9 413.2L1064.0 412.7L1064.0 412.2L1064.0 411.7L1064.0 411.2L1064.0 410.7L1064.1 410.2L1064.1 409.7L1064.1 409.2L1064.1 408.7L1064.1 408.2L1064.2 407.7L1064.2 407.2L1064.2 406.7L1064.2 406.2L1064.2 405.7L1064.3 405.2L1064.3 404.7L1064.3 404.2L1064.3 403.7L1064.4 403.2L1064.4 402.7L1064.4 402.2L1064.4 401.7L1064.4 401.2L1064.5 400.7L1064.5 400.2L1064.5 399.7L1064.5 399.2L1064.5 398.7L1064.6 398.2L1064.6 397.7L1064.6 397.2L1064.6 396.7L1064.6 396.2L1064.7 395.7L1064.7 395.2L1064.7 394.7L1064.7 394.2L1064.7 393.7L1064.8 393.2L1064.8 392.7L1064.8 392.2L1064.8 391.7L1064.9 391.2L1064.9 390.7L1064.9 390.2L1064.9 389.7L1064.9 389.2L1065.0 388.7L1065.0 388.2L1065.0 387.7L1065.0 387.2L1065.1 386.7L1065.1 386.2L1065.1 385.7L1065.1 385.2L1065.1 384.7L1065.2 384.2L1065.2 383.7L1065.2 383.2L1065.2 382.7L1065.3 382.2L1065.3 381.7L1065.3 381.2L1065.3 380.7L1065.3 380.2L1065.4 379.7L1065.4 379.2L1065.4 378.7L1065.4 378.2L1065.5 377.7L1065.5 377.2L1065.5 376.7L1065.5 376.2L1065.5 375.7L1065.6 375.2L1065.6 374.7L1065.6 374.2L1065.6 373.7L1065.7 373.2L1065.7 372.7L1065.7 372.2L1065.7 371.7L1065.8 371.2L1065.8 370.7L1065.8 370.2L1065.8 369.7L1065.9 369.2L1065.9 368.7L1065.9 368.2L1065.9 367.7L1065.9 367.2L1066.0 366.7L1066.0 366.2L1066.0 365.7L1066.0 365.2L1066.1 364.7L1066.1 364.2L1066.1 363.7L1066.1 363.2L1066.2 362.7L1066.2 362.2L1066.2 361.7L1066.2 361.2L1066.3 360.7L1066.3 360.2L1066.3 359.7L1066.3 359.2L1066.4 358.7L1066.4 358.2L1066.4 357.7L1066.4 357.2L1066.5 356.7L1066.5 356.2L1066.5 355.7L1066.5 355.2L1066.6 354.7L1066.6 354.2L1066.6 353.7L1066.6 353.2L1066.7 352.7L1066.7 352.2L1066.7 351.7L1066.7 351.2L1066.8 350.7L1066.8 350.3L1066.8 349.8L1066.8 349.3L1066.9 348.8L1066.9 348.3L1066.9 347.8L1066.9 347.3L1067.0 346.8L1067.0 346.3L1067.0 345.8L1067.1 345.3L1067.1 344.8L1067.1 344.3L1067.1 343.8L1067.2 343.3L1067.2 342.8L1067.2 342.3L1067.2 341.8L1067.3 341.3L1067.3 340.8L1067.3 340.3L1067.3 339.8L1067.4 339.3L1067.4 338.8L1067.4 338.3L1067.5 337.8L1067.5 337.3L1067.5 336.8L1067.5 336.3L1067.6 335.8L1067.6 335.3L1067.6 334.8L1067.6 334.3L1067.7 333.8L1067.7 333.3L1067.7 332.8L1067.8 332.3L1067.8 331.8L1067.8 331.3L1067.8 330.8L1067.9 330.3L1067.9 329.8L1067.9 329.3L1068.0 328.8L1068.0 328.3L1068.0 327.8L1068.0 327.3L1068.1 326.8L1068.1 326.3L1068.1 325.8L1068.1 325.3L1068.2 324.8L1068.2 324.3L1068.2 323.8L1068.3 323.3L1068.3 322.8L1068.3 322.3L1068.4 321.8L1068.4 321.3L1068.4 320.8L1068.4 320.3L1068.5 319.8L1068.5 319.3L1068.5 318.8L1068.6 318.3L1068.6 317.8L1068.6 317.3L1068.6 316.8L1068.7 316.3L1068.7 315.8L1068.7 315.3L1068.8 314.8L1068.8 314.3L1068.8 313.8L1068.9 313.3L1068.9 312.8L1068.9 312.3L1068.9 311.8L1069.0 311.3L1069.0 310.8L1069.0 310.3L1069.1 309.8L1069.1 309.3L1069.1 308.8L1069.2 308.3L1069.2 307.8L1069.2 307.3L1069.2 306.8L1069.3 306.3L1069.3 305.8L1069.3 305.3L1069.4 304.8L1069.4 304.3L1069.4 303.8L1069.5 303.3L1069.5 302.8L1069.5 302.3L1069.6 301.8L1069.6 301.3L1069.6 300.8L1069.7 300.3L1069.7 299.8L1069.7 299.3L1069.7 298.8L1069.8 298.3L1069.8 297.8L1069.8 297.3L1069.9 296.8L1069.9 296.3L1069.9 295.8L1070.0 295.3L1070.0 294.8L1070.0 294.3L1070.1 293.8L1070.1 293.3L1070.1 292.8L1070.2 292.3L1070.2 291.8L1070.2 291.3L1070.3 290.8L1070.3 290.3L1070.3 289.8L1070.4 289.3L1070.4 288.8L1070.4 288.3L1070.5 287.8L1070.5 287.4L1070.5 286.9L1070.6 286.4L1070.6 285.9L1070.6 285.4L1070.7 284.9L1070.7 284.4L1070.7 283.9L1070.8 283.4L1070.8 282.9L1070.8 282.4L1070.9 281.9L1070.9 281.4L1070.9 280.9L1071.0 280.4L1071.0 279.9L1071.0 279.4L1071.1 278.9L1071.1 278.4L1071.1 277.9L1071.2 277.4L1071.2 276.9L1071.2 276.4L1071.3 275.9L1071.3 275.4L1071.3 274.9L1071.4 274.4L1071.4 273.9L1071.4 273.4L1071.5 272.9L1071.5 272.4L1071.5 271.9L1071.6 271.4L1071.6 270.9L1071.6 270.4L1071.7 269.9L1071.7 269.4L1071.8 268.9L1071.8 268.4L1071.8 267.9L1071.9 267.4L1071.9 266.9L1071.9 266.4L1072.0 265.9L1072.0 265.4L1072.0 264.9L1072.1 264.4L1072.1 263.9L1072.1 263.4L1072.2 262.9L1072.2 262.4L1072.3 261.9L1072.3 261.4L1072.3 260.9L1072.4 260.4L1072.4 259.9L1072.4 259.4L1072.5 258.9L1072.5 258.4L1072.5 257.9L1072.6 257.4L1072.6 256.9L1072.7 256.4L1072.7 255.9L1072.7 255.4L1072.8 254.9L1072.8 254.4L1072.8 253.9L1072.9 253.4L1072.9 252.9L1072.9 252.4L1073.0 251.9L1073.0 251.4L1073.1 250.9L1073.1 250.4L1073.1 249.9L1073.2 249.4L1073.2 248.9L1073.2 248.4L1073.3 247.9L1073.3 247.4L1073.4 246.9L1073.4 246.4L1073.4 246.0L1073.5 245.5L1073.5 245.0L1073.6 244.5L1073.6 244.0L1073.6 243.5L1073.7 243.0L1073.7 242.5L1073.7 242.0L1073.8 241.5L1073.8 241.0L1073.9 240.5L1073.9 240.0L1073.9 239.5L1074.0 239.0L1074.0 238.5L1074.1 238.0L1074.1 237.5L1074.1 237.0L1074.2 236.5L1074.2 236.0L1074.2 235.5L1074.3 235.0L1074.3 234.5L1074.4 234.0L1074.4 233.5L1074.4 233.0L1074.5 232.5L1074.5 232.0L1074.6 231.5L1074.6 231.0L1074.6 230.5L1074.7 230.0L1074.7 229.5L1074.8 229.0L1074.8 228.5L1074.8 228.0L1074.9 227.5L1074.9 227.0L1075.0 226.5L1075.0 226.0L1075.0 225.5L1075.1 225.0L1075.1 224.5L1075.2 224.0L1075.2 223.5L1075.3 223.0L1075.3 222.5L1075.3 222.0L1075.4 221.5L1075.4 221.0L1075.5 220.5L1075.5 220.0L1075.5 219.5L1075.6 219.0L1075.6 218.5L1075.7 218.0L1075.7 217.5L1075.7 217.0L1075.8 216.5L1075.8 216.0L1075.9 215.5L1075.9 215.0L1076.0 214.5L1076.0 214.0L1076.0 213.5L1076.1 213.1L1076.1 212.6L1076.2 212.1L1076.2 211.6L1076.2 211.1L1076.3 210.6L1076.3 210.1L1076.4 209.6L1076.4 209.1L1076.5 208.6L1076.5 208.1L1076.5 207.6L1076.6 207.1L1076.6 206.6L1076.7 206.1L1076.7 205.6L1076.8 205.1L1076.8 204.6L1076.8 204.1L1076.9 203.6L1076.9 203.1L1077.0 202.6L1077.0 202.1L1077.1 201.6L1077.1 201.1L1077.1 200.6L1077.2 200.1L1077.2 199.6L1077.3 199.1L1077.3 198.6L1077.4 198.1L1077.4 197.6L1077.4 197.1L1077.5 196.6L1077.5 196.1L1077.6 195.6L1077.6 195.1L1077.7 194.6L1077.7 194.1L1077.7 193.6L1077.8 193.1L1077.8 192.6L1077.9 192.1L1077.9 191.6L1078.0 191.1L1078.0 190.6L1078.0 190.1L1078.1 189.6L1078.1 189.1L1078.2 188.6L1078.2 188.1L1078.2 187.6L1078.3 187.1L1078.3 186.6L1078.4 186.1L1078.4 185.6L1078.5 185.1L1078.5 184.7L1078.5 184.2L1078.6 183.7L1078.6 183.2L1078.7 182.7L1078.7 182.2L1078.8 181.7L1078.8 181.2L1078.8 180.7L1078.9 180.2L1078.9 179.7L1079.0 179.2L1079.0 178.7L1079.1 178.2L1079.1 177.7L1079.1 177.2L1079.2 176.7L1079.2 176.2L1079.3 175.7L1079.3 175.2L1079.4 174.7L1079.4 174.2L1079.4 173.7L1079.5 173.2L1079.5 172.7L1079.6 172.2L1079.6 171.7L1079.6 171.2L1079.7 170.7L1079.7 170.2L1079.8 169.7L1079.8 169.2L1079.8 168.7L1079.9 168.2L1079.9 167.7L1080.0 167.2L1080.0 166.7L1080.1 166.2L1080.1 165.7L1080.1 165.2L1080.2 164.7L1080.2 164.2L1080.3 163.7L1080.3 163.2L1080.3 162.7L1080.4 162.2L1080.4 161.7L1080.5 161.2L1080.5 160.7L1080.5 160.2L1080.6 159.7L1080.6 159.2L1080.7 158.7L1080.7 158.2L1080.7 157.7L1080.8 157.2L1080.8 156.7L1080.9 156.2L1080.9 155.7L1080.9 155.2L1081.0 154.7L1081.0 154.2L1081.0 153.8L1081.1 153.3L1081.1 152.8L1081.2 152.3L1081.2 151.8L1081.2 151.3L1081.3 150.8L1081.3 150.3L1081.4 149.8L1081.4 149.3L1081.4 148.8L1081.5 148.3L1081.5 147.8L1081.5 147.3L1081.6 146.8L1081.6 146.3L1081.6 145.8L1081.7 145.3L1081.7 144.8L1081.8 144.3L1081.8 143.8L1081.8 143.3L1081.9 142.8L1081.9 142.3L1081.9 141.8L1082.0 141.3L1082.0 140.8L1082.0 140.3L1082.1 139.8L1082.1 139.3L1082.1 138.8L1082.2 138.3L1082.2 137.8L1082.2 137.3L1082.3 136.8L1082.3 136.3L1082.3 135.8L1082.4 135.3L1082.4 134.8L1082.4 134.3L1082.5 133.8L1082.5 133.3L1082.5 132.8L1082.6 132.3L1082.6 131.8L1082.7 131.3L1082.7 130.8L1082.7 130.3L1082.8 129.8L1082.8 129.3L1082.8 128.8L1082.9 128.3L1082.9 127.8L1082.9 127.3L1083.0 126.8L1083.0 126.3L1083.1 125.8L1083.1 125.3L1083.2 124.8L1083.2 124.3L1083.2 123.8L1083.3 123.3L1083.3 122.8L1083.4 122.3L1083.4 121.8L1083.5 121.3L1083.5 120.8L1083.6 120.3L1083.6 119.8L1083.7 119.3L1083.7 118.8L1083.8 118.4L1083.8 117.9L1083.9 117.4L1083.9 116.9L1084.0 116.4L1084.0 115.9L1084.1 115.4L1084.1 114.9L1084.2 114.4L1084.3 113.9L1084.3 113.4L1084.4 112.9L1084.4 112.4L1084.5 111.9L1084.6 111.4L1084.6 110.9L1084.7 110.4L1084.8 109.9L1084.8 109.4L1084.9 108.9L1085.0 108.4L1085.0 107.9L1085.1 107.4L1085.2 106.9L1085.2 106.4L1085.3 105.9L1085.4 105.5L1085.4 105.0L1085.5 104.5L1085.6 104.0L1085.7 103.5L1085.7 103.0L1085.8 102.5L1085.9 102.0L1086.0 101.5L1086.1 101.0L1086.1 100.5L1086.2 100.0L1086.3 99.5L1086.4 99.0L1086.5 98.5L1086.6 98.0L1086.6 97.6L1086.7 97.1L1086.8 96.6L1086.9 96.1L1087.0 95.6L1087.1 95.1L1087.2 94.6L1087.2 94.1L1087.3 93.6L1087.4 93.1L1087.5 92.6L1087.6 92.1L1087.7 91.6L1087.8 91.2L1087.9 90.7L1088.0 90.2L1088.1 89.7L1088.2 89.2L1088.3 88.7L1088.4 88.2L1088.5 87.7L1088.6 87.2L1088.7 86.7L1088.8 86.3L1088.9 85.8L1089.0 85.3L1089.2 84.8L1089.3 84.3L1089.4 83.8L1089.5 83.3L1089.6 82.9L1089.8 82.4L1089.9 81.9L1090.0 81.4L1090.2 80.9L1090.3 80.5L1090.5 80.0L1090.6 79.5L1090.8 79.0L1090.9 78.5L1091.1 78.1L1091.3 77.6L1091.5 77.1L1091.6 76.7L1091.8 76.2L1092.0 75.8L1092.2 75.3L1092.5 74.9L1092.7 74.4L1092.9 74.0L1093.2 73.5L1093.5 73.1L1093.8 72.7L1094.1 72.3L1094.4 72.0L1094.8 71.6L1095.2 71.3L1095.6 71.0L1096.0 70.8L1096.5 70.7L1097.0 70.6L1097.5 70.6L1098.0 70.7L1098.5 70.8L1098.9 71.0L1099.4 71.3L1099.8 71.5L1100.2 71.8L1100.6 72.1L1101.0 72.4L1101.4 72.8L1101.7 73.1L1102.1 73.4L1102.5 73.8L1102.8 74.2L1103.1 74.5L1103.5 74.9L1103.8 75.3L1104.1 75.7L1104.4 76.1L1104.7 76.5L1105.0 76.9L1105.3 77.3L1105.6 77.7L1105.9 78.1L1106.2 78.5L1106.5 78.9L1106.8 79.3L1107.1 79.7L1107.4 80.1L1107.6 80.5L1107.9 80.9L1108.2 81.4L1108.5 81.8L1108.7 82.2L1109.0 82.6L1109.3 83.1L1109.5 83.5L1109.8 83.9L1110.0 84.3L1110.3 84.8L1110.5 85.2L1110.8 85.6L1111.0 86.1L1111.2 86.5L1111.5 87.0L1111.7 87.4L1112.0 87.8L1112.2 88.3L1112.4 88.7L1112.6 89.2L1112.9 89.6L1113.1 90.1L1113.3 90.5L1113.5 91.0L1113.7 91.4L1113.9 91.9L1114.1 92.3L1114.3 92.8L1114.5 93.3L1114.7 93.7L1114.9 94.2L1115.1 94.6L1115.3 95.1L1115.5 95.6L1115.7 96.0L1115.9 96.5L1116.1 97.0L1116.3 97.4L1116.4 97.9L1116.6 98.4L1116.8 98.8L1117.0 99.3L1117.2 99.8L1117.3 100.2L1117.5 100.7L1117.7 101.2L1117.8 101.6L1118.0 102.1L1118.2 102.6L1118.3 103.1L1118.5 103.5L1118.7 104.0L1118.8 104.5L1119.0 104.9L1119.1 105.4L1119.3 105.9L1119.5 106.4L1119.6 106.8L1119.8 107.3L1119.9 107.8L1120.1 108.3L1120.3 108.7L1120.4 109.2L1120.6 109.7L1120.7 110.2L1120.9 110.6L1121.1 111.1L1121.2 111.6L1121.4 112.1L1121.5 112.5L1121.7 113.0L1121.9 113.5L1122.0 113.9L1122.2 114.4L1122.4 114.9L1122.5 115.4L1122.7 115.8L1122.9 116.3L1123.0 116.8L1123.2 117.2L1123.4 117.7L1123.5 118.2L1123.7 118.7L1123.9 119.1L1124.1 119.6L1124.2 120.1L1124.4 120.5L1124.6 121.0L1124.8 121.4L1125.0 121.9L1125.2 122.4L1125.4 122.8L1125.6 123.3L1125.8 123.8L1125.9 124.2L1126.1 124.7L1126.3 125.1L1126.5 125.6L1126.7 126.1L1126.9 126.5L1127.2 127.0L1127.4 127.4L1127.6 127.9L1127.8 128.3L1128.0 128.8L1128.2 129.2L1128.4 129.7L1128.6 130.1L1128.9 130.6L1129.1 131.0L1129.3 131.5L1129.5 131.9L1129.8 132.4L1130.0 132.8L1130.2 133.3L1130.5 133.7L1130.7 134.1L1130.9 134.6L1131.2 135.0L1131.4 135.5L1131.6 135.9L1131.9 136.3L1132.1 136.8L1132.4 137.2L1132.6 137.6L1132.9 138.1L1133.1 138.5L1133.4 138.9L1133.6 139.4L1133.9 139.8L1134.1 140.2L1134.4 140.7L1134.7 141.1L1134.9 141.5L1135.2 141.9L1135.5 142.4L1135.7 142.8L1136.0 143.2L1136.3 143.6L1136.6 144.0L1136.8 144.4L1137.1 144.9L1137.4 145.3L1137.7 145.7L1138.0 146.1L1138.3 146.5L1138.5 146.9L1138.8 147.3L1139.1 147.7L1139.4 148.1L1139.7 148.5L1140.0 148.9L1140.3 149.3L1140.6 149.7L1140.9 150.1L1141.2 150.5L1141.5 150.9L1141.9 151.3L1142.2 151.7L1142.5 152.1L1142.8 152.5L1143.1 152.9L1143.4 153.2L1143.8 153.6L1144.1 154.0L1144.4 154.4L1144.7 154.8L1145.1 155.1L1145.4 155.5L1145.8 155.9L1146.1 156.2L1146.4 156.6L1146.8 157.0L1147.1 157.3L1147.5 157.7L1147.8 158.0L1148.2 158.4L1148.5 158.8L1148.9 159.1L1149.2 159.5L1149.6 159.8L1149.9 160.2L1150.3 160.5L1150.7 160.8L1151.0 161.2L1151.4 161.5L1151.8 161.9L1152.1 162.2L1152.5 162.5L1152.9 162.9L1153.3 163.2L1153.6 163.5L1154.0 163.8L1154.4 164.2L1154.8 164.5L1155.2 164.8L1155.6 165.1L1156.0 165.4L1156.3 165.8L1156.7 166.1L1157.1 166.4L1157.5 166.7L1157.9 167.0L1158.3 167.3L1158.7 167.6L1159.1 167.9L1159.5 168.2L1159.9 168.5L1160.3 168.8L1160.7 169.1L1161.1 169.4L1161.5 169.6L1162.0 169.9L1162.4 170.2L1162.8 170.5L1163.2 170.8L1163.6 171.1L1164.0 171.3L1164.4 171.6L1164.9 171.9L1165.3 172.2L1165.7 172.4L1166.1 172.7L1166.5 173.0L1167.0 173.2L1167.4 173.5L1167.8 173.7L1168.3 174.0L1168.7 174.3L1169.1 174.5L1169.5 174.8L1170.0 175.0L1170.4 175.3L1170.8 175.5L1171.3 175.8L1171.7 176.0L1172.1 176.3L1172.6 176.5L1173.0 176.7L1173.5 177.0L1173.9 177.2L1174.3 177.4L1174.8 177.7L1175.2 177.9L1175.7 178.1L1176.1 178.4L1176.6 178.6L1177.0 178.8L1177.5 179.0L1177.9 179.3L1178.4 179.5L1178.8 179.7L1179.3 179.9L1179.7 180.1L1180.2 180.4L1180.6 180.6L1181.1 180.8L1181.5 181.0L1182.0 181.2L1182.4 181.4L1182.9 181.6L1183.3 181.8L1183.8 182.0L1184.3 182.2L1184.7 182.4L1185.2 182.6L1185.6 182.8L1186.1 183.0L1186.6 183.2L1187.0 183.4L1187.5 183.6L1187.9 183.8L1188.4 184.0L1188.9 184.2L1189.3 184.3L1189.8 184.5L1190.3 184.7L1190.7 184.9L1191.2 185.1L1191.7 185.3L1192.1 185.4L1192.6 185.6L1193.1 185.8L1193.5 186.0L1194.0 186.1L1194.5 186.3L1194.9 186.5L1195.4 186.6L1195.9 186.8L1196.4 187.0L1196.8 187.2L1197.3 187.3L1197.8 187.5L1198.2 187.6L1198.7 187.8L1199.2 188.0L1199.7 188.1L1200.1 188.3L1200.6 188.4L1201.1 188.6L1201.6 188.8L1202.0 188.9L1202.5 189.1L1203.0 189.2L1203.5 189.4L1203.9 189.5L1204.4 189.7L1204.9 189.8L1205.4 190.0L1205.9 190.1L1206.3 190.2L1206.8 190.4L1207.3 190.5L1207.8 190.7L1208.3 190.8L1208.7 190.9L1209.2 191.1L1209.7 191.2L1210.2 191.3L1210.7 191.5L1211.1 191.6L1211.6 191.7L1212.1 191.8L1212.6 192.0L1213.1 192.1L1213.6 192.2L1214.1 192.3L1214.5 192.5L1215.0 192.6L1215.5 192.7L1216.0 192.8L1216.5 192.9L1217.0 193.0L1217.5 193.1L1218.0 193.2L1218.4 193.3L1218.9 193.4L1219.4 193.5L1219.9 193.6L1220.4 193.7L1220.9 193.8L1221.4 193.9L1221.9 194.0L1222.4 194.1L1222.9 194.2L1223.4 194.3L1223.8 194.4L1224.3 194.4L1224.8 194.5L1225.3 194.6L1225.8 194.7L1226.3 194.7L1226.8 194.8L1227.3 194.9L1227.8 195.0L1228.3 195.0L1228.8 195.1L1229.3 195.2L1229.8 195.2L1230.3 195.3L1230.8 195.3L1231.3 195.4L1231.8 195.4L1232.3 195.5L1232.8 195.5L1233.3 195.6L1233.8 195.6L1234.3 195.7L1234.8 195.7L1235.3 195.7L1235.8 195.8L1236.3 195.8L1236.8 195.8L1237.3 195.9L1237.8 195.9L1238.3 195.9L1238.8 196.0L1239.3 196.0L1239.8 196.0L1240.3 196.1L1240.8 196.1L1241.3 196.1L1241.8 196.1L1242.3 196.1L1242.8 196.2L1243.3 196.2L1243.7 196.2L1244.2 196.2L1244.7 196.2L1245.2 196.2L1245.7 196.3L1246.2 196.3L1246.7 196.3L1247.2 196.3L1247.7 196.3L1248.2 196.3L1248.7 196.3L1249.2 196.3L1249.7 196.4L1250.2 196.4L1250.7 196.4L1251.2 196.4L1251.7 196.4L1252.2 196.4L1252.7 196.4L1253.2 196.4L1253.7 196.4L1254.2 196.4L1254.7 196.4L1255.2 196.5L1255.7 196.5L1256.2 196.5L1256.7 196.5L1257.2 196.5L1257.7 196.5L1258.2 196.5L1258.7 196.5L1259.2 196.5L1259.7 196.5L1260.2 196.6L1260.7 196.6L1261.2 196.6L1261.7 196.6L1262.2 196.6L1262.7 196.6L1263.2 196.6L1263.7 196.7L1264.2 196.7L1264.7 196.7L1265.2 196.7L1265.7 196.7L1266.2 196.8L1266.7 196.8L1267.2 196.8L1267.7 196.8L1268.2 196.9L1268.7 196.9L1269.2 196.9L1269.7 196.9L1270.2 197.0L1270.7 197.0L1271.2 197.0L1271.7 197.1L1272.2 197.1L1272.7 197.1L1273.2 197.2L1273.7 197.2L1274.2 197.3L1274.7 197.3L1275.2 197.4L1275.7 197.4L1276.2 197.5L1276.7 197.5L1277.2 197.6L1277.7 197.6L1278.2 197.7L1278.7 197.7L1279.2 197.8" fill="none" stroke="#de0f14" stroke-width="3" stroke-linejoin="round"/><path d="M86.0 771.0L86.5 772.8L86.9 767.8L87.4 762.0L87.8 770.7L88.3 766.4L88.7 768.4L89.2 763.5L89.6 764.8L90.1 767.1L90.5 763.7L91.0 761.0L91.4 760.1L91.9 764.6L92.3 756.7L92.8 763.5L93.2 761.3L93.7 759.5L94.1 760.8L94.6 757.6L95.0 764.4L95.5 772.5L95.9 765.2L96.4 765.5L96.8 767.5L97.3 766.8L97.7 771.6L98.2 767.5L98.6 766.4L99.1 772.4L99.5 772.5L100.0 772.0L100.4 764.6L100.9 773.7L101.3 765.6L101.8 769.7L102.2 762.8L102.7 763.4L103.1 761.3L103.6 764.7L104.0 755.4L104.5 754.6L104.9 753.1L105.4 747.2L105.8 753.0L106.3 750.7L106.7 743.6L107.2 744.8L107.6 756.5L108.1 753.7L108.5 754.3L109.0 750.1L109.4 744.4L109.9 750.5L110.3 751.2L110.8 762.6L111.2 754.0L111.7 746.4L112.1 760.9L112.6 744.2L113.0 755.8L113.5 762.1L113.9 760.1L114.4 771.0L114.8 771.1L115.3 780.5L115.7 764.5L116.2 772.5L116.6 768.0L117.1 768.0L117.5 770.6L118.0 771.2L118.4 765.7L118.9 772.6L119.3 767.8L119.8 764.5L120.2 762.9L120.7 775.6L121.1 770.9L121.6 772.9L122.0 777.3L122.5 786.5L122.9 782.4L123.4 779.7L123.8 772.3L124.3 785.4L124.7 776.1L125.2 779.9L125.6 781.4L126.1 786.2L126.5 771.5L127.0 777.1L127.4 778.8L127.9 769.2L128.3 767.3L128.8 770.9L129.2 777.8L129.7 763.4L130.1 767.8L130.6 768.4L131.0 759.5L131.5 747.6L131.9 750.1L132.4 754.3L132.8 759.7L133.3 752.3L133.7 757.2L134.2 749.5L134.6 750.0L135.1 745.4L135.5 748.6L136.0 754.0L136.4 747.1L136.9 764.6L137.3 749.1L137.8 760.0L138.2 752.4L138.7 744.9L139.1 766.4L139.6 754.2L140.0 755.9L140.5 755.4L140.9 756.0L141.4 760.1L141.8 755.6L142.3 758.0L142.7 756.9L143.2 757.9L143.6 767.0L144.1 769.9L144.5 761.5L145.0 759.1L145.4 764.2L145.9 763.9L146.3 755.2L146.8 755.6L147.2 760.2L147.7 762.3L148.1 759.4L148.6 756.0L149.0 749.4L149.5 758.9L149.9 763.3L150.4 751.7L150.8 755.0L151.3 760.2L151.7 767.5L152.2 753.3L152.6 766.8L153.1 755.7L153.5 759.0L154.0 762.6L154.4 749.0L154.9 756.5L155.3 762.9L155.8 749.2L156.2 754.3L156.7 753.9L157.1 755.8L157.6 755.7L158.0 757.6L158.5 754.6L158.9 758.2L159.4 758.9L159.8 764.5L160.3 762.6L160.7 761.2L161.2 769.0L161.6 764.4L162.1 762.1L162.5 772.8L163.0 773.2L163.4 777.6L163.9 782.8L164.3 774.2L164.8 777.6L165.2 764.4L165.7 776.1L166.1 761.9L166.6 763.4L167.0 769.5L167.5 760.6L167.9 758.4L168.4 759.7L168.8 756.0L169.3 755.1L169.7 754.7L170.2 749.6L170.6 749.1L171.1 753.5L171.5 753.1L172.0 749.2L172.4 757.3L172.9 750.1L173.3 747.1L173.8 753.0L174.2 744.9L174.7 750.2L175.1 745.9L175.6 747.8L176.0 760.9L176.5 753.2L176.9 751.7L177.4 755.1L177.8 755.0L178.3 756.0L178.7 749.2L179.2 762.4L179.6 745.8L180.1 757.5L180.5 765.4L181.0 748.8L181.4 758.1L181.9 762.6L182.3 755.7L182.8 757.4L183.2 754.3L183.7 761.9L184.1 765.0L184.6 761.8L185.0 767.5L185.5 769.6L185.9 769.3L186.4 775.1L186.8 771.7L187.3 772.5L187.7 768.9L188.2 770.0L188.6 764.3L189.1 774.3L189.5 776.9L190.0 779.6L190.4 777.0L190.9 773.6L191.3 768.2L191.8 780.5L192.2 774.6L192.7 767.8L193.1 765.9L193.6 767.5L194.0 764.2L194.5 763.9L194.9 757.9L195.4 749.8L195.8 753.3L196.3 761.4L196.7 750.8L197.2 748.3L197.6 749.4L198.1 744.2L198.5 751.7L199.0 748.6L199.4 750.9L199.9 746.9L200.3 749.1L200.8 744.1L201.2 737.2L201.7 745.8L202.1 749.1L202.6 746.4L203.0 747.5L203.5 747.7L203.9 746.0L204.4 744.9L204.8 745.1L205.3 748.6L205.7 746.0L206.2 749.8L206.6 751.8L207.1 750.2L207.5 755.5L208.0 760.5L208.4 756.6L208.9 764.6L209.3 756.1L209.8 765.6L210.2 758.4L210.7 760.5L211.1 759.8L211.6 754.4L212.0 753.6L212.5 762.0L212.9 761.9L213.4 760.8L213.8 765.4L214.3 757.8L214.7 764.1L215.2 760.5L215.6 752.8L216.1 762.0L216.5 763.9L217.0 765.2L217.4 764.1L217.9 755.9L218.3 756.7L218.8 762.0L219.2 759.4L219.7 763.9L220.1 753.6L220.6 766.1L221.0 766.6L221.5 757.4L221.9 763.7L222.4 768.2L222.8 757.6L223.3 754.4L223.7 745.0L224.2 751.9L224.6 757.6L225.1 749.8L225.5 756.2L226.0 759.5L226.4 759.8L226.9 750.7L227.3 750.6L227.8 749.0L228.2 753.9L228.7 754.5L229.1 757.4L229.6 751.1L230.0 758.1L230.5 751.3L230.9 743.7L231.4 747.5L231.8 748.9L232.3 751.8L232.7 751.7L233.2 742.5L233.6 745.9L234.1 747.0L234.5 746.1L235.0 748.0L235.4 748.4L235.9 736.3L236.3 748.6L236.8 748.9L237.2 748.7L237.7 746.4L238.1 751.2L238.6 749.1L239.0 750.0L239.5 752.6L239.9 756.3L240.4 752.7L240.8 748.7L241.3 754.9L241.7 750.9L242.2 764.0L242.6 757.1L243.1 758.3L243.5 755.7L244.0 747.6L244.4 767.6L244.9 756.6L245.3 756.9L245.8 761.3L246.2 761.0L246.7 763.7L247.1 765.1L247.6 766.8L248.0 767.0L248.5 745.9L248.9 752.3L249.4 746.1L249.8 734.4L250.3 745.3L250.7 736.7L251.2 730.9L251.6 734.3L252.1 735.2L252.5 735.4L253.0 732.8L253.4 729.4L253.9 730.1L254.3 720.0L254.8 733.9L255.2 726.9L255.7 733.1L256.1 734.5L256.6 734.1L257.0 731.6L257.5 733.6L257.9 739.7L258.4 736.5L258.8 745.3L259.3 750.5L259.7 750.6L260.2 752.0L260.6 754.0L261.1 744.6L261.5 750.3L262.0 759.0L262.4 750.6L262.9 744.4L263.3 744.9L263.8 749.9L264.2 751.1L264.7 755.9L265.1 738.7L265.6 747.3L266.0 744.8L266.5 742.7L266.9 736.1L267.4 744.5L267.8 744.1L268.3 736.5L268.7 737.5L269.2 732.4L269.6 734.1L270.1 732.6L270.5 732.8L271.0 737.6L271.4 744.8L271.9 727.0L272.3 732.8L272.8 737.7L273.2 739.0L273.7 727.6L274.1 744.9L274.6 740.5L275.0 737.7L275.5 745.0L275.9 754.3L276.4 752.1L276.8 762.4L277.3 748.4L277.7 749.7L278.2 759.3L278.6 749.1L279.1 763.8L279.5 757.6L280.0 754.4L280.4 759.9L280.9 760.1L281.3 762.7L281.8 760.0L282.2 757.8L282.7 752.7L283.1 761.8L283.6 753.8L284.0 752.8L284.5 749.1L284.9 755.2L285.4 750.2L285.8 757.2L286.3 752.8L286.7 750.1L287.2 747.7L287.6 749.2L288.1 747.9L288.5 758.7L289.0 742.4L289.4 747.3L289.9 740.3L290.3 727.0L290.8 729.6L291.2 733.1L291.7 728.5L292.1 718.9L292.6 723.9L293.0 733.1L293.5 727.5L293.9 728.9L294.4 730.8L294.8 726.2L295.3 734.0L295.7 735.6L296.2 731.6L296.6 732.1L297.1 733.8L297.5 730.9L298.0 743.9L298.4 747.9L298.9 743.4L299.3 747.9L299.8 748.1L300.2 751.5L300.7 749.8L301.1 763.5L301.6 760.9L302.0 756.8L302.5 757.8L302.9 764.0L303.4 767.5L303.8 759.9L304.3 756.5L304.7 763.2L305.2 768.8L305.6 765.9L306.1 765.2L306.5 767.1L307.0 761.3L307.4 757.6L307.9 764.6L308.3 765.2L308.8 760.2L309.2 758.2L309.7 754.2L310.1 752.6L310.6 755.4L311.0 758.4L311.5 755.7L311.9 755.4L312.4 752.9L312.8 750.0L313.3 747.9L313.7 759.3L314.2 748.9L314.6 753.3L315.1 751.7L315.5 755.0L316.0 748.9L316.4 753.9L316.9 742.7L317.3 752.5L317.8 756.3L318.2 753.6L318.7 756.8L319.1 762.4L319.6 766.2L320.0 758.6L320.5 763.1L320.9 763.1L321.4 764.3L321.8 766.3L322.3 766.1L322.7 757.2L323.2 767.3L323.6 762.1L324.1 752.7L324.5 758.7L325.0 765.0L325.4 758.3L325.9 757.0L326.3 755.2L326.8 751.7L327.2 754.1L327.7 750.6L328.1 751.3L328.6 749.4L329.0 745.7L329.5 742.1L329.9 740.6L330.4 733.8L330.8 733.6L331.3 720.4L331.7 724.3L332.2 724.6L332.6 719.4L333.1 719.8L333.5 731.0L334.0 734.5L334.4 736.2L334.9 734.9L335.3 745.0L335.8 737.3L336.2 733.7L336.7 742.3L337.1 748.4L337.6 739.2L338.0 739.3L338.5 748.2L338.9 738.8L339.4 742.3L339.8 744.7L340.3 741.7L340.7 750.6L341.2 751.5L341.6 751.0L342.1 748.8L342.5 750.3L343.0 743.6L343.4 744.5L343.9 741.5L344.3 749.8L344.8 744.2L345.2 741.1L345.7 745.4L346.1 739.0L346.6 751.1L347.0 748.9L347.5 744.0L347.9 741.2L348.4 741.9L348.8 744.3L349.3 753.4L349.7 740.0L350.2 747.0L350.6 745.2L351.1 759.0L351.5 751.3L352.0 754.9L352.4 757.0L352.9 751.2L353.3 756.5L353.8 763.0L354.2 770.9L354.7 765.2L355.1 772.6L355.6 772.1L356.0 763.5L356.5 777.7L356.9 770.2L357.4 771.3L357.8 773.8L358.3 767.5L358.7 766.2L359.2 764.3L359.6 765.7L360.1 754.5L360.5 753.0L361.0 758.2L361.4 751.8L361.9 761.4L362.3 752.3L362.8 754.9L363.2 745.8L363.7 750.8L364.1 749.3L364.6 747.2L365.0 747.2L365.5 746.9L365.9 745.3L366.4 741.2L366.8 751.2L367.3 743.1L367.7 740.8L368.2 733.2L368.6 736.3L369.1 726.3L369.5 727.5L370.0 726.4L370.4 723.4L370.9 726.3L371.3 725.6L371.8 729.4L372.2 727.3L372.7 727.8L373.1 732.4L373.6 739.2L374.0 739.7L374.5 735.7L374.9 740.0L375.4 743.1L375.8 751.7L376.3 745.5L376.7 740.3L377.2 744.4L377.6 742.2L378.1 740.5L378.5 747.8L379.0 749.7L379.4 743.9L379.9 748.3L380.3 749.9L380.8 748.8L381.2 744.9L381.7 742.3L382.1 741.4L382.6 743.3L383.0 747.9L383.5 733.6L383.9 734.0L384.4 741.3L384.8 739.8L385.3 752.5L385.7 741.7L386.2 742.7L386.6 752.6L387.1 756.1L387.5 748.6L388.0 748.5L388.4 751.9L388.9 757.6L389.3 758.8L389.8 759.8L390.2 754.5L390.7 762.5L391.1 762.5L391.6 769.6L392.0 765.4L392.5 770.3L392.9 754.9L393.4 767.3L393.8 767.1L394.3 765.0L394.7 764.8L395.2 763.3L395.6 756.9L396.1 759.6L396.5 763.8L397.0 760.6L397.4 761.0L397.9 764.6L398.3 763.0L398.8 765.4L399.2 760.0L399.7 756.6L400.1 744.6L400.6 748.4L401.0 752.9L401.5 744.6L401.9 748.7L402.4 740.4L402.8 750.2L403.3 751.5L403.7 743.4L404.2 743.2L404.6 732.3L405.1 729.2L405.5 744.0L406.0 739.6L406.4 732.1L406.9 731.1L407.3 725.5L407.8 733.4L408.2 720.5L408.7 719.0L409.1 711.7L409.6 720.2L410.0 712.8L410.5 705.8L410.9 711.2L411.4 716.5L411.8 709.9L412.3 711.9L412.7 723.7L413.2 719.3L413.6 714.6L414.1 711.0L414.5 703.7L415.0 716.7L415.4 710.7L415.9 721.2L416.3 718.3L416.8 712.6L417.2 724.0L417.7 725.5L418.1 720.8L418.6 728.8L419.0 725.8L419.5 730.7L419.9 724.8L420.4 731.6L420.8 728.5L421.3 726.8L421.7 735.6L422.2 749.7L422.6 729.4L423.1 740.0L423.5 740.2L424.0 743.5L424.4 750.9L424.9 749.8L425.3 750.0L425.8 753.6L426.2 752.9L426.7 764.0L427.1 756.3L427.6 763.7L428.0 761.2L428.5 769.4L428.9 773.1L429.4 777.0L429.8 779.9L430.3 780.4L430.7 778.6L431.2 797.8L431.6 792.3L432.1 783.1L432.5 789.9L433.0 780.2L433.4 780.2L433.9 780.9L434.3 774.5L434.8 775.3L435.2 785.4L435.7 775.0L436.1 777.4L436.6 769.4L437.0 776.4L437.5 769.4L437.9 777.6L438.4 767.8L438.8 770.9L439.3 781.1L439.7 771.7L440.2 771.4L440.6 765.3L441.1 768.6L441.5 765.2L442.0 758.2L442.4 756.9L442.9 753.1L443.3 742.9L443.8 748.8L444.2 740.7L444.7 743.9L445.1 736.3L445.6 737.7L446.0 746.2L446.5 751.8L446.9 738.7L447.4 754.6L447.8 756.0L448.3 750.3L448.7 751.0L449.2 751.7L449.6 752.1L450.1 751.3L450.5 737.3L451.0 736.7L451.4 737.6L451.9 734.8L452.3 735.0L452.8 736.9L453.2 736.8L453.7 728.6L454.1 728.2L454.6 739.4L455.0 741.4L455.5 741.9L455.9 748.6L456.4 730.9L456.8 740.0L457.3 746.0L457.7 732.6L458.2 737.8L458.6 744.1L459.1 738.8L459.5 742.9L460.0 743.2L460.4 737.3L460.9 743.1L461.3 732.9L461.8 747.0L462.2 738.3L462.7 754.3L463.1 746.9L463.6 755.2L464.0 758.3L464.5 760.4L464.9 760.1L465.4 763.3L465.8 764.9L466.3 765.4L466.7 761.2L467.2 767.3L467.6 763.9L468.1 765.9L468.5 772.5L469.0 769.9L469.4 767.5L469.9 765.1L470.3 762.6L470.8 762.3L471.2 756.1L471.7 768.6L472.1 754.5L472.6 753.3L473.0 748.4L473.5 756.4L473.9 752.4L474.4 752.7L474.8 748.1L475.3 756.3L475.7 740.0L476.2 745.6L476.6 744.3L477.1 747.3L477.5 750.9L478.0 742.9L478.4 746.9L478.9 744.6L479.3 744.2L479.8 744.2L480.2 739.2L480.7 743.0L481.1 755.3L481.6 747.0L482.0 743.4L482.5 740.1L482.9 744.7L483.4 737.3L483.8 748.5L484.3 743.2L484.7 746.8L485.2 745.0L485.6 747.1L486.1 753.7L486.5 763.2L487.0 751.2L487.4 756.2L487.9 759.2L488.3 757.3L488.8 756.2L489.2 761.9L489.7 760.0L490.1 763.0L490.6 770.5L491.0 773.5L491.5 767.6L491.9 761.9L492.4 761.1L492.8 763.0L493.3 764.6L493.7 764.6L494.2 762.5L494.6 760.0L495.1 757.7L495.5 753.9L496.0 753.8L496.4 757.8L496.9 749.3L497.3 747.8L497.8 750.2L498.2 751.8L498.7 748.1L499.1 754.2L499.6 752.6L500.0 763.1L500.5 756.1L500.9 764.6L501.4 765.6L501.8 773.0L502.3 769.0L502.7 771.2L503.2 769.6L503.6 774.7L504.1 769.1L504.5 771.5L505.0 771.6L505.4 777.0L505.9 777.0L506.3 773.2L506.8 767.1L507.2 780.5L507.7 766.3L508.1 762.9L508.6 760.7L509.0 774.6L509.5 768.8L509.9 766.3L510.4 769.5L510.8 767.2L511.3 776.5L511.7 772.0L512.2 763.1L512.6 762.5L513.1 764.4L513.5 753.6L514.0 758.1L514.4 754.9L514.9 751.7L515.3 751.8L515.8 756.2L516.2 745.4L516.7 752.1L517.1 745.1L517.6 750.3L518.0 751.4L518.5 753.6L518.9 749.8L519.4 753.5L519.8 751.3L520.3 748.4L520.7 748.4L521.2 746.9L521.6 748.7L522.1 744.0L522.5 758.6L523.0 748.3L523.4 753.6L523.9 750.6L524.3 757.5L524.8 763.1L525.2 751.6L525.7 766.5L526.1 763.2L526.6 767.6L527.0 771.5L527.5 776.1L527.9 767.1L528.4 774.1L528.8 784.6L529.3 777.3L529.7 779.0L530.2 789.6L530.6 767.4L531.1 782.1L531.5 770.8L532.0 771.2L532.4 780.2L532.9 776.1L533.3 772.1L533.8 772.3L534.2 766.7L534.7 764.7L535.1 761.0L535.6 766.3L536.0 758.5L536.5 763.6L536.9 761.5L537.4 757.4L537.8 757.8L538.3 754.6L538.7 761.7L539.2 765.2L539.6 757.7L540.1 755.0L540.5 746.7L541.0 764.1L541.4 763.5L541.9 750.3L542.3 752.4L542.8 761.2L543.2 746.6L543.7 748.8L544.1 758.7L544.6 759.1L545.0 750.1L545.5 750.4L545.9 753.3L546.4 757.2L546.8 752.0L547.3 759.9L547.7 755.0L548.2 743.6L548.6 750.6L549.1 752.0L549.5 757.7L550.0 754.0L550.4 749.4L550.9 750.7L551.3 755.4L551.8 756.6L552.2 765.5L552.7 757.8L553.1 756.5L553.6 768.5L554.0 767.4L554.5 770.3L554.9 769.7L555.4 771.3L555.8 761.0L556.3 762.7L556.7 764.2L557.2 768.9L557.6 763.9L558.1 766.1L558.5 764.0L559.0 764.3L559.4 760.6L559.9 761.7L560.3 755.7L560.8 752.5L561.2 756.9L561.7 759.2L562.1 755.6L562.6 755.4L563.0 750.6L563.5 758.0L563.9 753.5L564.4 752.4L564.8 754.0L565.3 753.0L565.7 747.8L566.2 753.9L566.6 755.2L567.1 757.1L567.5 757.0L568.0 758.4L568.4 754.6L568.9 754.3L569.3 747.9L569.8 752.1L570.2 746.6L570.7 751.3L571.1 751.8L571.6 751.7L572.0 739.0L572.5 756.1L572.9 748.2L573.4 747.6L573.8 746.2L574.3 747.6L574.7 753.9L575.2 747.2L575.6 744.3L576.1 754.5L576.5 747.1L577.0 749.3L577.4 755.7L577.9 756.0L578.3 759.7L578.8 757.4L579.2 762.7L579.7 765.8L580.1 768.0L580.6 759.6L581.0 762.3L581.5 768.0L581.9 753.5L582.4 752.5L582.8 758.2L583.3 758.9L583.7 753.0L584.2 760.2L584.6 764.3L585.1 759.9L585.5 760.1L586.0 758.3L586.4 758.1L586.9 765.1L587.3 758.0L587.8 754.2L588.2 763.5L588.7 770.9L589.1 756.1L589.6 760.3L590.0 761.1L590.5 765.0L590.9 764.6L591.4 761.9L591.8 766.7L592.3 771.9L592.7 749.7L593.2 757.9L593.6 766.6L594.1 758.5L594.5 764.4L595.0 758.4L595.4 760.6L595.9 772.1L596.3 760.5L596.8 760.1L597.2 761.1L597.7 761.3L598.1 758.7L598.6 750.2L599.0 765.7L599.5 754.6L599.9 761.2L600.4 755.8L600.8 747.6L601.3 761.2L601.7 755.6" fill="none" stroke="#000" stroke-width="0.9" stroke-linejoin="round"/><path d="M777.7 752.5L778.1 752.7L778.5 752.3L778.9 755.2L779.3 755.0L779.7 754.3L780.1 755.3L780.5 754.8L780.9 753.9L781.3 755.7L781.7 753.9L782.1 754.2L782.5 754.6L782.9 754.0L783.3 754.2L783.7 754.3L784.1 756.0L784.5 754.7L784.9 753.8L785.3 754.8L785.7 756.2L786.1 753.3L786.5 753.8L786.9 754.4L787.3 753.2L787.7 752.3L788.1 752.5L788.5 753.7L788.9 750.9L789.3 751.3L789.7 751.0L790.1 750.3L790.5 749.7L790.9 749.9L791.3 749.2L791.7 751.7L792.1 750.7L792.5 749.5L792.9 749.2L793.3 750.5L793.7 749.8L794.1 749.3L794.5 749.1L794.9 750.1L795.3 749.8L795.7 751.2L796.1 752.3L796.5 749.7L796.9 749.8L797.3 750.9L797.7 750.5L798.1 750.7L798.5 749.0L798.9 749.8L799.3 749.7L799.7 749.5L800.1 750.2L800.5 749.1L800.9 750.6L801.3 748.5L801.7 750.1L802.1 750.2L802.5 750.5L802.9 750.8L803.3 750.5L803.7 749.4L804.1 749.7L804.5 750.0L804.9 750.9L805.3 750.0L805.7 750.3L806.1 750.5L806.5 751.0L806.9 751.4L807.3 750.8L807.7 751.6L808.1 750.3L808.5 752.0L808.9 750.3L809.3 751.9L809.7 750.8L810.1 751.3L810.5 751.5L810.9 752.4L811.3 752.8L811.7 750.6L812.1 752.3L812.5 751.8L812.9 753.7L813.3 752.1L813.7 751.7L814.1 750.9L814.5 752.1L814.9 750.9L815.3 750.6L815.7 751.5L816.1 750.5L816.5 751.3L816.9 752.0L817.3 751.0L817.7 751.6L818.1 752.1L818.5 752.0L818.9 750.2L819.3 750.0L819.7 749.3L820.1 749.8L820.5 751.0L820.9 747.6L821.3 749.4L821.7 750.7L822.1 750.5L822.5 747.4L822.9 749.8L823.3 750.9L823.7 749.5L824.1 749.5L824.5 750.2L824.9 751.8L825.3 748.8L825.7 750.9L826.1 748.8L826.5 750.2L826.9 749.8L827.3 747.6L827.7 750.2L828.1 749.1L828.5 749.8L828.9 751.0L829.3 749.2L829.7 749.7L830.1 749.5L830.5 751.5L830.9 751.0L831.3 751.3L831.7 750.9L832.1 750.9L832.5 750.4L832.9 749.9L833.3 753.1L833.7 752.7L834.1 751.0L834.5 752.2L834.9 749.8L835.3 751.0L835.7 751.1L836.1 752.7L836.5 751.1L836.9 752.3L837.3 752.9L837.7 753.4L838.1 754.2L838.5 754.6L838.9 753.1L839.3 755.7L839.7 756.2L840.1 756.0L840.5 754.6L840.9 755.6L841.3 754.9L841.7 756.5L842.1 756.0L842.5 756.3L842.9 757.1L843.3 756.3L843.7 758.8L844.1 757.5L844.5 756.1L844.9 756.0L845.3 756.9L845.7 757.2L846.1 756.7L846.5 757.1L846.9 756.2L847.3 757.6L847.7 756.1L848.1 756.1L848.5 756.7L848.9 756.3L849.3 756.4L849.7 758.2L850.1 756.6L850.5 755.8L850.9 756.6L851.3 755.0L851.7 754.3L852.1 754.1L852.5 753.6L852.9 755.1L853.3 755.3L853.7 754.3L854.1 755.5L854.5 754.5L854.9 754.1L855.3 754.2L855.7 754.0L856.1 754.3L856.5 752.7L856.9 754.8L857.3 755.8L857.7 753.6L858.1 753.2L858.5 753.2L858.9 755.5L859.3 752.4L859.7 754.2L860.1 753.6L860.5 750.9L860.9 752.7L861.3 754.9L861.7 751.4L862.1 752.6L862.5 750.8L862.9 751.8L863.3 751.1L863.7 750.8L864.1 750.7L864.5 748.7L864.9 750.0L865.3 749.4L865.7 749.7L866.1 749.0L866.5 748.9L866.9 749.1L867.3 746.8L867.7 748.8L868.1 747.4L868.5 747.4L868.9 748.5L869.3 748.2L869.7 748.7L870.1 748.5L870.5 750.7L870.9 749.8L871.3 750.3L871.7 750.4L872.1 751.6L872.5 749.8L872.9 749.6L873.3 750.9L873.7 750.6L874.1 751.3L874.5 751.1L874.9 750.9L875.3 750.1L875.7 752.1L876.1 751.4L876.5 752.7L876.9 752.0L877.3 752.3L877.7 752.3L878.1 752.0L878.5 751.4L878.9 752.5L879.3 751.8L879.7 751.8L880.1 752.7L880.5 752.5L880.9 751.8L881.3 752.3L881.7 751.6L882.1 751.9L882.5 752.4L882.9 753.1L883.3 752.2L883.7 752.1L884.1 753.2L884.5 753.2L884.9 752.1L885.3 754.7L885.7 753.3L886.1 752.6L886.5 752.2L886.9 753.3L887.3 754.4L887.7 754.7L888.1 754.0L888.5 751.5L888.9 753.7L889.3 752.1L889.7 755.2L890.1 754.7L890.5 754.2L890.9 754.2L891.3 754.7L891.7 755.7L892.1 755.5L892.5 755.7L892.9 755.4L893.3 755.3L893.7 754.6L894.1 754.9L894.5 755.8L894.9 755.2L895.3 754.8L895.7 755.7L896.1 755.4L896.5 755.4L896.9 756.0L897.3 755.0L897.7 755.5L898.1 754.0L898.5 753.7L898.9 754.1L899.3 754.3L899.7 754.2L900.1 755.8L900.5 755.2L900.9 752.2L901.3 754.3L901.7 755.2L902.1 755.0L902.5 753.7L902.9 754.9L903.3 752.0L903.7 754.6L904.1 753.2L904.5 754.1L904.9 754.4L905.3 753.8L905.7 754.2L906.1 750.8L906.5 752.1L906.9 751.8L907.3 754.3L907.7 751.5L908.1 751.6L908.5 751.6L908.9 752.4L909.3 753.4L909.7 750.6L910.1 754.5L910.5 750.4L910.9 750.1L911.3 752.0L911.7 750.9L912.1 751.0L912.5 751.8L912.9 750.4L913.3 751.3L913.7 751.5L914.1 749.4L914.5 754.8L914.9 750.4L915.3 751.3L915.7 751.9L916.1 752.2L916.5 751.9L916.9 753.8L917.3 755.1L917.7 752.4L918.1 750.1L918.5 751.7L918.9 752.9L919.3 751.1L919.7 749.1L920.1 748.7L920.5 749.9L920.9 748.3L921.3 750.6L921.7 750.8L922.1 748.8L922.5 748.6L922.9 748.3L923.3 749.4L923.7 747.6L924.1 746.1L924.5 746.9L924.9 747.0L925.3 745.0L925.7 745.6L926.1 746.7L926.5 746.4L926.9 744.2L927.3 747.7L927.7 746.5L928.1 747.7L928.5 747.0L928.9 749.7L929.3 745.0L929.7 747.5L930.1 747.4L930.5 747.5L930.9 742.5L931.3 743.6L931.7 743.2L932.1 744.1L932.5 741.2L932.9 746.6L933.3 745.0L933.7 745.5L934.1 744.7L934.5 745.4L934.9 746.9L935.3 745.7L935.7 747.8L936.1 745.1L936.5 745.9L936.9 744.8L937.3 748.8L937.7 743.6L938.1 742.8L938.5 746.7L938.9 747.1L939.3 751.5L939.7 745.6L940.1 746.8L940.5 745.4L940.9 747.9L941.3 749.0L941.7 747.0L942.1 745.6L942.5 748.8L942.9 744.8L943.3 749.2L943.7 752.0L944.1 746.8L944.5 752.8L944.9 752.8L945.3 748.8L945.7 751.1L946.1 742.8L946.5 744.2L946.9 747.6L947.3 750.4L947.7 749.5L948.1 746.7L948.5 749.5L948.9 747.4L949.3 752.4L949.7 752.5L950.1 742.3L950.5 748.3L950.9 757.6L951.3 752.1L951.7 754.3L952.1 740.3L952.5 751.1L952.9 743.8L953.3 745.9L953.7 748.2L954.1 749.5L954.5 749.5L954.9 746.8L955.3 747.8L955.7 748.1L956.1 753.0L956.5 756.4L956.9 747.9L957.3 749.5L957.7 746.5L958.1 746.4L958.5 747.5L958.9 750.5L959.3 746.2L959.7 750.8L960.1 750.7L960.5 748.4L960.9 742.8L961.3 739.1L961.7 741.4L962.1 744.6L962.5 743.9L962.9 740.7L963.3 747.9L963.7 758.7L964.1 749.6L964.5 750.1L964.9 755.4L965.3 752.0L965.7 749.8L966.1 746.6L966.5 733.8L966.9 744.1L967.3 756.4L967.7 749.3L968.1 750.1L968.5 748.3L968.9 748.1L969.3 757.2L969.7 751.6L970.1 749.6L970.5 751.7L970.9 746.9L971.3 746.2L971.7 754.7L972.1 759.1L972.5 749.6L972.9 755.0L973.3 755.7L973.7 743.5L974.1 755.9L974.5 770.5L974.9 751.9L975.3 756.6L975.7 776.9L976.1 766.0L976.5 756.9L976.9 769.3L977.3 754.5L977.7 763.8L978.1 762.9L978.5 765.5L978.9 768.1L979.3 769.0L979.7 776.3L980.1 772.2L980.5 773.3L980.9 773.3L981.3 774.6L981.7 773.1L982.1 785.0L982.5 775.4L982.9 775.9L983.3 782.5L983.7 761.8L984.1 783.3L984.5 787.7L984.9 795.0L985.3 787.0L985.7 787.8L986.1 799.9L986.5 792.6L986.9 784.5L987.3 778.1L987.7 788.3L988.1 799.9L988.5 782.7L988.9 787.7L989.3 790.5L989.7 775.9L990.1 790.9L990.5 779.9L990.9 784.2L991.3 791.5L991.7 786.5L992.1 783.7L992.5 778.0L992.9 777.5L993.3 774.0L993.7 778.7L994.1 765.9L994.5 769.8L994.9 772.8L995.3 778.7L995.7 773.8L996.1 772.8L996.5 768.4L996.9 762.9L997.3 772.7L997.7 783.8L998.1 781.3L998.5 771.9L998.9 775.5L999.3 775.1L999.7 764.6L1000.1 773.4L1000.5 771.4L1000.9 784.3L1001.3 774.7L1001.7 773.1L1002.1 770.9L1002.5 772.7L1002.9 767.0L1003.3 778.2L1003.7 769.9L1004.1 779.0L1004.5 779.3L1004.9 786.3L1005.3 777.6L1005.7 775.4L1006.1 795.0L1006.5 788.2L1006.9 789.1L1007.3 779.0L1007.7 782.6L1008.1 769.1L1008.5 770.6L1008.9 772.4L1009.3 768.0L1009.7 776.0L1010.1 769.5L1010.5 761.6L1010.9 780.6L1011.3 768.3L1011.7 750.8L1012.1 767.7L1012.5 765.7L1012.9 773.7L1013.3 758.7L1013.7 763.4L1014.1 762.6L1014.5 713.2L1014.9 750.4L1015.3 745.9L1015.7 753.7L1016.1 751.9L1016.5 756.8L1016.9 762.5L1017.3 755.7L1017.7 760.4L1018.1 764.9L1018.5 759.3L1018.9 753.8L1019.3 759.6L1019.7 756.8L1020.1 761.5L1020.5 744.6L1020.9 759.0L1021.3 767.3L1021.7 754.9L1022.1 758.1L1022.5 741.7L1022.9 756.9L1023.3 752.5L1023.7 756.5L1024.1 767.6L1024.5 750.1L1024.9 757.5L1025.3 741.9L1025.7 747.3L1026.1 740.8L1026.5 741.4L1026.9 746.0L1027.3 750.0L1027.7 754.9L1028.1 736.1L1028.5 741.3L1028.9 741.9L1029.3 726.5L1029.7 743.2L1030.1 738.2L1030.5 732.8L1030.9 737.3L1031.3 738.9L1031.7 739.0L1032.1 755.0L1032.5 736.0L1032.9 735.3L1033.3 721.0L1033.7 747.3L1034.1 734.6L1034.5 744.1L1034.9 739.9L1035.3 734.0L1035.7 735.4L1036.1 735.5L1036.5 737.6L1036.9 742.9L1037.3 729.7L1037.7 728.8L1038.1 745.3L1038.5 718.9L1038.9 722.6L1039.3 739.1L1039.7 728.1L1040.1 729.2L1040.5 742.6L1040.9 737.5L1041.3 750.1L1041.7 763.3L1042.1 736.1L1042.5 743.7L1042.9 743.5L1043.3 753.9L1043.7 755.9L1044.1 756.0L1044.5 755.3L1044.9 758.1L1045.3 763.6L1045.7 760.2L1046.1 753.3L1046.5 764.2L1046.9 763.7L1047.3 766.6L1047.7 783.6L1048.1 784.8L1048.5 774.8L1048.9 774.2L1049.3 776.8L1049.7 772.7L1050.1 769.4L1050.5 776.4L1050.9 780.4L1051.3 776.7L1051.7 779.5L1052.1 786.8L1052.5 777.1L1052.9 775.6L1053.3 782.9L1053.7 786.0L1054.1 789.4L1054.5 781.9L1054.9 785.8L1055.3 783.9L1055.7 797.8L1056.1 774.1L1056.5 796.9L1056.9 779.9L1057.3 785.0L1057.7 779.8L1058.1 776.4L1058.5 776.5L1058.9 774.8L1059.3 770.8L1059.7 782.5L1060.1 775.1L1060.5 772.0L1060.9 769.5L1061.3 765.1L1061.7 769.6L1062.1 777.4L1062.5 769.3L1062.9 774.5L1063.3 773.0L1063.7 773.4L1064.1 779.9L1064.5 765.5L1064.9 800.5L1065.3 762.9L1065.7 763.8L1066.1 769.2L1066.5 753.6L1066.9 765.4L1067.3 753.7L1067.7 764.6L1068.1 751.1L1068.5 753.8L1068.9 760.5L1069.3 763.6L1069.7 755.8L1070.1 756.2L1070.5 763.4L1070.9 753.9L1071.3 744.3L1071.7 759.8L1072.1 734.0L1072.5 744.7L1072.9 740.5L1073.3 751.9L1073.7 752.7L1074.1 740.0L1074.5 699.5L1074.9 740.4L1075.3 735.0L1075.7 745.7L1076.1 735.1L1076.5 744.5L1076.9 733.7L1077.3 737.8L1077.7 742.4L1078.1 734.5L1078.5 752.3L1078.9 729.3L1079.3 741.0L1079.7 731.8L1080.1 745.5L1080.5 733.7L1080.9 721.4L1081.3 725.5L1081.7 725.5L1082.1 726.8L1082.5 727.4L1082.9 727.6L1083.3 728.5L1083.7 740.3L1084.1 703.0L1084.5 725.2L1084.9 727.4L1085.3 734.4L1085.7 728.6L1086.1 727.2L1086.5 732.6L1086.9 729.5L1087.3 721.6L1087.7 732.9L1088.1 727.8L1088.5 740.4L1088.9 734.9L1089.3 735.5L1089.7 732.3L1090.1 738.8L1090.5 738.6L1090.9 748.7L1091.3 741.6L1091.7 748.5L1092.1 739.2L1092.5 731.1L1092.9 739.8L1093.3 744.0L1093.7 748.0L1094.1 747.5L1094.5 739.8L1094.9 747.1L1095.3 754.4L1095.7 741.2L1096.1 759.8L1096.5 753.4L1096.9 761.9L1097.3 750.1L1097.7 734.5L1098.1 751.9L1098.5 752.5L1098.9 745.6L1099.3 759.5L1099.7 752.5L1100.1 745.7L1100.5 748.4L1100.9 746.0L1101.3 749.1L1101.7 741.3L1102.1 756.0L1102.5 759.1L1102.9 746.3L1103.3 733.3L1103.7 752.4L1104.1 748.9L1104.5 756.1L1104.9 753.3L1105.3 749.8L1105.7 746.6L1106.1 751.7L1106.5 750.0L1106.9 749.2L1107.3 754.8L1107.7 756.0L1108.1 757.4L1108.5 767.2L1108.9 747.8L1109.3 756.8L1109.7 762.1L1110.1 763.3L1110.5 753.3L1110.9 760.9L1111.3 752.0L1111.7 775.1L1112.1 758.8L1112.5 754.3L1112.9 756.4L1113.3 757.9L1113.7 757.0L1114.1 760.6L1114.5 761.1L1114.9 764.2L1115.3 764.9L1115.7 765.5L1116.1 753.7L1116.5 768.2L1116.9 761.4L1117.3 766.1L1117.7 764.5L1118.1 771.2L1118.5 766.8L1118.9 765.9L1119.3 768.9L1119.7 769.8L1120.1 767.4L1120.5 781.5L1120.9 760.9L1121.3 767.6L1121.7 764.9L1122.1 776.4L1122.5 769.0L1122.9 771.5L1123.3 766.4L1123.7 767.8L1124.1 770.3L1124.5 782.3L1124.9 769.6L1125.3 772.6L1125.7 774.7L1126.1 771.0L1126.5 766.1L1126.9 772.7L1127.3 769.4L1127.7 770.3L1128.1 773.7L1128.5 773.0L1128.9 773.6L1129.3 773.7L1129.7 780.0L1130.1 767.7L1130.5 767.8L1130.9 768.0L1131.3 766.0L1131.7 766.6L1132.1 771.4L1132.5 768.7L1132.9 765.6L1133.3 771.5L1133.7 773.1L1134.1 767.3L1134.5 769.3L1134.9 769.6L1135.3 756.7L1135.7 764.4L1136.1 767.4L1136.5 771.8L1136.9 768.5L1137.3 761.2L1137.7 764.4L1138.1 755.1L1138.5 760.8L1138.9 770.4L1139.3 764.8L1139.7 764.2L1140.1 756.2L1140.5 759.8L1140.9 754.7L1141.3 759.5L1141.7 754.8L1142.1 755.9L1142.5 753.8L1142.9 754.7L1143.3 751.5L1143.7 747.8L1144.1 752.1L1144.5 750.6L1144.9 752.0L1145.3 749.8L1145.7 749.6L1146.1 755.4L1146.5 750.5L1146.9 748.8L1147.3 744.3L1147.7 748.9L1148.1 747.0L1148.5 746.4L1148.9 743.7L1149.3 741.8L1149.7 746.5L1150.1 742.8L1150.5 744.8L1150.9 745.6L1151.3 745.8L1151.7 744.7L1152.1 741.7L1152.5 744.4L1152.9 744.6L1153.3 744.7L1153.7 744.7L1154.1 744.4L1154.5 743.6L1154.9 743.9L1155.3 742.1L1155.7 749.1L1156.1 742.6L1156.5 745.8L1156.9 746.9L1157.3 744.2L1157.7 743.4L1158.1 745.0L1158.5 743.5L1158.9 743.7L1159.3 744.3L1159.7 743.5L1160.1 743.7L1160.5 745.0L1160.9 743.7L1161.3 743.9L1161.7 748.1L1162.1 745.7L1162.5 747.1L1162.9 744.1L1163.3 746.0L1163.7 743.5L1164.1 747.2L1164.5 746.7L1164.9 746.8L1165.3 747.0L1165.7 748.1L1166.1 746.7L1166.5 747.8L1166.9 747.7L1167.3 749.1L1167.7 749.0L1168.1 751.9L1168.5 750.8L1168.9 751.5L1169.3 751.6L1169.7 752.4L1170.1 751.7L1170.5 753.8L1170.9 756.3L1171.3 753.9L1171.7 755.5L1172.1 757.4L1172.5 757.0L1172.9 757.3L1173.3 759.3L1173.7 758.9L1174.1 758.9L1174.5 759.4L1174.9 759.3L1175.3 759.6L1175.7 761.6L1176.1 759.4L1176.5 761.1L1176.9 758.7L1177.3 763.1L1177.7 761.3L1178.1 760.6L1178.5 763.2L1178.9 762.1L1179.3 763.1L1179.7 759.8L1180.1 761.7L1180.5 762.9L1180.9 762.3L1181.3 763.7L1181.7 762.6L1182.1 763.1L1182.5 760.5L1182.9 761.9L1183.3 761.7L1183.7 763.4L1184.1 763.0L1184.5 763.7L1184.9 763.3L1185.3 765.8L1185.7 764.4L1186.1 764.1L1186.5 764.4L1186.9 762.8L1187.3 763.9L1187.7 763.4L1188.1 763.5L1188.5 764.8L1188.9 762.9L1189.3 761.5L1189.7 765.4L1190.1 763.9L1190.5 762.9L1190.9 763.5L1191.3 762.4L1191.7 763.0L1192.1 764.5L1192.5 764.8L1192.9 763.4L1193.3 765.7L1193.7 763.1L1194.1 762.9L1194.5 761.9L1194.9 762.4L1195.3 761.5L1195.7 762.9L1196.1 759.5L1196.5 762.3L1196.9 761.6L1197.3 759.4L1197.7 760.6L1198.1 760.1L1198.5 759.6L1198.9 761.0L1199.3 760.3L1199.7 759.4L1200.1 759.5L1200.5 759.8L1200.9 759.2L1201.3 759.2L1201.7 760.7L1202.1 757.7L1202.5 758.9L1202.9 760.1L1203.3 757.5L1203.7 759.0L1204.1 758.4L1204.5 755.1L1204.9 757.4L1205.3 757.8L1205.7 756.1L1206.1 756.5L1206.5 757.0L1206.9 755.3L1207.3 756.7L1207.7 756.1L1208.1 754.8L1208.5 756.3L1208.9 755.3L1209.3 754.3L1209.7 754.3L1210.1 755.1L1210.5 755.0L1210.9 755.5L1211.3 753.6L1211.7 755.2L1212.1 753.3L1212.5 754.5L1212.9 753.6L1213.3 753.2L1213.7 753.9L1214.1 753.0L1214.5 754.3L1214.9 753.9L1215.3 754.0L1215.7 752.5L1216.1 753.8L1216.5 753.5L1216.9 752.8L1217.3 752.7L1217.7 752.0L1218.1 753.2L1218.5 751.4L1218.9 751.3L1219.3 753.4L1219.7 751.1L1220.1 750.8L1220.5 752.8L1220.9 751.9L1221.3 751.6L1221.7 751.2L1222.1 751.8L1222.5 751.0L1222.9 751.1L1223.3 752.2L1223.7 750.8L1224.1 750.8L1224.5 750.5L1224.9 752.5L1225.3 749.3L1225.7 751.6L1226.1 752.2L1226.5 751.6L1226.9 751.0L1227.3 750.6L1227.7 749.4L1228.1 751.2L1228.5 750.9L1228.9 751.4L1229.3 748.9L1229.7 751.4L1230.1 748.6L1230.5 752.1L1230.9 750.8L1231.3 749.8L1231.7 749.9L1232.1 750.5L1232.5 750.7L1232.9 750.7L1233.3 749.8L1233.7 752.2L1234.1 751.7L1234.5 750.1L1234.9 751.3L1235.3 748.4L1235.7 749.8L1236.1 751.2L1236.5 751.0L1236.9 751.2L1237.3 752.9L1237.7 750.5L1238.1 751.3L1238.5 751.3L1238.9 752.0L1239.3 750.9L1239.7 753.0L1240.1 752.4L1240.5 752.1L1240.9 752.5L1241.3 752.8L1241.7 753.2L1242.1 752.4L1242.5 754.6L1242.9 753.3L1243.3 754.7L1243.7 753.3L1244.1 755.4L1244.5 756.9L1244.9 756.5L1245.3 756.8L1245.7 758.1L1246.1 757.5L1246.5 757.9L1246.9 758.0L1247.3 759.9L1247.7 760.8L1248.1 758.6L1248.5 759.8L1248.9 761.6L1249.3 758.6L1249.7 761.4L1250.1 760.2L1250.5 761.2L1250.9 760.3L1251.3 763.0L1251.7 762.3L1252.1 760.0L1252.5 763.2L1252.9 761.0L1253.3 761.6L1253.7 762.3L1254.1 762.8L1254.5 764.0L1254.9 763.7L1255.3 765.0L1255.7 764.8L1256.1 765.2L1256.5 764.7L1256.9 763.7L1257.3 765.7L1257.7 767.6L1258.1 765.8L1258.5 767.5L1258.9 767.2L1259.3 767.2L1259.7 767.7L1260.1 768.1L1260.5 767.6L1260.9 769.9L1261.3 768.2L1261.7 769.3L1262.1 770.8L1262.5 770.6L1262.9 771.0L1263.3 770.4L1263.7 771.8L1264.1 773.3L1264.5 774.4L1264.9 774.3L1265.3 774.2L1265.7 774.5L1266.1 774.7L1266.5 775.3L1266.9 774.9L1267.3 772.9L1267.7 776.0L1268.1 774.5L1268.5 776.2L1268.9 776.4L1269.3 774.6L1269.7 777.1L1270.1 775.4L1270.5 776.1L1270.9 776.0L1271.3 774.6L1271.7 776.2L1272.1 774.7L1272.5 777.1L1272.9 776.9L1273.3 777.1L1273.7 776.9L1274.1 777.2L1274.5 778.1L1274.9 776.0L1275.3 777.2L1275.7 777.8" fill="none" stroke="#000" stroke-width="0.9" stroke-linejoin="round"/>
<g font-family="Liberation Sans, sans-serif" fill="#000">
<text font-size="200" font-weight="normal" transform="matrix(0.16667 0 0 0.17818 116.50 57.74)">a</text><text font-size="200" font-weight="normal" transform="matrix(0.17308 0 0 0.18529 136.65 58.12)">)</text><text font-size="200" font-weight="normal" transform="matrix(0.18111 0 0 0.17891 808.55 57.74)">b</text><text font-size="200" font-weight="normal" transform="matrix(0.16923 0 0 0.18610 828.66 58.18)">)</text><text x="75.5" y="78.02" font-size="25.5" font-weight="bold" text-anchor="end" letter-spacing="-1.5" >2</text><text x="75.5" y="203.9" font-size="25.5" font-weight="bold" text-anchor="end" letter-spacing="-1.5" >0</text><text x="75.5" y="329.78000000000003" font-size="25.5" font-weight="bold" text-anchor="end" letter-spacing="-1.5" >-2</text><text x="75.5" y="455.66" font-size="25.5" font-weight="bold" text-anchor="end" letter-spacing="-1.5" >-4</text><text x="75.5" y="581.54" font-size="25.5" font-weight="bold" text-anchor="end" letter-spacing="-1.5" >-6</text><text x="769.3" y="78.02" font-size="25.5" font-weight="bold" text-anchor="end" letter-spacing="-1.5" >200</text><text x="769.3" y="203.9" font-size="25.5" font-weight="bold" text-anchor="end" letter-spacing="-1.5" >0</text><text x="769.3" y="329.78000000000003" font-size="25.5" font-weight="bold" text-anchor="end" letter-spacing="-1.5" >-200</text><text x="769.3" y="455.66" font-size="25.5" font-weight="bold" text-anchor="end" letter-spacing="-1.5" >-400</text><text x="769.3" y="581.54" font-size="25.5" font-weight="bold" text-anchor="end" letter-spacing="-1.5" >-600</text><text x="82.3" y="712.2" font-size="17" font-weight="bold" text-anchor="end" letter-spacing="-0.5" >1.0</text><text x="82.3" y="736.65" font-size="17" font-weight="bold" text-anchor="end" letter-spacing="-0.5" >0.5</text><text x="82.3" y="761.1" font-size="17" font-weight="bold" text-anchor="end" letter-spacing="-0.5" >0.0</text><text x="82.3" y="785.5500000000001" font-size="17" font-weight="bold" text-anchor="end" letter-spacing="-0.5" >-0.5</text><text x="82.3" y="810.0" font-size="17" font-weight="bold" text-anchor="end" letter-spacing="-0.5" >-1.0</text><text x="772.8" y="699.8000000000001" font-size="16.3" font-weight="bold" text-anchor="end" letter-spacing="0" >15</text><text x="772.8" y="718.5000000000001" font-size="16.3" font-weight="bold" text-anchor="end" letter-spacing="0" >10</text><text x="772.8" y="737.2" font-size="16.3" font-weight="bold" text-anchor="end" letter-spacing="0" >5</text><text x="772.8" y="755.9000000000001" font-size="16.3" font-weight="bold" text-anchor="end" letter-spacing="0" >0</text><text x="772.8" y="774.6000000000001" font-size="16.3" font-weight="bold" text-anchor="end" letter-spacing="0" >-5</text><text x="772.8" y="793.3000000000001" font-size="16.3" font-weight="bold" text-anchor="end" letter-spacing="0" >-10</text><text x="772.8" y="812.0000000000001" font-size="16.3" font-weight="bold" text-anchor="end" letter-spacing="0" >-15</text><text x="86.3" y="839.5" font-size="23" font-weight="bold" text-anchor="middle" letter-spacing="-1.25" >3331.3</text><text x="777.5" y="840" font-size="23" font-weight="bold" text-anchor="middle" letter-spacing="-1.25" >3331.3</text><text x="180.45" y="839.5" font-size="23" font-weight="bold" text-anchor="middle" letter-spacing="-1.25" >3331.4</text><text x="871.6" y="840" font-size="23" font-weight="bold" text-anchor="middle" letter-spacing="-1.25" >3331.4</text><text x="274.6" y="839.5" font-size="23" font-weight="bold" text-anchor="middle" letter-spacing="-1.25" >3331.5</text><text x="965.7" y="840" font-size="23" font-weight="bold" text-anchor="middle" letter-spacing="-1.25" >3331.5</text><text x="368.75000000000006" y="839.5" font-size="23" font-weight="bold" text-anchor="middle" letter-spacing="-1.25" >3331.6</text><text x="1059.8" y="840" font-size="23" font-weight="bold" text-anchor="middle" letter-spacing="-1.25" >3331.6</text><text x="462.90000000000003" y="839.5" font-size="23" font-weight="bold" text-anchor="middle" letter-spacing="-1.25" >3331.7</text><text x="1153.8999999999999" y="840" font-size="23" font-weight="bold" text-anchor="middle" letter-spacing="-1.25" >3331.7</text><text x="557.05" y="839.5" font-size="23" font-weight="bold" text-anchor="middle" letter-spacing="-1.25" >3331.8</text><text x="1248.0" y="840" font-size="23" font-weight="bold" text-anchor="middle" letter-spacing="-1.25" >3331.8</text><text font-size="200" font-weight="bold" transform="matrix(0 -0.16242 0.16861 0 47.27 546.81)">Photoacoustic signal (mV)</text><text font-size="200" font-weight="bold" transform="matrix(0 -0.16242 0.17080 0 705.27 547.91)">Photoacoustic signal (mV)</text><text font-size="200" font-weight="bold" transform="matrix(0 -0.11648 0.12263 0 42.00 832.41)">Residual (mV)</text><text font-size="200" font-weight="bold" transform="matrix(0 -0.11648 0.12044 0 737.80 832.41)">Residual (mV)</text><text font-size="200" font-weight="bold" transform="matrix(0.15767 0 0 0.17483 199.10 895.45)">Wavenumber</text><text font-size="200" font-weight="bold" transform="matrix(0.16964 0 0 0.19840 403.40 895.67)">(</text><text font-size="200" font-weight="bold" transform="matrix(0.16691 0 0 0.17273 414.66 895.45)">cm</text><text font-size="200" font-weight="bold" transform="matrix(0.12549 0 0 0.14167 460.30 877.37)">-</text><text font-size="200" font-weight="bold" transform="matrix(0.07634 0 0 0.12101 467.81 875.80)">1</text><text font-size="200" font-weight="bold" transform="matrix(0.16429 0 0 0.19840 478.44 895.67)">)</text><text font-size="200" font-weight="bold" transform="matrix(0.15767 0 0 0.17483 895.20 899.35)">Wavenumber</text><text font-size="200" font-weight="bold" transform="matrix(0.16250 0 0 0.19626 1099.67 899.76)">(</text><text font-size="200" font-weight="bold" transform="matrix(0.16729 0 0 0.17545 1110.56 899.65)">cm</text><text font-size="200" font-weight="bold" transform="matrix(0.12745 0 0 0.14167 1156.28 881.47)">-</text><text font-size="200" font-weight="bold" transform="matrix(0.07742 0 0 0.12101 1163.89 880.00)">1</text><text font-size="200" font-weight="bold" transform="matrix(0.16964 0 0 0.19626 1174.53 899.76)">)</text>
</g>
</svg>
</body></html>
